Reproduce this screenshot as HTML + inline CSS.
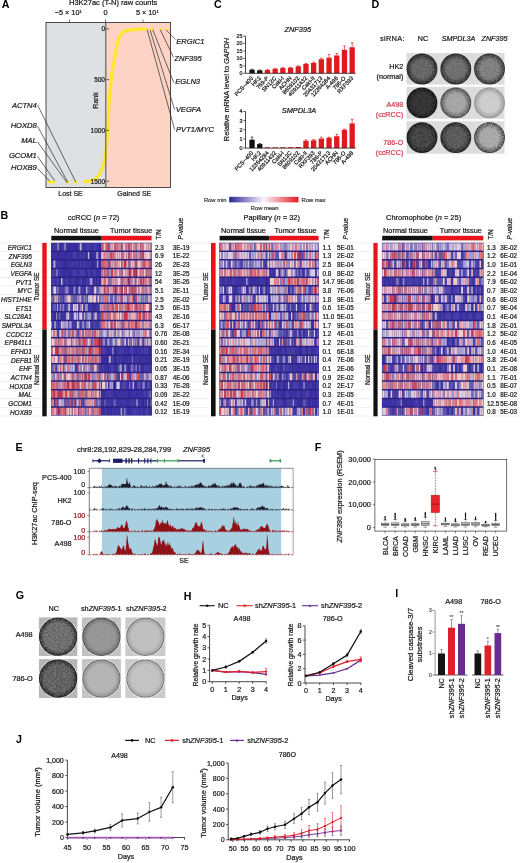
<!DOCTYPE html>
<html lang="en"><head><meta charset="utf-8"><title>Figure</title>
<style>
html,body{margin:0;padding:0;background:#fff;}
body{width:520px;height:863px;overflow:hidden;}
svg{display:block;font-family:'Liberation Sans',sans-serif;filter:blur(0.45px);}
text{stroke-width:0.22px;}
</style></head><body>
<svg width="520" height="863" viewBox="0 0 520 863">
<rect width="520" height="863" fill="#fff"/>

<g id="panelA">
<text x="1.8" y="8.4" font-size="10.7" font-weight="bold" fill="#000">A</text>
<text x="113.2" y="4.9" font-size="7.5" text-anchor="middle" fill="#1a1a1a" stroke="#1a1a1a">H3K27ac (T-N) raw counts</text>
<text x="68.3" y="15.4" font-size="7.3" text-anchor="middle" fill="#1a1a1a" stroke="#1a1a1a">−5 × 10<tspan dy="-2.4" font-size="4.2">1</tspan></text>
<text x="105.6" y="15.4" font-size="7.3" text-anchor="middle" fill="#1a1a1a" stroke="#1a1a1a">0</text>
<text x="147.3" y="15.4" font-size="7.3" text-anchor="middle" fill="#1a1a1a" stroke="#1a1a1a">5 × 10<tspan dy="-2.4" font-size="4.2">1</tspan></text>
<rect x="46" y="22.5" width="59.8" height="165" fill="#dfe0e3"/>
<rect x="105.8" y="22.5" width="64.7" height="165" fill="#fcd3c4"/>
<path d="M83 181.6 C85.33 181.43 86.33 181.77 90 181.1 C93.67 180.43 91 181.63 94 179.6 C97 177.57 96 179.87 99 175 C102 170.13 100.87 171.67 103 165 C105.13 158.33 104.2 161.67 105.4 155 C106.6 148.33 105.73 155 106.6 145 C107.47 135 107.1 140 108 125 C108.9 110 108.2 115 109.3 100 C110.4 85 110.23 90 111.3 80 C112.37 70 111.67 75.83 112.5 70 C113.33 64.17 112.67 68.6 113.8 62.5 C114.93 56.4 114.57 58.5 115.9 51.7 C117.23 44.9 116.2 47.53 117.8 42.1 C119.4 36.67 118.63 38.9 120.7 35.4 C122.77 31.9 120.33 33.47 124 31.6 C127.67 29.73 125.27 30.63 131.7 29.8 C138.13 28.97 138.03 29.33 143.3 29.1 C148.57 28.87 146.1 29.1 147.5 29.1" fill="none" stroke="#ffe72b" stroke-width="3.2" stroke-linejoin="round"/>
<line x1="47.5" y1="182" x2="55.5" y2="182" stroke="#ffe72b" stroke-width="2.6"/>
<line x1="65" y1="182" x2="68.8" y2="182" stroke="#ffe72b" stroke-width="2.6"/>
<line x1="74.3" y1="182" x2="77.2" y2="182" stroke="#ffe72b" stroke-width="2.6"/>
<line x1="149.5" y1="29.3" x2="153.5" y2="29.3" stroke="#ffe72b" stroke-width="2.4"/>
<line x1="159.5" y1="29.3" x2="161.3" y2="29.3" stroke="#ffe72b" stroke-width="2.4"/>
<line x1="165.3" y1="29.3" x2="166.8" y2="29.3" stroke="#ffe72b" stroke-width="2.4"/>
<rect x="46" y="22.5" width="124.5" height="165" fill="none" stroke="#3a3a3a" stroke-width="0.9"/>
<line x1="105.8" y1="22.5" x2="105.8" y2="187.5" stroke="#3a3a3a" stroke-width="0.9"/>
<line x1="69.5" y1="19.5" x2="69.5" y2="22.5" stroke="#3a3a3a" stroke-width="0.7"/>
<line x1="105.5" y1="19.5" x2="105.5" y2="22.5" stroke="#3a3a3a" stroke-width="0.7"/>
<line x1="143" y1="19.5" x2="143" y2="22.5" stroke="#3a3a3a" stroke-width="0.7"/>
<line x1="105.8" y1="28.8" x2="109.3" y2="28.8" stroke="#3a3a3a" stroke-width="0.7"/>
<text x="105" y="31.1" font-size="6.5" text-anchor="end" fill="#1a1a1a" stroke="#1a1a1a">0</text>
<line x1="105.8" y1="79.6" x2="109.3" y2="79.6" stroke="#3a3a3a" stroke-width="0.7"/>
<text x="105" y="81.9" font-size="6.5" text-anchor="end" fill="#1a1a1a" stroke="#1a1a1a">500</text>
<line x1="105.8" y1="130.4" x2="109.3" y2="130.4" stroke="#3a3a3a" stroke-width="0.7"/>
<text x="105" y="132.7" font-size="6.5" text-anchor="end" fill="#1a1a1a" stroke="#1a1a1a">1000</text>
<line x1="105.8" y1="181.2" x2="109.3" y2="181.2" stroke="#3a3a3a" stroke-width="0.7"/>
<text x="105" y="183.5" font-size="6.5" text-anchor="end" fill="#1a1a1a" stroke="#1a1a1a">1500</text>
<text font-size="7" text-anchor="middle" transform="translate(97.7 100.5) rotate(-90)" fill="#1a1a1a" stroke="#1a1a1a">Rank</text>
<text x="36.8" y="108.2" font-size="7.6" text-anchor="end" font-style="italic" fill="#1a1a1a" stroke="#1a1a1a">ACTN4</text>
<line x1="37.6" y1="105" x2="75.7" y2="182" stroke="#2a2a2a" stroke-width="0.7"/>
<text x="36.8" y="127.7" font-size="7.6" text-anchor="end" font-style="italic" fill="#1a1a1a" stroke="#1a1a1a">HOXD8</text>
<line x1="37.6" y1="126.3" x2="67.7" y2="182" stroke="#2a2a2a" stroke-width="0.7"/>
<text x="36.8" y="143.1" font-size="7.6" text-anchor="end" font-style="italic" fill="#1a1a1a" stroke="#1a1a1a">MAL</text>
<line x1="37.6" y1="142" x2="67" y2="182.6" stroke="#2a2a2a" stroke-width="0.7"/>
<text x="36.8" y="158" font-size="7.6" text-anchor="end" font-style="italic" fill="#1a1a1a" stroke="#1a1a1a">GCOM1</text>
<line x1="37.6" y1="156.5" x2="54.6" y2="180.6" stroke="#2a2a2a" stroke-width="0.7"/>
<text x="36.8" y="170" font-size="7.6" text-anchor="end" font-style="italic" fill="#1a1a1a" stroke="#1a1a1a">HOXB9</text>
<line x1="37.6" y1="168.5" x2="49.5" y2="181" stroke="#2a2a2a" stroke-width="0.7"/>
<text x="176.3" y="43.7" font-size="7.6" font-style="italic" fill="#1a1a1a" stroke="#1a1a1a">ERGIC1</text>
<line x1="166" y1="29.8" x2="175.7" y2="39.6" stroke="#2a2a2a" stroke-width="0.7"/>
<text x="174.3" y="60.7" font-size="7.6" font-style="italic" fill="#1a1a1a" stroke="#1a1a1a">ZNF395</text>
<line x1="160.3" y1="29.8" x2="173.5" y2="57.3" stroke="#2a2a2a" stroke-width="0.7"/>
<text x="175.2" y="84.2" font-size="7.6" font-style="italic" fill="#1a1a1a" stroke="#1a1a1a">EGLN3</text>
<line x1="152.8" y1="29.8" x2="173.8" y2="82.7" stroke="#2a2a2a" stroke-width="0.7"/>
<text x="175.8" y="111.7" font-size="7.6" font-style="italic" fill="#1a1a1a" stroke="#1a1a1a">VEGFA</text>
<line x1="150" y1="29.8" x2="174.6" y2="109.6" stroke="#2a2a2a" stroke-width="0.7"/>
<text x="176" y="131.7" font-size="7.6" font-style="italic" fill="#1a1a1a" stroke="#1a1a1a">PVT1/MYC</text>
<line x1="147.2" y1="29.8" x2="174.6" y2="129.6" stroke="#2a2a2a" stroke-width="0.7"/>
<text x="70.5" y="196.2" font-size="7" text-anchor="middle" fill="#1a1a1a" stroke="#1a1a1a">Lost SE</text>
<text x="134.3" y="196.2" font-size="7" text-anchor="middle" fill="#1a1a1a" stroke="#1a1a1a">Gained SE</text>
</g>
<g id="panelC">
<text x="214" y="8.4" font-size="10.7" font-weight="bold" fill="#000">C</text>
<text font-size="7.35" text-anchor="middle" transform="translate(229 89.5) rotate(-90)" fill="#1a1a1a" stroke="#1a1a1a">Relative mRNA level to <tspan font-style="italic">GAPDH</tspan></text>
<line x1="245.5" y1="36.1" x2="245.5" y2="73.3" stroke="#1a1a1a" stroke-width="0.8"/>
<line x1="243.3" y1="73.3" x2="245.5" y2="73.3" stroke="#1a1a1a" stroke-width="0.7"/>
<text x="242.5" y="75.2" font-size="5.4" text-anchor="end" fill="#1a1a1a" stroke="#1a1a1a">0</text>
<line x1="243.3" y1="65.86" x2="245.5" y2="65.86" stroke="#1a1a1a" stroke-width="0.7"/>
<text x="242.5" y="67.76" font-size="5.4" text-anchor="end" fill="#1a1a1a" stroke="#1a1a1a">5</text>
<line x1="243.3" y1="58.42" x2="245.5" y2="58.42" stroke="#1a1a1a" stroke-width="0.7"/>
<text x="242.5" y="60.32" font-size="5.4" text-anchor="end" fill="#1a1a1a" stroke="#1a1a1a">10</text>
<line x1="243.3" y1="50.98" x2="245.5" y2="50.98" stroke="#1a1a1a" stroke-width="0.7"/>
<text x="242.5" y="52.88" font-size="5.4" text-anchor="end" fill="#1a1a1a" stroke="#1a1a1a">15</text>
<line x1="243.3" y1="43.54" x2="245.5" y2="43.54" stroke="#1a1a1a" stroke-width="0.7"/>
<text x="242.5" y="45.44" font-size="5.4" text-anchor="end" fill="#1a1a1a" stroke="#1a1a1a">20</text>
<line x1="243.3" y1="36.1" x2="245.5" y2="36.1" stroke="#1a1a1a" stroke-width="0.7"/>
<text x="242.5" y="38" font-size="5.4" text-anchor="end" fill="#1a1a1a" stroke="#1a1a1a">25</text>
<text x="297.8" y="31.9" font-size="7.4" text-anchor="middle" font-style="italic" fill="#1a1a1a" stroke="#1a1a1a">ZNF395</text>
<line x1="252.05" y1="69.21" x2="252.05" y2="69.73" stroke="#111" stroke-width="0.7"/>
<line x1="250.75" y1="69.21" x2="253.35" y2="69.21" stroke="#111" stroke-width="0.7"/>
<rect x="249.4" y="69.73" width="5.3" height="3.57" fill="#111"/>
<text font-size="5.7" text-anchor="end" transform="translate(253.65 78.5) rotate(-47)" fill="#1a1a1a" stroke="#1a1a1a">PCS−400</text>
<line x1="259.75" y1="70.03" x2="259.75" y2="70.32" stroke="#111" stroke-width="0.7"/>
<line x1="258.45" y1="70.03" x2="261.05" y2="70.03" stroke="#111" stroke-width="0.7"/>
<rect x="257.1" y="70.32" width="5.3" height="2.98" fill="#111"/>
<text font-size="5.7" text-anchor="end" transform="translate(261.35 78.5) rotate(-47)" fill="#1a1a1a" stroke="#1a1a1a">HK2</text>
<line x1="267.45" y1="69.65" x2="267.45" y2="70.03" stroke="#e0191f" stroke-width="0.7"/>
<line x1="266.15" y1="69.65" x2="268.75" y2="69.65" stroke="#e0191f" stroke-width="0.7"/>
<rect x="264.8" y="70.03" width="5.3" height="3.27" fill="#e0191f"/>
<text font-size="5.7" text-anchor="end" transform="translate(269.05 78.5) rotate(-47)" fill="#1a1a1a" stroke="#1a1a1a">769-P</text>
<line x1="275.15" y1="68.39" x2="275.15" y2="68.84" stroke="#e0191f" stroke-width="0.7"/>
<line x1="273.85" y1="68.39" x2="276.45" y2="68.39" stroke="#e0191f" stroke-width="0.7"/>
<rect x="272.5" y="68.84" width="5.3" height="4.46" fill="#e0191f"/>
<text font-size="5.7" text-anchor="end" transform="translate(276.75 78.5) rotate(-47)" fill="#1a1a1a" stroke="#1a1a1a">SN12C</text>
<line x1="282.85" y1="67.57" x2="282.85" y2="68.09" stroke="#e0191f" stroke-width="0.7"/>
<line x1="281.55" y1="67.57" x2="284.15" y2="67.57" stroke="#e0191f" stroke-width="0.7"/>
<rect x="280.2" y="68.09" width="5.3" height="5.21" fill="#e0191f"/>
<text font-size="5.7" text-anchor="end" transform="translate(284.45 78.5) rotate(-47)" fill="#1a1a1a" stroke="#1a1a1a">Caki-I</text>
<line x1="290.55" y1="67.35" x2="290.55" y2="67.79" stroke="#e0191f" stroke-width="0.7"/>
<line x1="289.25" y1="67.35" x2="291.85" y2="67.35" stroke="#e0191f" stroke-width="0.7"/>
<rect x="287.9" y="67.79" width="5.3" height="5.51" fill="#e0191f"/>
<text font-size="5.7" text-anchor="end" transform="translate(292.15 78.5) rotate(-47)" fill="#1a1a1a" stroke="#1a1a1a">ACHN</text>
<line x1="298.25" y1="65.86" x2="298.25" y2="66.31" stroke="#e0191f" stroke-width="0.7"/>
<line x1="296.95" y1="65.86" x2="299.55" y2="65.86" stroke="#e0191f" stroke-width="0.7"/>
<rect x="295.6" y="66.31" width="5.3" height="6.99" fill="#e0191f"/>
<text font-size="5.7" text-anchor="end" transform="translate(299.85 78.5) rotate(-47)" fill="#1a1a1a" stroke="#1a1a1a">8609102</text>
<line x1="305.95" y1="63.48" x2="305.95" y2="63.93" stroke="#e0191f" stroke-width="0.7"/>
<line x1="304.65" y1="63.48" x2="307.25" y2="63.48" stroke="#e0191f" stroke-width="0.7"/>
<rect x="303.3" y="63.93" width="5.3" height="9.37" fill="#e0191f"/>
<text font-size="5.7" text-anchor="end" transform="translate(307.55 78.5) rotate(-47)" fill="#1a1a1a" stroke="#1a1a1a">40911432</text>
<line x1="313.65" y1="62.14" x2="313.65" y2="62.88" stroke="#e0191f" stroke-width="0.7"/>
<line x1="312.35" y1="62.14" x2="314.95" y2="62.14" stroke="#e0191f" stroke-width="0.7"/>
<rect x="311" y="62.88" width="5.3" height="10.42" fill="#e0191f"/>
<text font-size="5.7" text-anchor="end" transform="translate(315.25 78.5) rotate(-47)" fill="#1a1a1a" stroke="#1a1a1a">Caki-II</text>
<line x1="321.35" y1="57.97" x2="321.35" y2="59.16" stroke="#e0191f" stroke-width="0.7"/>
<line x1="320.05" y1="57.97" x2="322.65" y2="57.97" stroke="#e0191f" stroke-width="0.7"/>
<rect x="318.7" y="59.16" width="5.3" height="14.14" fill="#e0191f"/>
<text font-size="5.7" text-anchor="end" transform="translate(322.95 78.5) rotate(-47)" fill="#1a1a1a" stroke="#1a1a1a">20431713</text>
<line x1="329.05" y1="54.4" x2="329.05" y2="57.68" stroke="#e0191f" stroke-width="0.7"/>
<line x1="327.75" y1="54.4" x2="330.35" y2="54.4" stroke="#e0191f" stroke-width="0.7"/>
<rect x="326.4" y="57.68" width="5.3" height="15.62" fill="#e0191f"/>
<text font-size="5.7" text-anchor="end" transform="translate(330.65 78.5) rotate(-47)" fill="#1a1a1a" stroke="#1a1a1a">12364284</text>
<line x1="336.75" y1="53.51" x2="336.75" y2="55.44" stroke="#e0191f" stroke-width="0.7"/>
<line x1="335.45" y1="53.51" x2="338.05" y2="53.51" stroke="#e0191f" stroke-width="0.7"/>
<rect x="334.1" y="55.44" width="5.3" height="17.86" fill="#e0191f"/>
<text font-size="5.7" text-anchor="end" transform="translate(338.35 78.5) rotate(-47)" fill="#1a1a1a" stroke="#1a1a1a">A-498</text>
<line x1="344.45" y1="45.92" x2="344.45" y2="49.79" stroke="#e0191f" stroke-width="0.7"/>
<line x1="343.15" y1="45.92" x2="345.75" y2="45.92" stroke="#e0191f" stroke-width="0.7"/>
<rect x="341.8" y="49.79" width="5.3" height="23.51" fill="#e0191f"/>
<text font-size="5.7" text-anchor="end" transform="translate(346.05 78.5) rotate(-47)" fill="#1a1a1a" stroke="#1a1a1a">786-O</text>
<line x1="352.15" y1="42.8" x2="352.15" y2="47.26" stroke="#e0191f" stroke-width="0.7"/>
<line x1="350.85" y1="42.8" x2="353.45" y2="42.8" stroke="#e0191f" stroke-width="0.7"/>
<rect x="349.5" y="47.26" width="5.3" height="26.04" fill="#e0191f"/>
<text font-size="5.7" text-anchor="end" transform="translate(353.75 78.5) rotate(-47)" fill="#1a1a1a" stroke="#1a1a1a">RXF393</text>
<line x1="245.5" y1="73.3" x2="355.7" y2="73.3" stroke="#1a1a1a" stroke-width="0.8"/>
<line x1="245.5" y1="111.5" x2="245.5" y2="148.1" stroke="#1a1a1a" stroke-width="0.8"/>
<line x1="243.3" y1="148.1" x2="245.5" y2="148.1" stroke="#1a1a1a" stroke-width="0.7"/>
<text x="242.5" y="150" font-size="5.4" text-anchor="end" fill="#1a1a1a" stroke="#1a1a1a">0</text>
<line x1="243.3" y1="138.95" x2="245.5" y2="138.95" stroke="#1a1a1a" stroke-width="0.7"/>
<text x="242.5" y="140.85" font-size="5.4" text-anchor="end" fill="#1a1a1a" stroke="#1a1a1a">1</text>
<line x1="243.3" y1="129.8" x2="245.5" y2="129.8" stroke="#1a1a1a" stroke-width="0.7"/>
<text x="242.5" y="131.7" font-size="5.4" text-anchor="end" fill="#1a1a1a" stroke="#1a1a1a">2</text>
<line x1="243.3" y1="120.65" x2="245.5" y2="120.65" stroke="#1a1a1a" stroke-width="0.7"/>
<text x="242.5" y="122.55" font-size="5.4" text-anchor="end" fill="#1a1a1a" stroke="#1a1a1a">3</text>
<line x1="243.3" y1="111.5" x2="245.5" y2="111.5" stroke="#1a1a1a" stroke-width="0.7"/>
<text x="242.5" y="113.4" font-size="5.4" text-anchor="end" fill="#1a1a1a" stroke="#1a1a1a">4</text>
<text x="299" y="112.9" font-size="7.4" text-anchor="middle" font-style="italic" fill="#1a1a1a" stroke="#1a1a1a">SMPDL3A</text>
<line x1="252.05" y1="137.12" x2="252.05" y2="139.68" stroke="#111" stroke-width="0.7"/>
<line x1="250.75" y1="137.12" x2="253.35" y2="137.12" stroke="#111" stroke-width="0.7"/>
<rect x="249.4" y="139.68" width="5.3" height="8.42" fill="#111"/>
<text font-size="5.7" text-anchor="end" transform="translate(253.65 153.3) rotate(-47)" fill="#1a1a1a" stroke="#1a1a1a">PCS−400</text>
<line x1="259.75" y1="143.62" x2="259.75" y2="144.07" stroke="#111" stroke-width="0.7"/>
<line x1="258.45" y1="143.62" x2="261.05" y2="143.62" stroke="#111" stroke-width="0.7"/>
<rect x="257.1" y="144.07" width="5.3" height="4.03" fill="#111"/>
<text font-size="5.7" text-anchor="end" transform="translate(261.35 153.3) rotate(-47)" fill="#1a1a1a" stroke="#1a1a1a">HK2</text>
<rect x="264.8" y="147.37" width="5.3" height="0.73" fill="#e0191f"/>
<text font-size="5.7" text-anchor="end" transform="translate(269.05 153.3) rotate(-47)" fill="#1a1a1a" stroke="#1a1a1a">12364284</text>
<rect x="272.5" y="147.37" width="5.3" height="0.73" fill="#e0191f"/>
<text font-size="5.7" text-anchor="end" transform="translate(276.75 153.3) rotate(-47)" fill="#1a1a1a" stroke="#1a1a1a">40911432</text>
<rect x="280.2" y="147.28" width="5.3" height="0.82" fill="#e0191f"/>
<text font-size="5.7" text-anchor="end" transform="translate(284.45 153.3) rotate(-47)" fill="#1a1a1a" stroke="#1a1a1a">Caki-I</text>
<rect x="287.9" y="147.19" width="5.3" height="0.92" fill="#e0191f"/>
<text font-size="5.7" text-anchor="end" transform="translate(292.15 153.3) rotate(-47)" fill="#1a1a1a" stroke="#1a1a1a">SN12C</text>
<rect x="295.6" y="147" width="5.3" height="1.1" fill="#e0191f"/>
<text font-size="5.7" text-anchor="end" transform="translate(299.85 153.3) rotate(-47)" fill="#1a1a1a" stroke="#1a1a1a">8609102</text>
<line x1="305.95" y1="139.87" x2="305.95" y2="140.78" stroke="#e0191f" stroke-width="0.7"/>
<line x1="304.65" y1="139.87" x2="307.25" y2="139.87" stroke="#e0191f" stroke-width="0.7"/>
<rect x="303.3" y="140.78" width="5.3" height="7.32" fill="#e0191f"/>
<text font-size="5.7" text-anchor="end" transform="translate(307.55 153.3) rotate(-47)" fill="#1a1a1a" stroke="#1a1a1a">Caki-II</text>
<line x1="313.65" y1="139.59" x2="313.65" y2="140.32" stroke="#e0191f" stroke-width="0.7"/>
<line x1="312.35" y1="139.59" x2="314.95" y2="139.59" stroke="#e0191f" stroke-width="0.7"/>
<rect x="311" y="140.32" width="5.3" height="7.78" fill="#e0191f"/>
<text font-size="5.7" text-anchor="end" transform="translate(315.25 153.3) rotate(-47)" fill="#1a1a1a" stroke="#1a1a1a">RXF393</text>
<line x1="321.35" y1="137.21" x2="321.35" y2="138.58" stroke="#e0191f" stroke-width="0.7"/>
<line x1="320.05" y1="137.21" x2="322.65" y2="137.21" stroke="#e0191f" stroke-width="0.7"/>
<rect x="318.7" y="138.58" width="5.3" height="9.52" fill="#e0191f"/>
<text font-size="5.7" text-anchor="end" transform="translate(322.95 153.3) rotate(-47)" fill="#1a1a1a" stroke="#1a1a1a">786-P</text>
<line x1="329.05" y1="137.21" x2="329.05" y2="137.76" stroke="#e0191f" stroke-width="0.7"/>
<line x1="327.75" y1="137.21" x2="330.35" y2="137.21" stroke="#e0191f" stroke-width="0.7"/>
<rect x="326.4" y="137.76" width="5.3" height="10.34" fill="#e0191f"/>
<text font-size="5.7" text-anchor="end" transform="translate(330.65 153.3) rotate(-47)" fill="#1a1a1a" stroke="#1a1a1a">20431713</text>
<line x1="336.75" y1="134.37" x2="336.75" y2="136.2" stroke="#e0191f" stroke-width="0.7"/>
<line x1="335.45" y1="134.37" x2="338.05" y2="134.37" stroke="#e0191f" stroke-width="0.7"/>
<rect x="334.1" y="136.2" width="5.3" height="11.9" fill="#e0191f"/>
<text font-size="5.7" text-anchor="end" transform="translate(338.35 153.3) rotate(-47)" fill="#1a1a1a" stroke="#1a1a1a">ACHN</text>
<line x1="344.45" y1="129.07" x2="344.45" y2="129.8" stroke="#e0191f" stroke-width="0.7"/>
<line x1="343.15" y1="129.07" x2="345.75" y2="129.07" stroke="#e0191f" stroke-width="0.7"/>
<rect x="341.8" y="129.8" width="5.3" height="18.3" fill="#e0191f"/>
<text font-size="5.7" text-anchor="end" transform="translate(346.05 153.3) rotate(-47)" fill="#1a1a1a" stroke="#1a1a1a">786-O</text>
<line x1="352.15" y1="119.28" x2="352.15" y2="123.39" stroke="#e0191f" stroke-width="0.7"/>
<line x1="350.85" y1="119.28" x2="353.45" y2="119.28" stroke="#e0191f" stroke-width="0.7"/>
<rect x="349.5" y="123.39" width="5.3" height="24.71" fill="#e0191f"/>
<text font-size="5.7" text-anchor="end" transform="translate(353.75 153.3) rotate(-47)" fill="#1a1a1a" stroke="#1a1a1a">A-498</text>
<line x1="245.5" y1="148.1" x2="355.7" y2="148.1" stroke="#1a1a1a" stroke-width="0.8"/>
</g>
<g id="panelD">
<defs><filter id="speck" x="0" y="0" width="100%" height="100%"><feTurbulence type="fractalNoise" baseFrequency="0.55" numOctaves="2" seed="7" result="n"/><feColorMatrix in="n" type="matrix" values="0 0 0 0 0.5  0 0 0 0 0.5  0 0 0 0 0.5  2.6 2.6 0 0 -2.2"/><feComposite in2="SourceGraphic" operator="in"/></filter></defs>
<text x="371.4" y="8.3" font-size="10.7" font-weight="bold" fill="#000">D</text>
<text x="380" y="41" font-size="7.4" fill="#1a1a1a" stroke="#1a1a1a" letter-spacing="0.3">siRNA:</text>
<text x="423" y="41" font-size="7.2" text-anchor="middle" fill="#1a1a1a" stroke="#1a1a1a">NC</text>
<text x="458.5" y="41" font-size="7.2" text-anchor="middle" font-style="italic" fill="#1a1a1a" stroke="#1a1a1a">SMPDL3A</text>
<text x="494.5" y="41" font-size="7.2" text-anchor="middle" font-style="italic" fill="#1a1a1a" stroke="#1a1a1a">ZNF395</text>
<text x="403.3" y="68.8" font-size="7.2" text-anchor="end" fill="#1a1a1a" stroke="#1a1a1a">HK2</text>
<text x="403.3" y="79.1" font-size="7.2" text-anchor="end" fill="#1a1a1a" stroke="#1a1a1a">(normal)</text>
<text x="403.3" y="106.8" font-size="7.2" text-anchor="end" fill="#cf3b4a" stroke="#cf3b4a">A498</text>
<text x="403.3" y="116.5" font-size="7.2" text-anchor="end" fill="#cf3b4a" stroke="#cf3b4a">(ccRCC)</text>
<text x="403.3" y="144.5" font-size="7.2" text-anchor="end" fill="#cf3b4a" stroke="#cf3b4a">786-O</text>
<text x="403.3" y="154.9" font-size="7.2" text-anchor="end" fill="#cf3b4a" stroke="#cf3b4a">(ccRCC)</text>
<rect x="406.5" y="53" width="98" height="31.6" fill="#dcdcdc"/>
<radialGradient id="wg0" cx="422" cy="69" r="15.4" gradientUnits="userSpaceOnUse"><stop offset="0" stop-color="#5e5e5e"/><stop offset="0.6" stop-color="#5e5e5e"/><stop offset="0.92" stop-color="#2a2a2a"/><stop offset="1" stop-color="#1c1c1c"/></radialGradient>
<circle cx="422" cy="69" r="15.4" fill="url(#wg0)"/>
<circle cx="422" cy="69" r="14.8" fill="#fff" filter="url(#speck)" opacity="0.22"/>
<radialGradient id="wg1" cx="455.8" cy="69" r="15.4" gradientUnits="userSpaceOnUse"><stop offset="0" stop-color="#686868"/><stop offset="0.6" stop-color="#686868"/><stop offset="0.92" stop-color="#303030"/><stop offset="1" stop-color="#1c1c1c"/></radialGradient>
<circle cx="455.8" cy="69" r="15.4" fill="url(#wg1)"/>
<circle cx="455.8" cy="69" r="14.8" fill="#fff" filter="url(#speck)" opacity="0.22"/>
<radialGradient id="wg2" cx="489.5" cy="69" r="15.4" gradientUnits="userSpaceOnUse"><stop offset="0" stop-color="#787878"/><stop offset="0.6" stop-color="#787878"/><stop offset="0.92" stop-color="#383838"/><stop offset="1" stop-color="#222"/></radialGradient>
<circle cx="489.5" cy="69" r="15.4" fill="url(#wg2)"/>
<circle cx="489.5" cy="69" r="14.8" fill="#fff" filter="url(#speck)" opacity="0.28"/>
<rect x="406.5" y="86.8" width="98" height="32" fill="#dcdcdc"/>
<radialGradient id="wg3" cx="422" cy="102.9" r="15.4" gradientUnits="userSpaceOnUse"><stop offset="0" stop-color="#2e2e2e"/><stop offset="0.6" stop-color="#2e2e2e"/><stop offset="0.92" stop-color="#1a1a1a"/><stop offset="1" stop-color="#161616"/></radialGradient>
<circle cx="422" cy="102.9" r="15.4" fill="url(#wg3)"/>
<circle cx="422" cy="102.9" r="14.8" fill="#fff" filter="url(#speck)" opacity="0.12"/>
<radialGradient id="wg4" cx="455.8" cy="102.9" r="15.4" gradientUnits="userSpaceOnUse"><stop offset="0" stop-color="#a2a2a2"/><stop offset="0.6" stop-color="#a2a2a2"/><stop offset="0.92" stop-color="#5a5a5a"/><stop offset="1" stop-color="#3a3a3a"/></radialGradient>
<circle cx="455.8" cy="102.9" r="15.4" fill="url(#wg4)"/>
<circle cx="455.8" cy="102.9" r="14.8" fill="#fff" filter="url(#speck)" opacity="0.3"/>
<radialGradient id="wg5" cx="489.5" cy="102.9" r="15.4" gradientUnits="userSpaceOnUse"><stop offset="0" stop-color="#d0d0d0"/><stop offset="0.6" stop-color="#d0d0d0"/><stop offset="0.92" stop-color="#a4a4a4"/><stop offset="1" stop-color="#8a8a8a"/></radialGradient>
<circle cx="489.5" cy="102.9" r="15.4" fill="url(#wg5)"/>
<circle cx="489.5" cy="102.9" r="14.8" fill="#fff" filter="url(#speck)" opacity="0.3"/>
<rect x="406.5" y="121.2" width="98" height="32.6" fill="#dcdcdc"/>
<radialGradient id="wg6" cx="422" cy="137.6" r="15.4" gradientUnits="userSpaceOnUse"><stop offset="0" stop-color="#3c3c3c"/><stop offset="0.6" stop-color="#3c3c3c"/><stop offset="0.92" stop-color="#1f1f1f"/><stop offset="1" stop-color="#161616"/></radialGradient>
<circle cx="422" cy="137.6" r="15.4" fill="url(#wg6)"/>
<circle cx="422" cy="137.6" r="14.8" fill="#fff" filter="url(#speck)" opacity="0.18"/>
<radialGradient id="wg7" cx="455.8" cy="137.6" r="15.4" gradientUnits="userSpaceOnUse"><stop offset="0" stop-color="#525252"/><stop offset="0.6" stop-color="#525252"/><stop offset="0.92" stop-color="#282828"/><stop offset="1" stop-color="#1a1a1a"/></radialGradient>
<circle cx="455.8" cy="137.6" r="15.4" fill="url(#wg7)"/>
<circle cx="455.8" cy="137.6" r="14.8" fill="#fff" filter="url(#speck)" opacity="0.22"/>
<radialGradient id="wg8" cx="489.5" cy="137.6" r="15.4" gradientUnits="userSpaceOnUse"><stop offset="0" stop-color="#a4a4a4"/><stop offset="0.6" stop-color="#a4a4a4"/><stop offset="0.92" stop-color="#4c4c4c"/><stop offset="1" stop-color="#2c2c2c"/></radialGradient>
<circle cx="489.5" cy="137.6" r="15.4" fill="url(#wg8)"/>
<circle cx="489.5" cy="137.6" r="14.8" fill="#fff" filter="url(#speck)" opacity="0.5"/>
</g>
<g id="panelB">
<text x="0.5" y="218.9" font-size="10.7" font-weight="bold" fill="#000">B</text>
<defs><linearGradient id="lg"><stop offset="0" stop-color="#2b2596"/><stop offset="0.5" stop-color="#fbf4fb"/><stop offset="1" stop-color="#e21a22"/></linearGradient></defs>
<rect x="229.2" y="196.8" width="69.3" height="5.6" fill="url(#lg)"/>
<text x="226.5" y="201.8" font-size="5.8" text-anchor="end" fill="#3c3c46" stroke="#3c3c46">Row min</text>
<text x="301.5" y="201.8" font-size="5.8" fill="#3c3c46" stroke="#3c3c46">Row max</text>
<text x="264.6" y="209.6" font-size="5.8" text-anchor="middle" fill="#3c3c46" stroke="#3c3c46">Row mean</text>
<path d="M0 242.85H51M0 251.51H51M0 260.17H51M0 268.83H51M0 277.49H51M0 286.15H51M0 294.81H51M0 303.47H51M0 312.13H51M0 320.79H51M0 329.45H51M0 338.11H51M0 346.77H51M0 355.43H51M0 364.09H51M0 372.75H51M0 381.41H51M0 390.07H51M0 398.73H51M0 407.39H51M0 416.05H51" fill="none" stroke="#e0e0e0" stroke-width="0.5"/>
<path d="M152 242.85H209M152 251.51H209M152 260.17H209M152 268.83H209M152 277.49H209M152 286.15H209M152 294.81H209M152 303.47H209M152 312.13H209M152 320.79H209M152 329.45H209M152 338.11H209M152 346.77H209M152 355.43H209M152 364.09H209M152 372.75H209M152 381.41H209M152 390.07H209M152 398.73H209M152 407.39H209M152 416.05H209" fill="none" stroke="#e0e0e0" stroke-width="0.5"/>
<path d="M319 242.85H372M319 251.51H372M319 260.17H372M319 268.83H372M319 277.49H372M319 286.15H372M319 294.81H372M319 303.47H372M319 312.13H372M319 320.79H372M319 329.45H372M319 338.11H372M319 346.77H372M319 355.43H372M319 364.09H372M319 372.75H372M319 381.41H372M319 390.07H372M319 398.73H372M319 407.39H372M319 416.05H372" fill="none" stroke="#e0e0e0" stroke-width="0.5"/>
<path d="M484 242.85H520M484 251.51H520M484 260.17H520M484 268.83H520M484 277.49H520M484 286.15H520M484 294.81H520M484 303.47H520M484 312.13H520M484 320.79H520M484 329.45H520M484 338.11H520M484 346.77H520M484 355.43H520M484 364.09H520M484 372.75H520M484 381.41H520M484 390.07H520M484 398.73H520M484 407.39H520M484 416.05H520" fill="none" stroke="#e0e0e0" stroke-width="0.5"/>
<text x="93.6" y="219.7" font-size="7.45" text-anchor="middle" fill="#1a1a1a" stroke="#1a1a1a">ccRCC (<tspan font-style="italic">n</tspan> = 72)</text>
<text x="76.5" y="232.7" font-size="7.35" text-anchor="middle" fill="#1a1a1a" stroke="#1a1a1a">Normal tissue</text>
<text x="131.2" y="232.7" font-size="7.35" text-anchor="middle" fill="#1a1a1a" stroke="#1a1a1a">Tumor tissue</text>
<rect x="51.3" y="235.8" width="49.7" height="4.6" fill="#111"/>
<rect x="101" y="235.8" width="50.6" height="4.6" fill="#e8121c"/>
<text font-size="6.4" transform="translate(160.8 239.6) rotate(-90)" fill="#1a1a1a" stroke="#1a1a1a">T/N</text>
<text font-size="6.4" transform="translate(183.2 239.6) rotate(-90)" fill="#1a1a1a" stroke="#1a1a1a"><tspan font-style="italic">P</tspan>-value</text>
<rect x="42.3" y="242.9" width="4.4" height="86.6" fill="#e8121c"/>
<rect x="42.3" y="329.5" width="4.4" height="86.8" fill="#111"/>
<text font-size="6.3" text-anchor="middle" transform="translate(39.4 286.6) rotate(-90)" fill="#1a1a1a" stroke="#1a1a1a">Tumor SE</text>
<text font-size="6.3" text-anchor="middle" transform="translate(39.4 369.74) rotate(-90)" fill="#1a1a1a" stroke="#1a1a1a">Normal SE</text>
<text x="31.8" y="250.03" font-size="6.45" text-anchor="end" font-style="italic" fill="#1a1a1a" stroke="#1a1a1a">ERGIC1</text>
<text x="31.8" y="258.69" font-size="6.45" text-anchor="end" font-style="italic" fill="#1a1a1a" stroke="#1a1a1a">ZNF395</text>
<text x="31.8" y="267.35" font-size="6.45" text-anchor="end" font-style="italic" fill="#1a1a1a" stroke="#1a1a1a">EGLN3</text>
<text x="31.8" y="276.01" font-size="6.45" text-anchor="end" font-style="italic" fill="#1a1a1a" stroke="#1a1a1a">VEGFA</text>
<text x="31.8" y="284.67" font-size="6.45" text-anchor="end" font-style="italic" fill="#1a1a1a" stroke="#1a1a1a">PVT1</text>
<text x="31.8" y="293.33" font-size="6.45" text-anchor="end" font-style="italic" fill="#1a1a1a" stroke="#1a1a1a">MYC</text>
<text x="31.8" y="301.99" font-size="6.45" text-anchor="end" font-style="italic" fill="#1a1a1a" stroke="#1a1a1a">HIST1H4E</text>
<text x="31.8" y="310.65" font-size="6.45" text-anchor="end" font-style="italic" fill="#1a1a1a" stroke="#1a1a1a">ETS1</text>
<text x="31.8" y="319.31" font-size="6.45" text-anchor="end" font-style="italic" fill="#1a1a1a" stroke="#1a1a1a">SLC28A1</text>
<text x="31.8" y="327.97" font-size="6.45" text-anchor="end" font-style="italic" fill="#1a1a1a" stroke="#1a1a1a">SMPDL3A</text>
<text x="31.8" y="336.63" font-size="6.45" text-anchor="end" font-style="italic" fill="#1a1a1a" stroke="#1a1a1a">CCDC12</text>
<text x="31.8" y="345.29" font-size="6.45" text-anchor="end" font-style="italic" fill="#1a1a1a" stroke="#1a1a1a">EPB41L1</text>
<text x="31.8" y="353.95" font-size="6.45" text-anchor="end" font-style="italic" fill="#1a1a1a" stroke="#1a1a1a">EFHD1</text>
<text x="31.8" y="362.61" font-size="6.45" text-anchor="end" font-style="italic" fill="#1a1a1a" stroke="#1a1a1a">DEFB1</text>
<text x="31.8" y="371.27" font-size="6.45" text-anchor="end" font-style="italic" fill="#1a1a1a" stroke="#1a1a1a">EHF</text>
<text x="31.8" y="379.93" font-size="6.45" text-anchor="end" font-style="italic" fill="#1a1a1a" stroke="#1a1a1a">ACTN4</text>
<text x="31.8" y="388.59" font-size="6.45" text-anchor="end" font-style="italic" fill="#1a1a1a" stroke="#1a1a1a">HOXD8</text>
<text x="31.8" y="397.25" font-size="6.45" text-anchor="end" font-style="italic" fill="#1a1a1a" stroke="#1a1a1a">MAL</text>
<text x="31.8" y="405.91" font-size="6.45" text-anchor="end" font-style="italic" fill="#1a1a1a" stroke="#1a1a1a">GCOM1</text>
<text x="31.8" y="414.57" font-size="6.45" text-anchor="end" font-style="italic" fill="#1a1a1a" stroke="#1a1a1a">HOXB9</text>
<rect x="51" y="242.7" width="100.9" height="172.9" fill="#2a2182"/>
<g stroke-width="7.16" fill="none">
<path stroke="#483ca8" d="M51.3 246.88h1.38M54.75 246.88h2.76M58.89 246.88h0.69M62.34 246.88h2.07M71.32 246.88h1.38M77.53 246.88h2.07M82.36 246.88h1.38M85.12 246.88h4.83M91.34 246.88h5.52M69.25 255.54h1.38M71.32 255.54h5.52M77.53 255.54h4.14M83.05 255.54h2.76M90.65 255.54h0.69M98.24 255.54h2.76M51.3 264.2h0.69M56.13 264.2h4.83M65.11 264.2h1.38M71.32 264.2h2.76M75.46 264.2h3.45M79.6 264.2h2.76M83.05 264.2h4.14M90.65 264.2h0.69M98.24 264.2h0.69M51.3 272.86h4.83M60.96 272.86h0.69M64.42 272.86h2.07M68.56 272.86h0.69M71.32 272.86h4.83M77.53 272.86h7.59M87.88 272.86h2.76M91.34 272.86h4.83M100.31 272.86h0.69M51.3 281.52h3.45M58.2 281.52h0.69M64.42 281.52h4.14M70.63 281.52h4.14M78.91 281.52h3.45M85.81 281.52h4.14M94.79 281.52h1.38M97.55 281.52h2.07M56.13 290.18h0.69M58.89 290.18h1.38M61.65 290.18h2.07M76.15 290.18h0.69M80.29 290.18h4.14M90.65 290.18h2.07M63.03 298.84h0.69M87.19 298.84h0.69M67.18 307.5h0.69M83.05 307.5h2.07M91.34 307.5h1.38M95.48 307.5h1.38M98.93 307.5h0.69M51.3 316.16h2.07M59.58 316.16h2.07M71.32 316.16h2.07M96.86 316.16h2.07M59.58 324.82h1.38M72.01 324.82h2.07M80.29 324.82h2.07M89.96 324.82h2.76M94.79 324.82h1.38M97.55 324.82h1.38M101 342.14h1.41M105.22 342.14h2.11M101 350.8h4.92M113.65 350.8h0.7M119.97 350.8h4.22M129.11 350.8h4.92M140.36 350.8h7.73M150.9 350.8h0.7M104.51 359.46h0.7M111.54 359.46h2.81M116.46 359.46h2.81M119.97 359.46h2.81M124.19 359.46h0.7M127.71 359.46h2.11M134.73 359.46h3.51M138.95 359.46h0.7M141.76 359.46h2.11M98.93 368.12h0.69M101.7 368.12h2.81M107.33 368.12h1.41M110.14 368.12h4.92M116.46 368.12h2.81M126.3 368.12h0.7M128.41 368.12h2.81M136.84 368.12h0.7M139.65 368.12h1.41M143.17 368.12h2.81M146.68 368.12h4.92M117.87 376.78h2.11M129.81 376.78h1.41M112.95 385.44h1.41M125.6 385.44h1.41M128.41 385.44h0.7M129.81 385.44h2.81M136.14 385.44h0.7M144.57 385.44h0.7M105.92 394.1h5.62M120.68 394.1h2.11M124.19 394.1h0.7M126.3 394.1h1.41M138.95 394.1h1.41M141.76 394.1h4.22M146.68 394.1h2.81M101 402.76h1.41M105.22 402.76h5.62M116.46 402.76h1.41M120.68 402.76h4.22M128.41 402.76h3.51M139.65 402.76h1.41M143.87 402.76h1.41M105.92 411.42h1.41M112.95 411.42h1.41M115.06 411.42h1.41M117.87 411.42h0.7M122.08 411.42h2.11M132.62 411.42h5.62M141.06 411.42h2.11M145.98 411.42h2.81"/>
<path stroke="#3c3ca8" d="M52.68 246.88h2.07M70.63 246.88h0.69M92.72 255.54h1.38M68.56 264.2h2.76M78.91 264.2h0.69M88.57 264.2h2.07M58.2 272.86h2.76M98.93 272.86h1.38M62.34 281.52h2.07M98.24 307.5h0.69M61.65 316.16h2.07M116.46 350.8h3.51M126.3 359.46h0.7M138.25 359.46h0.7M147.38 359.46h0.7M101 368.12h0.7M127 368.12h0.7M145.98 368.12h0.7M108.03 385.44h1.41M132.62 394.1h1.41M54.06 402.76h1.38M80.98 402.76h0.69M131.92 402.76h4.22M116.46 411.42h1.41M125.6 411.42h1.41M144.57 411.42h1.41"/>
<path stroke="#c0c0e4" d="M57.51 246.88h1.38M60.96 281.52h1.38M87.88 298.84h2.07M51.3 324.82h0.69M68.56 402.76h0.69"/>
<path stroke="#3c309c" d="M59.58 246.88h2.76M65.8 246.88h3.45M74.77 246.88h0.69M100.31 246.88h0.69M58.2 255.54h2.07M63.03 255.54h0.69M65.11 255.54h2.76M91.34 255.54h1.38M64.42 264.2h0.69M66.49 264.2h1.38M82.36 264.2h0.69M92.72 264.2h2.07M96.17 264.2h0.69M98.93 264.2h2.07M90.65 272.86h0.69M96.17 272.86h2.76M59.58 281.52h1.38M68.56 281.52h2.07M74.77 281.52h2.07M83.05 281.52h2.76M96.17 281.52h1.38M99.62 281.52h1.38M84.43 290.18h1.38M92.72 307.5h2.76M55.44 316.16h0.69M74.77 324.82h2.07M105.92 350.8h2.11M115.76 350.8h0.7M148.09 350.8h1.41M103.11 359.46h1.41M106.62 359.46h2.11M110.84 359.46h0.7M114.35 359.46h2.11M119.27 359.46h0.7M122.79 359.46h1.41M139.65 359.46h2.11M145.98 359.46h1.41M148.09 359.46h3.51M74.77 368.12h1.38M115.06 368.12h1.41M122.79 368.12h1.41M133.33 368.12h2.11M141.06 368.12h2.11M114.35 385.44h2.11M150.19 385.44h1.41M101 394.1h2.11M103.81 394.1h2.11M115.76 394.1h2.11M127.71 394.1h1.41M67.87 402.76h0.69M115.76 402.76h0.7M141.76 402.76h2.11M145.28 402.76h2.11M149.49 402.76h0.7M101 411.42h2.11M108.73 411.42h2.81M143.17 411.42h1.41M148.79 411.42h2.81"/>
<path stroke="#ccc0e4" d="M64.42 246.88h1.38M73.39 290.18h1.38M85.81 290.18h1.38M117.16 298.84h1.41M56.82 307.5h1.38M86.5 307.5h0.69M82.36 324.82h1.38M124.89 333.48h1.41M139.65 333.48h2.11M112.95 342.14h2.11M124.19 342.14h2.11M69.25 368.12h1.38M72.7 368.12h2.07M112.24 385.44h0.7"/>
<path stroke="#3c30a8" d="M69.25 246.88h1.38M72.7 246.88h2.07M75.46 246.88h2.07M81.67 246.88h0.69M83.74 246.88h1.38M89.96 246.88h1.38M96.86 246.88h3.45M51.3 255.54h6.9M60.27 255.54h2.76M63.72 255.54h1.38M67.87 255.54h1.38M70.63 255.54h0.69M76.84 255.54h0.69M81.67 255.54h1.38M85.81 255.54h2.07M89.27 255.54h1.38M94.1 255.54h2.07M51.99 264.2h1.38M55.44 264.2h0.69M60.96 264.2h3.45M67.87 264.2h0.69M74.08 264.2h1.38M87.19 264.2h1.38M91.34 264.2h1.38M94.79 264.2h1.38M61.65 272.86h2.76M66.49 272.86h2.07M69.25 272.86h2.07M76.15 272.86h1.38M85.12 272.86h2.76M54.75 281.52h2.76M58.89 281.52h0.69M76.84 281.52h2.07M82.36 281.52h0.69M92.72 281.52h2.07M68.56 290.18h2.07M71.32 290.18h2.07M76.84 290.18h1.38M73.39 298.84h1.38M51.3 307.5h1.38M56.13 307.5h0.69M64.42 307.5h0.69M78.22 307.5h1.38M87.88 307.5h2.76M96.86 307.5h0.69M53.37 316.16h2.07M63.72 316.16h2.07M51.99 324.82h2.07M126.3 342.14h1.41M147.38 342.14h0.7M108.03 350.8h4.22M114.35 350.8h1.41M124.19 350.8h4.92M134.03 350.8h6.32M149.49 350.8h1.41M101 359.46h2.11M105.22 359.46h1.41M124.89 359.46h1.41M127 359.46h0.7M129.81 359.46h2.11M132.62 359.46h2.11M143.87 359.46h2.11M104.51 368.12h2.81M108.73 368.12h1.41M122.08 368.12h0.7M127.71 368.12h0.7M137.54 368.12h1.41M116.46 376.78h0.7M119.97 385.44h1.41M127 385.44h1.41M134.03 385.44h2.11M141.06 385.44h1.41M145.28 385.44h2.11M103.11 394.1h0.7M111.54 394.1h4.22M117.87 394.1h2.81M122.79 394.1h1.41M124.89 394.1h1.41M129.11 394.1h3.51M134.03 394.1h4.92M140.36 394.1h1.41M145.98 394.1h0.7M150.9 394.1h0.7M102.41 402.76h2.11M110.84 402.76h2.81M117.87 402.76h2.81M124.89 402.76h3.51M137.54 402.76h2.11M141.06 402.76h0.7M148.09 402.76h1.41M103.11 411.42h2.81M107.33 411.42h1.41M111.54 411.42h1.41M114.35 411.42h0.7M118.57 411.42h2.11M127 411.42h5.62M138.25 411.42h2.81"/>
<path stroke="#b4b4d8" d="M79.6 246.88h2.07M115.76 342.14h0.7M130.52 342.14h0.7M76.15 402.76h0.69"/>
<path stroke="#e46c78" d="M101 246.88h1.41M109.43 246.88h0.7M115.06 246.88h2.81M121.38 246.88h1.41M128.41 246.88h2.81M109.43 255.54h0.7M140.36 255.54h1.41M102.41 272.86h0.7M104.51 272.86h2.11M119.27 272.86h1.41M139.65 272.86h1.41M150.19 272.86h0.7M108.03 281.52h1.41M143.17 281.52h0.7M115.76 290.18h0.7M119.27 290.18h0.7M129.11 290.18h2.11M135.44 298.84h1.41M108.03 307.5h2.11M139.65 307.5h0.7M143.17 307.5h2.11M103.11 316.16h1.41M109.43 316.16h1.41M119.27 316.16h0.7M137.54 316.16h2.11M142.46 316.16h1.41M101 324.82h4.22M114.35 324.82h1.41M137.54 324.82h1.41M61.65 333.48h0.69M88.57 333.48h2.07M54.75 342.14h2.07M76.15 342.14h0.69M90.65 342.14h0.69M95.48 350.8h3.45M89.96 359.46h2.07M95.48 359.46h1.38M56.82 368.12h0.69M64.42 376.78h0.69M94.79 376.78h0.69M51.3 385.44h2.07M56.13 385.44h1.38M74.77 385.44h2.07M61.65 394.1h0.69M80.29 394.1h2.07M72.01 411.42h0.69M85.12 411.42h0.69"/>
<path stroke="#e47878" d="M102.41 246.88h1.41M131.22 246.88h0.7M143.17 255.54h0.7M105.22 264.2h0.7M128.41 264.2h0.7M136.14 264.2h1.41M103.81 272.86h0.7M104.51 290.18h0.7M124.89 290.18h1.41M132.62 290.18h0.7M105.22 298.84h2.81M131.92 298.84h1.41M104.51 307.5h1.41M126.3 307.5h1.41M140.36 307.5h1.41M113.65 316.16h1.41M136.84 316.16h0.7M148.09 316.16h1.41M128.41 324.82h0.7M58.2 342.14h2.76M81.67 342.14h0.69M65.11 350.8h1.38M88.57 359.46h1.38M93.41 359.46h2.07M54.06 385.44h2.07M68.56 385.44h1.38M78.91 411.42h1.38M97.55 411.42h1.38"/>
<path stroke="#f0cccc" d="M103.81 246.88h1.41M131.92 246.88h1.41M143.17 246.88h3.51M108.03 255.54h1.41M124.89 255.54h1.41M145.28 255.54h5.62M119.97 264.2h1.41M130.52 264.2h1.41M137.54 264.2h2.81M143.17 264.2h0.7M103.11 272.86h0.7M110.14 272.86h0.7M120.68 272.86h0.7M122.79 272.86h2.11M137.54 272.86h2.11M141.06 272.86h0.7M143.17 272.86h2.11M117.87 281.52h2.81M136.14 281.52h2.11M94.1 290.18h2.07M98.93 290.18h2.07M122.79 290.18h1.41M127 290.18h2.11M139.65 290.18h2.11M64.42 298.84h1.38M67.18 298.84h3.45M74.77 298.84h0.69M89.96 298.84h6.21M97.55 298.84h2.07M148.09 298.84h2.11M60.27 307.5h0.69M72.7 307.5h2.07M76.84 307.5h1.38M81.67 307.5h1.38M99.62 307.5h1.38M107.33 307.5h0.7M129.11 307.5h0.7M145.98 307.5h3.51M56.13 316.16h0.69M80.98 316.16h1.38M104.51 316.16h0.7M108.03 316.16h0.7M117.16 316.16h2.11M119.97 316.16h2.11M123.49 316.16h0.7M129.11 316.16h1.41M62.34 324.82h1.38M66.49 324.82h1.38M105.22 324.82h1.41M108.03 324.82h2.11M122.79 324.82h0.7M127 324.82h0.7M145.28 324.82h1.41M51.3 333.48h2.07M58.89 333.48h0.69M114.35 333.48h0.7M126.3 333.48h2.81M136.14 333.48h1.41M141.76 333.48h2.11M51.3 342.14h3.45M60.96 342.14h0.69M66.49 342.14h1.38M75.46 342.14h0.69M76.84 342.14h0.69M87.88 342.14h1.38M93.41 342.14h0.69M127.71 342.14h1.41M131.92 342.14h1.41M52.68 350.8h2.76M54.75 359.46h3.45M74.08 359.46h0.69M80.29 359.46h0.69M92.72 359.46h0.69M81.67 368.12h2.07M84.43 368.12h2.07M51.3 376.78h1.38M56.13 376.78h0.69M61.65 376.78h2.07M67.18 376.78h2.76M78.22 376.78h0.69M83.74 376.78h0.69M95.48 376.78h0.69M100.31 376.78h0.69M102.41 376.78h2.11M119.97 376.78h1.41M148.79 376.78h2.81M79.6 385.44h1.38M99.62 385.44h1.38M101.7 385.44h3.51M106.62 385.44h1.41M54.75 394.1h0.69M92.03 394.1h1.38M70.63 402.76h0.69M67.18 411.42h2.07M72.7 411.42h1.38M88.57 411.42h1.38M92.72 411.42h0.69"/>
<path stroke="#e4909c" d="M105.22 246.88h0.7M105.92 255.54h2.11M136.14 255.54h2.81M101 272.86h1.41M111.54 281.52h2.11M138.25 281.52h2.11M118.57 298.84h2.11M101 307.5h2.81M150.19 307.5h0.7M107.33 316.16h0.7M108.73 316.16h0.7M149.49 316.16h2.11M124.19 324.82h2.81M129.11 324.82h2.11M150.9 324.82h0.7M76.15 333.48h0.69M112.95 333.48h1.41M122.08 333.48h0.7M80.29 342.14h0.69M86.5 342.14h0.69M63.72 350.8h0.69M79.6 350.8h0.69M88.57 350.8h0.69M91.34 350.8h2.07M66.49 359.46h1.38M69.25 359.46h2.76M75.46 359.46h2.07M91.34 368.12h1.38M80.29 376.78h2.07M87.19 376.78h1.38M89.96 376.78h2.07M131.22 376.78h1.41M87.88 402.76h2.07M56.13 411.42h0.69M65.8 411.42h1.38M80.29 411.42h1.38M89.96 411.42h1.38"/>
<path stroke="#e4606c" d="M105.92 246.88h2.81M133.33 255.54h1.41M102.41 264.2h0.7M109.43 264.2h1.41M148.79 264.2h2.81M146.68 272.86h2.11M103.81 281.52h1.41M112.95 290.18h0.7M116.46 290.18h1.41M133.33 290.18h1.41M134.73 298.84h0.7M145.98 316.16h0.7M71.32 342.14h0.69M94.1 342.14h1.38M76.15 350.8h0.69M67.87 359.46h1.38M99.62 359.46h0.69M99.62 368.12h0.69M72.01 376.78h2.07M57.51 394.1h1.38M69.25 394.1h1.38M55.44 402.76h1.38M72.7 402.76h1.38M98.93 411.42h2.07"/>
<path stroke="#d8606c" d="M108.73 246.88h0.7M119.97 290.18h1.41M124.19 290.18h0.7M134.03 307.5h2.81M92.72 368.12h1.38M82.36 376.78h0.69"/>
<path stroke="#f0c0cc" d="M110.14 246.88h0.7M112.95 246.88h1.41M101 255.54h2.81M115.06 255.54h2.11M123.49 255.54h0.7M131.92 255.54h1.41M135.44 255.54h0.7M117.16 272.86h2.11M124.89 272.86h0.7M149.49 272.86h0.7M105.92 281.52h2.11M113.65 281.52h1.41M149.49 281.52h0.7M136.14 290.18h2.11M146.68 290.18h0.7M122.08 307.5h0.7M59.58 333.48h1.38M115.76 333.48h1.41M118.57 333.48h0.7M67.87 342.14h2.07M73.39 342.14h2.07M89.27 342.14h1.38M75.46 350.8h0.69M80.98 359.46h1.38M86.5 359.46h1.38M78.91 368.12h1.38M85.81 385.44h2.07M91.34 385.44h1.38M76.15 394.1h1.38M96.86 394.1h2.07M69.94 411.42h2.07"/>
<path stroke="#e49ca8" d="M110.84 246.88h2.11M126.3 246.88h0.7M136.84 246.88h2.11M122.08 264.2h2.11M134.03 264.2h1.41M126.3 281.52h1.41M54.06 298.84h2.07M80.98 298.84h0.69M96.86 298.84h0.69M136.84 298.84h1.41M120.68 307.5h1.41M112.95 316.16h0.7M115.06 316.16h2.11M122.08 316.16h1.41M127.71 324.82h0.7M146.68 324.82h1.41M65.8 333.48h2.76M69.94 333.48h0.69M73.39 333.48h2.07M87.19 333.48h1.38M90.65 333.48h2.07M115.06 342.14h0.7M58.2 350.8h0.69M67.87 350.8h1.38M73.39 350.8h0.69M93.41 350.8h2.07M54.06 359.46h0.69M83.74 359.46h1.38M60.96 368.12h2.07M74.08 376.78h0.69M110.84 376.78h1.41M73.39 394.1h1.38M78.22 394.1h1.38M84.43 402.76h3.45M89.96 402.76h2.07M91.34 411.42h1.38"/>
<path stroke="#e48490" d="M114.35 246.88h0.7M120.68 246.88h0.7M150.9 246.88h0.7M107.33 272.86h1.41M115.06 272.86h2.11M127.71 272.86h1.41M130.52 272.86h1.41M141.76 272.86h1.41M141.76 281.52h1.41M114.35 298.84h0.7M137.54 307.5h1.41M112.24 324.82h2.11M56.82 333.48h0.69M106.62 333.48h0.7M150.19 333.48h1.41M61.65 342.14h1.38M82.36 342.14h1.38M58.89 350.8h2.76M77.53 359.46h2.76M53.37 368.12h1.38M56.82 376.78h2.07M78.91 376.78h1.38M108.03 376.78h1.41M113.65 376.78h0.7M147.38 376.78h0.7M62.34 394.1h0.69M72.7 394.1h0.69M79.6 394.1h0.69M85.12 394.1h1.38M69.25 411.42h0.69M74.08 411.42h2.07M81.67 411.42h2.07"/>
<path stroke="#e48484" d="M117.87 246.88h1.41M134.73 246.88h1.41M150.9 255.54h0.7M121.38 264.2h0.7M121.38 272.86h1.41M150.19 281.52h1.41M144.57 316.16h1.41M110.14 324.82h0.7M145.98 333.48h0.7M66.49 350.8h1.38M80.29 350.8h1.38M87.88 359.46h0.69M98.93 376.78h1.38M74.77 394.1h1.38M77.53 394.1h0.69M79.6 402.76h1.38M63.03 411.42h0.69"/>
<path stroke="#e4a8a8" d="M119.27 246.88h1.41M133.33 246.88h1.41M146.68 246.88h2.11M112.95 264.2h2.11M117.87 264.2h2.11M131.92 264.2h2.11M112.95 272.86h2.11M143.87 324.82h1.41M54.75 333.48h2.07M60.96 333.48h0.69M77.53 342.14h1.38M87.19 342.14h0.69M78.22 385.44h1.38"/>
<path stroke="#f0c0c0" d="M122.79 246.88h2.81M138.95 246.88h1.41M148.79 246.88h2.11M117.16 255.54h0.7M124.19 255.54h0.7M134.73 255.54h0.7M140.36 264.2h1.41M101 290.18h2.81M117.87 290.18h1.41M149.49 290.18h0.7M111.54 307.5h0.7M113.65 307.5h2.11M117.87 307.5h1.41M145.28 307.5h0.7M75.46 333.48h0.69M117.16 342.14h3.51M139.65 342.14h2.11M61.65 350.8h0.69M81.67 350.8h0.69M84.43 350.8h2.07M94.1 368.12h2.76M65.8 376.78h1.38M83.05 376.78h0.69M63.72 402.76h0.69"/>
<path stroke="#e47884" d="M125.6 246.88h0.7M127 246.88h1.41M141.06 246.88h2.11M103.81 255.54h1.41M121.38 255.54h2.11M126.3 255.54h0.7M129.81 255.54h2.11M101 264.2h1.41M105.92 264.2h2.81M141.76 264.2h1.41M145.98 272.86h0.7M110.84 281.52h0.7M120.68 281.52h0.7M122.79 281.52h1.41M130.52 281.52h2.11M143.87 281.52h1.41M105.22 290.18h2.81M113.65 290.18h1.41M138.25 290.18h0.7M145.28 290.18h1.41M103.81 298.84h1.41M103.81 307.5h0.7M110.14 307.5h1.41M119.27 307.5h1.41M129.81 307.5h2.81M138.95 307.5h0.7M105.22 316.16h2.11M122.08 324.82h0.7M131.22 324.82h2.11M138.95 324.82h0.7M78.91 333.48h2.07M85.81 333.48h1.38M122.79 333.48h1.41M143.87 333.48h2.11M64.42 342.14h2.07M51.3 350.8h1.38M62.34 350.8h1.38M69.25 350.8h0.69M58.89 359.46h2.07M96.86 359.46h1.38M63.72 368.12h0.69M67.18 368.12h2.07M77.53 368.12h1.38M58.89 376.78h1.38M76.15 376.78h1.38M97.55 376.78h1.38M53.37 385.44h0.69M58.89 385.44h1.38M62.34 385.44h4.83M84.43 385.44h0.69M89.27 385.44h0.69M95.48 385.44h1.38M55.44 394.1h2.07M70.63 394.1h2.07M91.34 394.1h0.69M51.3 402.76h2.76M51.3 411.42h2.76M61.65 411.42h1.38M93.41 411.42h2.76"/>
<path stroke="#e49c9c" d="M136.14 246.88h0.7M113.65 255.54h1.41M110.14 290.18h2.81M56.13 298.84h0.69M129.81 298.84h2.11M141.76 307.5h1.41M117.16 324.82h2.11M139.65 324.82h2.81M95.48 333.48h2.07M101 333.48h0.7M97.55 342.14h0.69M74.08 350.8h1.38M86.5 350.8h2.07M85.12 359.46h1.38M86.5 376.78h0.69M132.62 376.78h0.7M87.88 385.44h0.69M87.19 394.1h4.14M93.41 394.1h2.07M84.43 411.42h0.69M96.17 411.42h1.38"/>
<path stroke="#d84854" d="M140.36 246.88h0.7M143.87 264.2h1.41M127.71 281.52h0.7M134.73 281.52h1.41M140.36 281.52h1.41M127 298.84h1.41M145.28 298.84h0.7M78.91 342.14h1.38M95.48 342.14h2.07M82.36 350.8h2.07M64.42 359.46h2.07M127.71 376.78h2.11"/>
<path stroke="#c0b4d8" d="M87.88 255.54h1.38M78.22 298.84h2.76M108.03 298.84h2.11M112.95 298.84h1.41M124.19 298.84h2.81M74.77 307.5h2.07M76.84 316.16h1.38M94.79 316.16h2.07M124.19 333.48h0.7M137.54 333.48h0.7M141.76 342.14h0.7M139.65 376.78h0.7M119.27 385.44h0.7M132.62 385.44h1.41M136.14 402.76h1.41"/>
<path stroke="#a89ccc" d="M96.17 255.54h2.07M96.86 264.2h1.38M89.96 281.52h2.76M72.7 298.84h0.69M141.76 298.84h2.11M87.19 307.5h0.69M58.89 316.16h0.69M65.8 316.16h1.38M100.31 316.16h0.69M136.84 342.14h0.7M131.92 359.46h0.7M80.29 368.12h1.38M88.57 368.12h2.07M119.27 368.12h2.81M60.27 376.78h1.38M92.03 376.78h2.76M105.92 376.78h1.41M109.43 385.44h2.11M78.91 402.76h0.69M85.81 411.42h2.07"/>
<path stroke="#f0b4b4" d="M105.22 255.54h0.7M117.87 255.54h1.41M127 255.54h1.41M145.28 272.86h0.7M132.62 281.52h2.11M70.63 298.84h0.69M138.25 298.84h0.7M110.84 316.16h2.11M127.71 316.16h1.41M107.33 324.82h0.7M119.27 324.82h1.41M148.09 324.82h1.41M97.55 333.48h1.38M100.31 333.48h0.69M56.82 342.14h1.38M69.94 342.14h1.38M135.44 342.14h1.41M60.96 359.46h0.69M98.24 359.46h1.38M100.31 359.46h0.69M63.72 394.1h2.07M76.15 411.42h2.07"/>
<path stroke="#d85460" d="M110.14 255.54h1.41M135.44 264.2h0.7M108.03 290.18h0.7M121.38 290.18h1.41M141.06 298.84h0.7M112.24 307.5h1.41M94.79 333.48h0.69M76.84 350.8h1.38M77.53 376.78h0.69M104.51 376.78h1.41M122.08 376.78h1.41M66.49 402.76h1.38M74.08 402.76h0.69M94.1 402.76h1.38M99.62 402.76h0.69M87.88 411.42h0.69"/>
<path stroke="#e46c6c" d="M111.54 255.54h2.11M128.41 255.54h1.41M103.11 264.2h2.11M105.22 281.52h0.7M141.76 290.18h1.41M125.6 307.5h0.7M136.84 307.5h0.7M92.72 333.48h2.07M72.01 359.46h2.07M82.36 359.46h1.38M81.67 385.44h2.76M51.3 394.1h2.07M82.36 394.1h2.07M86.5 394.1h0.69M98.93 394.1h0.69M95.48 402.76h0.69M63.72 411.42h2.07"/>
<path stroke="#f0b4c0" d="M119.27 255.54h2.11M143.87 255.54h1.41M112.24 264.2h0.7M131.92 272.86h1.41M136.84 272.86h0.7M148.79 272.86h0.7M150.9 272.86h0.7M115.06 281.52h1.41M146.68 281.52h1.41M108.73 290.18h1.41M138.95 290.18h0.7M143.17 290.18h1.41M147.38 290.18h2.11M128.41 298.84h1.41M132.62 307.5h1.41M134.03 316.16h2.81M141.06 316.16h1.41M115.76 324.82h1.41M83.74 333.48h2.07M98.93 333.48h1.38M108.73 333.48h2.11M134.73 333.48h1.41M63.03 342.14h1.38M72.01 342.14h1.38M80.98 342.14h0.69M145.28 342.14h2.11M61.65 359.46h1.38M54.75 368.12h0.69M54.75 376.78h1.38M133.33 376.78h1.41M57.51 385.44h1.38M96.86 385.44h2.07M67.18 394.1h2.07M84.43 394.1h0.69M99.62 394.1h1.38M58.2 402.76h2.76M76.84 402.76h2.07"/>
<path stroke="#9c90cc" d="M138.95 255.54h1.41M129.11 264.2h1.41M65.8 298.84h1.38M76.84 298.84h1.38M76.15 316.16h0.69M93.41 316.16h1.38M54.06 324.82h2.07M68.56 324.82h3.45M120.68 324.82h1.41M63.03 333.48h2.76M101.7 333.48h1.41M149.49 333.48h0.7M92.03 342.14h1.38M112.24 350.8h1.41M138.95 368.12h0.7M109.43 376.78h1.41M149.49 394.1h1.41M100.31 402.76h0.69"/>
<path stroke="#d85454" d="M141.76 255.54h1.41M131.22 290.18h1.41M120.68 298.84h2.11M115.76 307.5h2.11M101 316.16h2.11M65.11 376.78h0.69M136.84 376.78h2.81M92.72 385.44h2.76M56.82 411.42h1.38"/>
<path stroke="#b4a8d8" d="M53.37 264.2h2.07M110.84 264.2h1.41M83.74 316.16h1.38M63.72 324.82h1.38M129.11 333.48h0.7M138.25 333.48h1.41M123.49 342.14h0.7M108.73 359.46h2.11M132.62 368.12h0.7M74.77 376.78h1.38M143.17 376.78h3.51M142.46 385.44h2.11M147.38 402.76h0.7"/>
<path stroke="#6c6cb4" d="M108.73 264.2h0.7M146.68 298.84h1.41"/>
<path stroke="#e49090" d="M115.06 264.2h2.81M145.28 264.2h3.51M121.38 281.52h1.41M124.19 281.52h2.11M145.28 281.52h1.41M148.09 281.52h1.41M122.79 307.5h2.81M133.33 324.82h2.11M53.37 333.48h1.38M64.42 350.8h0.69M72.01 350.8h1.38M74.77 359.46h0.69M69.94 385.44h2.07M80.98 385.44h0.69M98.93 385.44h0.69M95.48 394.1h1.38M60.27 411.42h1.38"/>
<path stroke="#d83030" d="M124.19 264.2h2.11"/>
<path stroke="#f0a8b4" d="M126.3 264.2h2.11M106.62 272.86h0.7M125.6 272.86h2.11M101 281.52h2.81M116.46 281.52h1.41M150.19 290.18h1.41M59.58 298.84h0.69M101 298.84h1.41M105.92 307.5h0.7M130.52 316.16h3.51M146.68 316.16h1.41M136.84 324.82h0.7M149.49 324.82h1.41M80.98 333.48h1.38M85.12 342.14h1.38M78.22 350.8h1.38M51.3 359.46h2.76M92.03 359.46h0.69M86.5 368.12h2.07M114.35 376.78h1.41M124.89 376.78h2.11M63.03 394.1h0.69M54.06 411.42h2.07"/>
<path stroke="#8478c0" d="M56.13 272.86h2.07M62.34 298.84h0.69M68.56 333.48h1.38M132.62 333.48h2.11M150.9 342.14h0.7M113.65 402.76h2.11M150.19 402.76h1.41"/>
<path stroke="#9090cc" d="M108.73 272.86h1.41M124.19 368.12h2.11M104.51 402.76h0.7"/>
<path stroke="#d83c3c" d="M110.84 272.86h2.11M129.11 272.86h1.41M133.33 272.86h2.81M127.71 307.5h1.41M91.34 342.14h0.69M76.84 385.44h1.38M65.8 394.1h1.38"/>
<path stroke="#d8303c" d="M136.14 272.86h0.7M115.06 290.18h0.7M150.9 307.5h0.7M124.19 316.16h2.81M123.49 324.82h0.7M83.74 342.14h1.38M98.24 342.14h1.38M55.44 350.8h2.76M89.27 350.8h2.07M88.57 376.78h1.38M67.18 385.44h1.38M58.89 394.1h2.76M58.2 411.42h2.07"/>
<path stroke="#9084cc" d="M57.51 281.52h0.69M56.82 290.18h2.07M64.42 290.18h4.14M87.19 290.18h0.69M98.24 290.18h0.69M62.34 307.5h2.07M79.6 307.5h2.07M86.5 316.16h1.38M115.06 333.48h0.7M102.41 342.14h2.81M116.46 342.14h0.7M120.68 342.14h2.11M129.11 342.14h1.41M133.33 342.14h2.11M58.2 359.46h0.69M105.22 385.44h1.41"/>
<path stroke="#9084c0" d="M109.43 281.52h1.41M84.43 298.84h0.69M85.12 316.16h1.38M127 316.16h0.7M85.81 324.82h2.76M138.95 342.14h0.7M63.03 359.46h1.38M131.22 368.12h1.41M124.19 411.42h1.41"/>
<path stroke="#d83c48" d="M128.41 281.52h1.41M103.81 290.18h0.7M126.3 290.18h0.7M139.65 316.16h1.41M143.87 316.16h0.7M110.84 324.82h1.41M135.44 324.82h1.41M98.93 350.8h2.07M84.43 376.78h2.07M72.01 385.44h2.07M53.37 394.1h1.38M78.22 411.42h0.69"/>
<path stroke="#9c9ccc" d="M129.81 281.52h0.7M71.32 298.84h1.38M102.41 298.84h1.41M143.87 298.84h1.41M88.57 316.16h2.76"/>
<path stroke="#5448a8" d="M51.3 290.18h2.07M60.27 290.18h1.38M87.88 290.18h2.76M81.67 298.84h2.07M133.33 298.84h1.41M65.8 307.5h1.38M97.55 307.5h0.69M56.82 316.16h2.07M78.22 316.16h0.69M91.34 316.16h2.07M92.72 324.82h2.07M137.54 342.14h1.41M55.44 368.12h1.38M76.15 368.12h1.38M90.65 368.12h0.69M101 385.44h0.7M122.79 385.44h2.81M140.36 385.44h0.7M74.77 402.76h1.38"/>
<path stroke="#d8cce4" d="M53.37 290.18h2.76M56.82 298.84h1.38M83.74 298.84h0.69M122.79 298.84h1.41M150.19 298.84h1.41M68.56 307.5h1.38M85.12 307.5h1.38M67.18 316.16h2.07M74.08 316.16h2.07M78.91 316.16h2.07M87.88 316.16h0.69M60.96 324.82h1.38M65.11 324.82h1.38M76.84 324.82h2.76M88.57 324.82h1.38M100.31 324.82h0.69M105.92 333.48h0.7M110.84 333.48h0.7M117.16 333.48h0.7M119.27 333.48h2.81M129.81 333.48h2.81M146.68 333.48h2.81M107.33 342.14h2.11M148.09 342.14h2.81M57.51 368.12h2.76M64.42 368.12h2.76M70.63 368.12h2.07M101 376.78h1.41M112.24 376.78h1.41M123.49 376.78h1.41M134.73 376.78h2.11M111.54 385.44h0.7M116.46 385.44h2.81M129.11 385.44h0.7M62.34 402.76h1.38M92.03 402.76h2.07M98.24 402.76h1.38"/>
<path stroke="#6054b4" d="M63.72 290.18h0.69M92.72 290.18h1.38M60.27 298.84h2.07M75.46 298.84h1.38M96.17 298.84h0.69M52.68 307.5h3.45M60.96 307.5h1.38M90.65 307.5h0.69M82.36 316.16h1.38M98.93 316.16h1.38M58.89 324.82h0.69M79.6 324.82h0.69M83.74 324.82h2.07M76.84 333.48h2.07M110.14 342.14h1.41M131.22 342.14h0.7M142.46 342.14h1.41M83.74 368.12h0.69M100.31 368.12h0.69M107.33 376.78h0.7M121.38 376.78h0.7M121.38 385.44h1.41M138.95 385.44h1.41M147.38 385.44h1.41"/>
<path stroke="#5448b4" d="M70.63 290.18h0.69M97.55 290.18h0.69M58.2 307.5h2.07M69.94 307.5h2.76M69.25 316.16h2.07M136.84 385.44h2.11"/>
<path stroke="#5454b4" d="M74.77 290.18h1.38M52.68 298.84h1.38M63.72 298.84h0.69M67.87 324.82h0.69M98.93 324.82h1.38M57.51 333.48h1.38M148.79 385.44h1.41M81.67 402.76h2.07"/>
<path stroke="#c0c0d8" d="M78.22 290.18h2.07M103.11 333.48h2.81M120.68 411.42h1.41"/>
<path stroke="#8484c0" d="M96.17 290.18h1.38M51.3 298.84h1.38M58.2 298.84h1.38M85.12 298.84h2.07M73.39 316.16h0.69M111.54 342.14h1.41M143.87 342.14h1.41M52.68 376.78h2.07"/>
<path stroke="#d86060" d="M134.73 290.18h1.41M62.34 333.48h0.69M72.01 333.48h1.38M60.27 368.12h0.69M115.76 376.78h0.7M69.25 402.76h1.38"/>
<path stroke="#e4a8b4" d="M144.57 290.18h0.7M106.62 324.82h0.7M142.46 324.82h1.41M70.63 333.48h1.38M69.94 350.8h2.07M63.72 376.78h0.69M69.94 376.78h2.07M96.17 376.78h1.38M60.27 385.44h2.07M85.12 385.44h0.69M88.57 385.44h0.69M89.96 385.44h1.38M83.74 411.42h0.69"/>
<path stroke="#a89cd8" d="M99.62 298.84h1.38M145.98 298.84h0.7M148.09 376.78h0.7"/>
<path stroke="#6060b4" d="M110.14 298.84h2.81"/>
<path stroke="#786cc0" d="M115.06 298.84h2.11M106.62 307.5h0.7M146.68 376.78h0.7M64.42 402.76h2.07"/>
<path stroke="#a8a8d8" d="M138.95 298.84h2.11M107.33 333.48h1.41M117.87 333.48h0.7M135.44 368.12h1.41M60.96 402.76h1.38"/>
<path stroke="#4848a8" d="M65.11 307.5h0.69M56.13 324.82h2.76M74.08 324.82h0.69M96.17 324.82h1.38M83.74 402.76h0.69"/>
<path stroke="#cccce4" d="M67.87 307.5h0.69M111.54 333.48h1.41"/>
<path stroke="#d84848" d="M149.49 307.5h0.7M99.62 342.14h1.38M74.08 385.44h0.69"/>
<path stroke="#7878c0" d="M82.36 333.48h1.38"/>
<path stroke="#6c60b4" d="M109.43 342.14h0.7M122.79 342.14h0.7M51.3 368.12h2.07M63.03 368.12h0.69M96.86 368.12h2.07M117.16 376.78h0.7M127 376.78h0.7M140.36 376.78h2.81M56.82 402.76h1.38M71.32 402.76h1.38M96.17 402.76h2.07"/>
</g>
<path d="M58.2 243.3V415M65.11 243.3V415M72.01 243.3V415M78.91 243.3V415M85.81 243.3V415M92.72 243.3V415M99.62 243.3V415M108.03 243.3V415M115.06 243.3V415M122.08 243.3V415M129.11 243.3V415M136.14 243.3V415M143.17 243.3V415M150.19 243.3V415M101 243.3V415" fill="none" stroke="#2a2182" stroke-width="0.6" opacity="0.7"/>
<text x="155" y="249.73" font-size="6.3" fill="#1a1a1a" stroke="#1a1a1a">2.3</text>
<text x="172.8" y="249.73" font-size="6.3" fill="#1a1a1a" stroke="#1a1a1a">3E-19</text>
<text x="155" y="258.39" font-size="6.3" fill="#1a1a1a" stroke="#1a1a1a">6.9</text>
<text x="172.8" y="258.39" font-size="6.3" fill="#1a1a1a" stroke="#1a1a1a">1E-22</text>
<text x="155" y="267.05" font-size="6.3" fill="#1a1a1a" stroke="#1a1a1a">26</text>
<text x="172.8" y="267.05" font-size="6.3" fill="#1a1a1a" stroke="#1a1a1a">2E-23</text>
<text x="155" y="275.71" font-size="6.3" fill="#1a1a1a" stroke="#1a1a1a">12</text>
<text x="172.8" y="275.71" font-size="6.3" fill="#1a1a1a" stroke="#1a1a1a">3E-25</text>
<text x="155" y="284.37" font-size="6.3" fill="#1a1a1a" stroke="#1a1a1a">54</text>
<text x="172.8" y="284.37" font-size="6.3" fill="#1a1a1a" stroke="#1a1a1a">3E-26</text>
<text x="155" y="293.03" font-size="6.3" fill="#1a1a1a" stroke="#1a1a1a">5.1</text>
<text x="172.8" y="293.03" font-size="6.3" fill="#1a1a1a" stroke="#1a1a1a">2E-11</text>
<text x="155" y="301.69" font-size="6.3" fill="#1a1a1a" stroke="#1a1a1a">2.5</text>
<text x="172.8" y="301.69" font-size="6.3" fill="#1a1a1a" stroke="#1a1a1a">2E-02</text>
<text x="155" y="310.35" font-size="6.3" fill="#1a1a1a" stroke="#1a1a1a">2.5</text>
<text x="172.8" y="310.35" font-size="6.3" fill="#1a1a1a" stroke="#1a1a1a">6E-15</text>
<text x="155" y="319.01" font-size="6.3" fill="#1a1a1a" stroke="#1a1a1a">43</text>
<text x="172.8" y="319.01" font-size="6.3" fill="#1a1a1a" stroke="#1a1a1a">2E-16</text>
<text x="155" y="327.67" font-size="6.3" fill="#1a1a1a" stroke="#1a1a1a">6.3</text>
<text x="172.8" y="327.67" font-size="6.3" fill="#1a1a1a" stroke="#1a1a1a">6E-17</text>
<text x="155" y="336.33" font-size="6.3" fill="#1a1a1a" stroke="#1a1a1a">0.76</text>
<text x="172.8" y="336.33" font-size="6.3" fill="#1a1a1a" stroke="#1a1a1a">2E-08</text>
<text x="155" y="344.99" font-size="6.3" fill="#1a1a1a" stroke="#1a1a1a">0.60</text>
<text x="172.8" y="344.99" font-size="6.3" fill="#1a1a1a" stroke="#1a1a1a">2E-21</text>
<text x="155" y="353.65" font-size="6.3" fill="#1a1a1a" stroke="#1a1a1a">0.16</text>
<text x="172.8" y="353.65" font-size="6.3" fill="#1a1a1a" stroke="#1a1a1a">2E-34</text>
<text x="155" y="362.31" font-size="6.3" fill="#1a1a1a" stroke="#1a1a1a">0.21</text>
<text x="172.8" y="362.31" font-size="6.3" fill="#1a1a1a" stroke="#1a1a1a">2E-19</text>
<text x="155" y="370.97" font-size="6.3" fill="#1a1a1a" stroke="#1a1a1a">0.05</text>
<text x="172.8" y="370.97" font-size="6.3" fill="#1a1a1a" stroke="#1a1a1a">3E-15</text>
<text x="155" y="379.63" font-size="6.3" fill="#1a1a1a" stroke="#1a1a1a">0.87</text>
<text x="172.8" y="379.63" font-size="6.3" fill="#1a1a1a" stroke="#1a1a1a">4E-06</text>
<text x="155" y="388.29" font-size="6.3" fill="#1a1a1a" stroke="#1a1a1a">0.33</text>
<text x="172.8" y="388.29" font-size="6.3" fill="#1a1a1a" stroke="#1a1a1a">7E-28</text>
<text x="155" y="396.95" font-size="6.3" fill="#1a1a1a" stroke="#1a1a1a">0.09</text>
<text x="172.8" y="396.95" font-size="6.3" fill="#1a1a1a" stroke="#1a1a1a">2E-22</text>
<text x="155" y="405.61" font-size="6.3" fill="#1a1a1a" stroke="#1a1a1a">0.42</text>
<text x="172.8" y="405.61" font-size="6.3" fill="#1a1a1a" stroke="#1a1a1a">1E-09</text>
<text x="155" y="414.27" font-size="6.3" fill="#1a1a1a" stroke="#1a1a1a">0.12</text>
<text x="172.8" y="414.27" font-size="6.3" fill="#1a1a1a" stroke="#1a1a1a">1E-19</text>
<text x="271.7" y="219.7" font-size="7.45" text-anchor="middle" fill="#1a1a1a" stroke="#1a1a1a">Papillary (<tspan font-style="italic">n</tspan> = 32)</text>
<text x="243.5" y="232.7" font-size="7.35" text-anchor="middle" fill="#1a1a1a" stroke="#1a1a1a">Normal tissue</text>
<text x="295.5" y="232.7" font-size="7.35" text-anchor="middle" fill="#1a1a1a" stroke="#1a1a1a">Tumor tissue</text>
<rect x="219.6" y="235.8" width="49.9" height="4.6" fill="#111"/>
<rect x="269.5" y="235.8" width="49.1" height="4.6" fill="#e8121c"/>
<text font-size="6.4" transform="translate(329.2 239.6) rotate(-90)" fill="#1a1a1a" stroke="#1a1a1a">T/N</text>
<text font-size="6.4" transform="translate(347.5 239.6) rotate(-90)" fill="#1a1a1a" stroke="#1a1a1a"><tspan font-style="italic">P</tspan>-value</text>
<rect x="211" y="242.9" width="4.6" height="86.6" fill="#e8121c"/>
<rect x="211" y="329.5" width="4.6" height="86.8" fill="#111"/>
<text font-size="6.3" text-anchor="middle" transform="translate(207.6 286.6) rotate(-90)" fill="#1a1a1a" stroke="#1a1a1a">Tumor SE</text>
<text font-size="6.3" text-anchor="middle" transform="translate(207.6 369.74) rotate(-90)" fill="#1a1a1a" stroke="#1a1a1a">Normal SE</text>
<rect x="219.3" y="242.7" width="99.6" height="172.9" fill="#2a2182"/>
<g stroke-width="7.16" fill="none">
<path stroke="#d85460" d="M219.6 246.88h1.56M300.19 255.54h1.53M306.33 281.52h1.53M236.75 307.5h1.56M304.79 316.16h1.53M238.31 324.82h1.56M249.23 324.82h1.56M233.63 333.48h3.12M249.23 333.48h1.56M286.38 342.14h1.53M233.63 359.46h1.56M222.72 376.78h1.56M219.6 411.42h1.56M253.91 411.42h1.56"/>
<path stroke="#e4909c" d="M221.16 246.88h1.56M303.26 246.88h1.53M235.19 255.54h1.56M274.1 255.54h1.53M286.38 255.54h1.53M219.6 272.86h1.56M228.96 272.86h1.56M249.23 272.86h1.56M277.17 290.18h1.53M246.11 316.16h1.56M249.23 316.16h1.56M271.03 333.48h1.53M266.38 342.14h1.56M281.77 342.14h1.53M219.6 350.8h1.56M224.28 350.8h1.56M228.96 350.8h1.56M233.63 350.8h3.12M242.99 350.8h1.56M255.47 350.8h3.12M228.96 359.46h3.12M264.82 359.46h1.56M225.84 368.12h1.56M295.58 376.78h1.53M307.86 376.78h1.53M230.52 385.44h1.56M236.75 385.44h1.56M260.14 394.1h1.56M289.45 411.42h1.53"/>
<path stroke="#f0c0cc" d="M222.72 246.88h1.56M225.84 246.88h3.12M246.11 246.88h1.56M294.05 246.88h1.53M232.07 255.54h1.56M250.79 255.54h1.56M272.57 264.2h1.53M292.52 264.2h1.53M241.43 272.86h1.56M267.94 272.86h1.56M309.39 281.52h1.53M314 281.52h1.53M280.24 298.84h1.53M219.6 316.16h1.56M250.79 316.16h1.56M253.91 316.16h1.56M284.84 324.82h1.53M236.75 342.14h1.56M239.87 342.14h1.56M249.23 350.8h1.56M224.28 359.46h1.56M238.31 359.46h1.56M252.35 359.46h1.56M219.6 368.12h1.56M258.58 376.78h1.56M290.98 376.78h1.53M239.87 385.44h1.56M238.31 394.1h1.56M246.11 394.1h1.56M224.28 402.76h1.56M264.82 402.76h1.56M232.07 411.42h1.56"/>
<path stroke="#f0cccc" d="M224.28 246.88h1.56M233.63 246.88h1.56M242.99 246.88h1.56M249.23 246.88h1.56M252.35 246.88h1.56M257.02 246.88h3.12M261.7 246.88h1.56M289.45 246.88h1.53M298.65 246.88h1.53M304.79 246.88h1.53M219.6 255.54h1.56M222.72 255.54h1.56M244.55 255.54h1.56M267.94 255.54h1.56M278.71 255.54h3.07M292.52 255.54h1.53M312.46 255.54h1.53M222.72 264.2h1.56M230.52 264.2h1.56M267.94 264.2h1.56M274.1 264.2h1.53M289.45 264.2h1.53M295.58 264.2h1.53M304.79 264.2h1.53M310.93 264.2h1.53M222.72 272.86h1.56M227.4 272.86h1.56M235.19 272.86h1.56M277.17 272.86h1.53M287.91 272.86h3.07M269.5 281.52h4.6M300.19 281.52h1.53M310.93 281.52h1.53M222.72 290.18h1.56M230.52 290.18h1.56M249.23 290.18h1.56M252.35 290.18h1.56M301.72 290.18h1.53M228.96 298.84h3.12M235.19 298.84h1.56M238.31 298.84h1.56M255.47 298.84h1.56M261.7 298.84h1.56M277.17 298.84h1.53M292.52 298.84h1.53M295.58 298.84h1.53M310.93 298.84h1.53M280.24 307.5h1.53M304.79 307.5h1.53M309.39 307.5h1.53M221.16 316.16h1.56M232.07 316.16h3.12M236.75 316.16h1.56M266.38 316.16h1.56M286.38 316.16h1.53M290.98 316.16h1.53M317.07 316.16h1.53M232.07 324.82h1.56M244.55 324.82h1.56M267.94 324.82h1.56M272.57 324.82h1.53M281.77 324.82h1.53M294.05 324.82h1.53M304.79 324.82h1.53M224.28 333.48h1.56M228.96 333.48h1.56M255.47 333.48h1.56M307.86 333.48h1.53M228.96 342.14h1.56M233.63 342.14h3.12M241.43 342.14h1.56M244.55 342.14h1.56M303.26 342.14h1.53M309.39 342.14h1.53M238.31 350.8h1.56M225.84 359.46h1.56M235.19 359.46h1.56M258.58 359.46h1.56M289.45 359.46h1.53M307.86 359.46h1.53M227.4 368.12h1.56M235.19 368.12h1.56M246.11 368.12h1.56M267.94 368.12h1.56M225.84 376.78h1.56M235.19 376.78h1.56M241.43 376.78h1.56M249.23 376.78h1.56M252.35 376.78h1.56M257.02 376.78h1.56M263.26 376.78h1.56M267.94 376.78h1.56M289.45 376.78h1.53M306.33 376.78h1.53M317.07 376.78h1.53M222.72 385.44h1.56M247.67 385.44h1.56M253.91 385.44h1.56M267.94 385.44h1.56M222.72 394.1h1.56M236.75 394.1h1.56M249.23 394.1h3.12M255.47 394.1h1.56M267.94 394.1h1.56M230.52 402.76h1.56M233.63 402.76h1.56M238.31 402.76h1.56M263.26 402.76h1.56M221.16 411.42h3.12M227.4 411.42h1.56M230.52 411.42h1.56M238.31 411.42h1.56M281.77 411.42h1.53M287.91 411.42h1.53M298.65 411.42h1.53"/>
<path stroke="#5448a8" d="M228.96 246.88h1.56M298.65 255.54h1.53M301.72 255.54h1.53M239.87 264.2h1.56M284.84 272.86h1.53M295.58 272.86h1.53M306.33 272.86h3.07M239.87 290.18h1.56M247.67 290.18h1.56M264.82 290.18h1.56M304.79 290.18h1.53M309.39 290.18h1.53M252.35 298.84h1.56M244.55 307.5h1.56M247.67 307.5h1.56M267.94 307.5h1.56M269.5 307.5h1.53M274.1 307.5h1.53M312.46 307.5h3.07M261.7 324.82h1.56M232.07 333.48h1.56M239.87 333.48h1.56M304.79 333.48h1.53M310.93 333.48h1.53M275.64 342.14h1.53M314 342.14h1.53M272.57 359.46h1.53M275.64 359.46h1.53M278.71 359.46h1.53M281.77 359.46h1.53M290.98 359.46h1.53M294.05 359.46h1.53M301.72 359.46h3.07M309.39 359.46h1.53M225.84 402.76h1.56M235.19 402.76h1.56M242.99 402.76h1.56M246.11 402.76h1.56M235.19 411.42h1.56M275.64 411.42h1.53M295.58 411.42h1.53"/>
<path stroke="#e47884" d="M230.52 246.88h1.56M238.31 246.88h3.12M275.64 246.88h1.53M284.84 246.88h1.53M295.58 246.88h1.53M290.98 255.54h1.53M314 264.2h1.53M239.87 272.86h1.56M278.71 290.18h1.53M219.6 307.5h4.68M238.31 307.5h1.56M260.14 307.5h1.56M228.96 316.16h1.56M315.53 316.16h1.53M236.75 324.82h1.56M252.35 324.82h1.56M260.14 324.82h1.56M298.65 324.82h1.53M227.4 342.14h1.56M236.75 350.8h1.56M246.11 350.8h1.56M252.35 350.8h1.56M267.94 350.8h1.56M232.07 359.46h1.56M239.87 359.46h1.56M257.02 359.46h1.56M230.52 368.12h1.56M242.99 368.12h1.56M253.91 368.12h3.12M238.31 376.78h1.56M274.1 376.78h1.53M255.47 385.44h1.56M244.55 394.1h1.56M247.67 394.1h1.56M233.63 411.42h1.56M239.87 411.42h1.56M301.72 411.42h1.53M304.79 411.42h1.53"/>
<path stroke="#e4a8b4" d="M232.07 246.88h1.56M277.17 264.2h1.53M246.11 272.86h1.56M266.38 272.86h1.56M315.53 281.52h1.53M286.38 290.18h1.53M295.58 290.18h1.53M235.19 324.82h1.56M253.91 333.48h1.56M267.94 333.48h1.56M272.57 333.48h1.53M269.5 342.14h1.53M244.55 359.46h1.56M221.16 368.12h1.56M266.38 368.12h1.56M253.91 376.78h1.56M232.07 402.76h1.56M261.7 411.42h1.56"/>
<path stroke="#e46c78" d="M235.19 246.88h3.12M260.14 246.88h1.56M281.77 255.54h1.53M309.39 255.54h1.53M315.53 255.54h1.53M263.26 272.86h1.56M281.77 281.52h1.53M289.45 281.52h3.07M294.05 281.52h1.53M284.84 290.18h1.53M298.65 290.18h1.53M258.58 307.5h1.56M225.84 316.16h1.56M230.52 316.16h1.56M252.35 316.16h1.56M301.72 316.16h1.53M312.46 316.16h1.53M266.38 324.82h1.56M300.19 324.82h1.53M230.52 350.8h1.56M239.87 350.8h1.56M244.55 350.8h1.56M258.58 350.8h1.56M227.4 359.46h1.56M224.28 368.12h1.56M260.14 376.78h1.56M309.39 376.78h1.53M241.43 385.44h1.56M264.82 385.44h1.56M227.4 394.1h1.56M252.35 394.1h1.56M258.58 394.1h1.56M274.1 411.42h1.53M310.93 411.42h1.53"/>
<path stroke="#f0b4b4" d="M241.43 246.88h1.56M281.77 264.2h1.53M244.55 272.86h1.56M278.71 281.52h1.53M247.67 316.16h1.56M269.5 324.82h1.53M232.07 342.14h1.56M278.71 342.14h1.53M233.63 368.12h1.56M244.55 368.12h1.56M257.02 368.12h1.56M244.55 376.78h3.12M246.11 385.44h1.56M242.99 411.42h1.56"/>
<path stroke="#f0a8b4" d="M244.55 246.88h1.56M310.93 246.88h1.53M298.65 281.52h1.53M289.45 298.84h1.53M227.4 316.16h1.56M244.55 316.16h1.56M257.02 316.16h1.56M314 324.82h1.53M219.6 333.48h1.56M252.35 333.48h1.56M222.72 342.14h1.56M272.57 342.14h1.53M258.58 368.12h1.56M233.63 376.78h1.56M224.28 385.44h1.56M235.19 385.44h1.56M263.26 394.1h1.56"/>
<path stroke="#e48490" d="M247.67 246.88h1.56M250.79 246.88h1.56M264.82 246.88h1.56M236.75 255.54h1.56M283.31 264.2h1.53M298.65 264.2h1.53M312.46 264.2h1.53M258.58 272.86h1.56M303.26 281.52h1.53M300.19 290.18h1.53M283.31 298.84h1.53M242.99 316.16h1.56M264.82 316.16h1.56M275.64 316.16h1.53M263.26 324.82h1.56M295.58 324.82h1.53M263.26 333.48h1.56M295.58 342.14h1.53M261.7 350.8h1.56M264.82 350.8h3.12M241.43 359.46h1.56M247.67 359.46h1.56M263.26 368.12h3.12M219.6 376.78h1.56M224.28 376.78h1.56M250.79 385.44h1.56M258.58 385.44h1.56M241.43 411.42h1.56"/>
<path stroke="#6060b4" d="M253.91 246.88h1.56M250.79 307.5h1.56M263.26 307.5h1.56M281.77 333.48h1.53M309.39 333.48h1.53M292.52 342.14h1.53"/>
<path stroke="#e49ca8" d="M255.47 246.88h1.56M266.38 246.88h1.56M280.24 246.88h1.53M257.02 255.54h1.56M247.67 272.86h1.56M277.17 281.52h1.53M312.46 281.52h1.53M242.99 298.84h1.56M287.91 298.84h1.53M283.31 316.16h1.53M277.17 324.82h1.53M221.16 333.48h1.56M290.98 333.48h1.53M242.99 342.14h1.56M310.93 342.14h1.53M247.67 350.8h1.56M263.26 350.8h1.56M221.16 359.46h1.56M242.99 359.46h1.56M261.7 359.46h1.56M260.14 368.12h1.56M266.38 376.78h1.56M301.72 376.78h1.53M314 376.78h1.53M225.84 385.44h1.56M233.63 385.44h1.56M252.35 385.44h1.56M228.96 394.1h1.56M232.07 394.1h1.56M253.91 394.1h1.56"/>
<path stroke="#e4606c" d="M263.26 246.88h1.56M230.52 272.86h1.56M233.63 272.86h1.56M250.79 272.86h1.56M253.91 272.86h1.56M301.72 281.52h1.53M317.07 281.52h1.53M303.26 290.18h1.53M225.84 324.82h1.56M286.38 324.82h1.53M290.98 324.82h1.53M261.7 333.48h1.56M221.16 350.8h1.56M232.07 350.8h1.56M255.47 359.46h1.56M252.35 368.12h1.56M232.07 376.78h1.56M261.7 376.78h1.56M269.5 376.78h1.53M242.99 385.44h1.56M249.23 385.44h1.56M280.24 411.42h1.53M306.33 411.42h1.53"/>
<path stroke="#e49c9c" d="M267.94 246.88h1.56M292.52 246.88h1.53M255.47 272.86h1.56M261.7 272.86h1.56M264.82 272.86h1.56M292.52 281.52h1.53M272.57 290.18h1.53M260.14 316.16h1.56M300.19 316.16h1.53M219.6 342.14h1.56M247.67 376.78h1.56M221.16 394.1h1.56"/>
<path stroke="#f0b4c0" d="M269.5 246.88h1.53M274.1 246.88h1.53M277.17 246.88h1.53M241.43 255.54h1.56M295.58 255.54h1.53M261.7 264.2h1.56M271.03 264.2h1.53M301.72 264.2h1.53M225.84 272.86h1.56M232.07 272.86h1.56M260.14 272.86h1.56M284.84 281.52h1.53M241.43 298.84h1.56M250.79 298.84h1.56M317.07 298.84h1.53M222.72 316.16h1.56M239.87 316.16h1.56M228.96 324.82h1.56M315.53 324.82h3.07M227.4 350.8h1.56M241.43 350.8h1.56M250.79 350.8h1.56M249.23 359.46h1.56M266.38 359.46h3.12M221.16 376.78h1.56M228.96 376.78h1.56M235.19 394.1h1.56M257.02 394.1h1.56M267.94 402.76h1.56M224.28 411.42h3.12M247.67 411.42h1.56"/>
<path stroke="#8478c0" d="M271.03 246.88h1.53M233.63 264.2h1.56M246.11 264.2h1.56M315.53 264.2h1.53M255.47 290.18h1.56M303.26 298.84h1.53M224.28 316.16h1.56M238.31 368.12h1.56M283.31 368.12h1.53M275.64 385.44h1.53M222.72 402.76h1.56"/>
<path stroke="#9c90cc" d="M272.57 246.88h1.53M221.16 255.54h1.56M233.63 255.54h1.56M261.7 255.54h1.56M264.82 255.54h1.56M236.75 264.2h1.56M244.55 264.2h1.56M250.79 264.2h1.56M255.47 264.2h1.56M290.98 272.86h1.53M280.24 281.52h1.53M219.6 290.18h1.56M227.4 290.18h1.56M241.43 290.18h1.56M294.05 290.18h1.53M307.86 298.84h1.53M275.64 307.5h1.53M306.33 316.16h1.53M310.93 316.16h1.53M224.28 324.82h1.56M287.91 324.82h1.53M241.43 333.48h1.56M298.65 342.14h1.53M222.72 359.46h1.56M310.93 359.46h1.53M255.47 376.78h1.56M269.5 394.1h1.53M239.87 402.76h1.56M250.79 402.76h3.12"/>
<path stroke="#d8cce4" d="M278.71 246.88h1.53M290.98 246.88h1.53M297.12 246.88h1.53M301.72 246.88h1.53M307.86 246.88h1.53M312.46 246.88h4.6M224.28 255.54h1.56M227.4 255.54h4.68M239.87 255.54h1.56M242.99 255.54h1.56M246.11 255.54h1.56M255.47 255.54h1.56M263.26 255.54h1.56M289.45 255.54h1.53M307.86 255.54h1.53M225.84 264.2h1.56M284.84 264.2h1.53M303.26 264.2h1.53M306.33 264.2h1.53M275.64 272.86h1.53M292.52 272.86h1.53M310.93 272.86h4.6M317.07 272.86h1.53M228.96 290.18h1.56M242.99 290.18h1.56M258.58 290.18h1.56M271.03 290.18h1.53M275.64 290.18h1.53M280.24 290.18h1.53M283.31 290.18h1.53M258.58 298.84h3.12M263.26 298.84h4.68M271.03 298.84h1.53M274.1 298.84h1.53M281.77 298.84h1.53M294.05 298.84h1.53M301.72 298.84h1.53M312.46 298.84h1.53M227.4 307.5h1.56M235.19 307.5h1.56M239.87 307.5h1.56M264.82 307.5h1.56M272.57 307.5h1.53M295.58 307.5h1.53M274.1 316.16h1.53M284.84 316.16h1.53M309.39 316.16h1.53M314 316.16h1.53M239.87 324.82h1.56M250.79 324.82h1.56M253.91 324.82h1.56M264.82 324.82h1.56M283.31 324.82h1.53M297.12 324.82h1.53M303.26 324.82h1.53M307.86 324.82h1.53M236.75 333.48h3.12M250.79 333.48h1.56M258.58 333.48h1.56M274.1 333.48h1.53M314 333.48h1.53M225.84 342.14h1.56M230.52 342.14h1.56M246.11 342.14h4.68M252.35 342.14h1.56M257.02 342.14h1.56M260.14 342.14h1.56M263.26 342.14h1.56M289.45 342.14h1.53M297.12 342.14h1.53M304.79 342.14h1.53M307.86 342.14h1.53M312.46 342.14h1.53M269.5 359.46h1.53M283.31 359.46h1.53M314 359.46h1.53M272.57 376.78h1.53M312.46 376.78h1.53M241.43 402.76h1.56M261.7 402.76h1.56M255.47 411.42h1.56M284.84 411.42h1.53"/>
<path stroke="#b4a8d8" d="M281.77 246.88h1.53M286.38 246.88h1.53M225.84 255.54h1.56M252.35 255.54h1.56M304.79 255.54h1.53M314 255.54h1.53M221.16 264.2h1.56M275.64 264.2h1.53M278.71 264.2h1.53M294.05 272.86h1.53M304.79 272.86h1.53M286.38 281.52h1.53M253.91 290.18h1.56M263.26 290.18h1.56M281.77 290.18h1.53M224.28 298.84h1.56M300.19 298.84h1.53M315.53 298.84h1.53M261.7 307.5h1.56M271.03 316.16h3.07M271.03 324.82h1.53M289.45 324.82h1.53M275.64 333.48h1.53M224.28 342.14h1.56M255.47 342.14h1.56M258.58 342.14h1.56M264.82 342.14h1.56M300.19 359.46h1.53M315.53 359.46h1.53M303.26 385.44h1.53M219.6 402.76h1.56M272.57 402.76h1.53M272.57 411.42h1.53M278.71 411.42h1.53"/>
<path stroke="#c0b4d8" d="M283.31 246.88h1.53M287.91 246.88h1.53M310.93 255.54h1.53M247.67 264.2h1.56M253.91 264.2h1.56M280.24 264.2h1.53M317.07 264.2h1.53M281.77 272.86h1.53M309.39 272.86h1.53M246.11 281.52h1.56M244.55 290.18h1.56M269.5 290.18h1.53M274.1 290.18h1.53M247.67 298.84h3.12M272.57 298.84h1.53M278.71 316.16h1.53M241.43 324.82h1.56M238.31 342.14h1.56M267.94 342.14h1.56M271.03 342.14h1.53M301.72 342.14h1.53M306.33 342.14h1.53M277.17 376.78h1.53M236.75 402.76h1.56M297.12 411.42h1.53M314 411.42h1.53"/>
<path stroke="#ccc0e4" d="M300.19 246.88h1.53M238.31 255.54h1.56M247.67 255.54h1.56M283.31 255.54h1.53M257.02 264.2h1.56M269.5 264.2h1.53M222.72 298.84h1.56M275.64 298.84h1.53M314 298.84h1.53M281.77 307.5h1.53M284.84 307.5h1.53M277.17 316.16h1.53M221.16 324.82h1.56M306.33 324.82h1.53M309.39 324.82h1.53M227.4 333.48h1.56M289.45 333.48h1.53M304.79 359.46h1.53M244.55 402.76h1.56M257.02 411.42h1.56M271.03 411.42h1.53M286.38 411.42h1.53"/>
<path stroke="#9084c0" d="M306.33 246.88h1.53M297.12 272.86h1.53M221.16 290.18h1.56M303.26 402.76h1.53"/>
<path stroke="#e4a8a8" d="M309.39 246.88h1.53M258.58 255.54h1.56M297.12 264.2h1.53M242.99 272.86h1.56M317.07 290.18h1.53M309.39 298.84h1.53M264.82 333.48h1.56M250.79 342.14h1.56M232.07 385.44h1.56"/>
<path stroke="#a89cd8" d="M317.07 246.88h1.53M244.55 298.84h1.56M297.12 333.48h1.53"/>
<path stroke="#786cc0" d="M249.23 255.54h1.56M272.57 255.54h1.53M224.28 264.2h1.56M227.4 264.2h1.56M235.19 264.2h1.56M260.14 264.2h1.56M300.19 264.2h1.53M286.38 298.84h1.53M297.12 298.84h1.53M295.58 316.16h1.53M242.99 324.82h1.56M222.72 333.48h1.56M221.16 342.14h1.56M247.67 368.12h1.56M297.12 376.78h1.53M264.82 411.42h1.56"/>
<path stroke="#b4b4d8" d="M253.91 255.54h1.56M258.58 264.2h1.56M306.33 290.18h1.53M283.31 307.5h1.53M261.7 342.14h1.56M277.17 359.46h1.53M298.65 359.46h1.53M287.91 385.44h1.53M260.14 402.76h1.56"/>
<path stroke="#e49090" d="M260.14 255.54h1.56M286.38 264.2h1.53M221.16 272.86h1.56M252.35 272.86h1.56M295.58 281.52h1.53M290.98 298.84h1.53M225.84 307.5h1.56M261.7 316.16h1.56M317.07 342.14h1.53M249.23 368.12h1.56M230.52 376.78h1.56M236.75 376.78h1.56M244.55 385.44h1.56M261.7 385.44h1.56M225.84 394.1h1.56M261.7 394.1h1.56M260.14 411.42h1.56"/>
<path stroke="#9084cc" d="M266.38 255.54h1.56M219.6 264.2h1.56M283.31 281.52h1.53M289.45 307.5h1.53M310.93 307.5h1.53M241.43 368.12h1.56"/>
<path stroke="#a89ccc" d="M269.5 255.54h1.53M232.07 264.2h1.56M266.38 264.2h1.56M280.24 272.86h1.53M283.31 272.86h1.53M286.38 272.86h1.53M312.46 290.18h1.53M246.11 298.84h1.56M246.11 324.82h1.56M277.17 333.48h1.53M260.14 359.46h1.56M297.12 359.46h1.53M281.77 376.78h1.53M264.82 394.1h1.56M255.47 402.76h1.56M292.52 402.76h1.53M252.35 411.42h1.56M283.31 411.42h1.53M317.07 411.42h1.53"/>
<path stroke="#e46c6c" d="M271.03 255.54h1.53M257.02 272.86h1.56M224.28 307.5h1.56M249.23 307.5h1.56M257.02 307.5h1.56M263.26 316.16h1.56M274.1 324.82h1.53M260.14 350.8h1.56M250.79 359.46h1.56M261.7 368.12h1.56M250.79 376.78h1.56M303.26 376.78h1.53M227.4 385.44h3.12"/>
<path stroke="#6054b4" d="M275.64 255.54h1.53M263.26 264.2h1.56M225.84 290.18h1.56M238.31 290.18h1.56M227.4 298.84h1.56M236.75 298.84h1.56M246.11 307.5h1.56M286.38 307.5h1.53M300.19 307.5h1.53M317.07 307.5h1.53M287.91 316.16h1.53M294.05 316.16h1.53M222.72 324.82h1.56M255.47 324.82h3.12M278.71 333.48h1.53M283.31 333.48h3.07M300.19 333.48h1.53M312.46 333.48h1.53M317.07 333.48h1.53M280.24 342.14h1.53M284.84 342.14h1.53M287.91 342.14h1.53M290.98 342.14h1.53M315.53 342.14h1.53M271.03 359.46h1.53M287.91 376.78h1.53M292.52 376.78h1.53M298.65 376.78h3.07M310.93 376.78h1.53M227.4 402.76h1.56M257.02 402.76h1.56M250.79 411.42h1.56M269.5 411.42h1.53"/>
<path stroke="#6c60b4" d="M277.17 255.54h1.53M289.45 290.18h3.07M307.86 290.18h1.53M310.93 290.18h1.53M232.07 298.84h1.56M269.5 298.84h1.53M278.71 298.84h1.53M298.65 298.84h1.53M242.99 307.5h1.56M252.35 307.5h1.56M280.24 316.16h1.53M297.12 316.16h1.53M307.86 316.16h1.53M275.64 324.82h1.53M230.52 333.48h1.56M269.5 333.48h1.53M280.24 333.48h1.53M287.91 333.48h1.53M301.72 333.48h1.53M275.64 376.78h1.53M283.31 376.78h3.07M228.96 402.76h1.56M244.55 411.42h1.56M258.58 411.42h1.56M307.86 411.42h1.53"/>
<path stroke="#3c30a8" d="M284.84 255.54h1.53M264.82 264.2h1.56M269.5 272.86h1.53M272.57 272.86h1.53M278.71 272.86h1.53M301.72 272.86h1.53M227.4 281.52h1.56M236.75 281.52h4.68M242.99 281.52h3.12M249.23 281.52h3.12M253.91 281.52h1.56M257.02 281.52h1.56M261.7 281.52h1.56M266.38 281.52h1.56M224.28 290.18h1.56M233.63 290.18h1.56M260.14 290.18h1.56M225.84 298.84h1.56M233.63 307.5h1.56M289.45 316.16h1.53M233.63 324.82h1.56M310.93 324.82h3.07M298.65 333.48h1.53M315.53 333.48h1.53M271.03 350.8h1.53M274.1 350.8h1.53M278.71 350.8h1.53M284.84 350.8h1.53M295.58 350.8h1.53M298.65 350.8h1.53M310.93 350.8h3.07M295.58 359.46h1.53M306.33 359.46h1.53M271.03 368.12h3.07M280.24 368.12h1.53M295.58 368.12h4.6M301.72 368.12h1.53M304.79 368.12h1.53M307.86 368.12h1.53M310.93 368.12h1.53M315.53 368.12h1.53M315.53 376.78h1.53M274.1 385.44h1.53M278.71 385.44h1.53M283.31 385.44h3.07M289.45 385.44h3.07M298.65 385.44h1.53M301.72 385.44h1.53M307.86 385.44h1.53M312.46 385.44h1.53M283.31 394.1h1.53M295.58 394.1h1.53M303.26 394.1h1.53M309.39 394.1h1.53M314 394.1h3.07M266.38 402.76h1.56M274.1 402.76h1.53M283.31 402.76h3.07M309.39 402.76h1.53M314 402.76h3.07M292.52 411.42h1.53M303.26 411.42h1.53M315.53 411.42h1.53"/>
<path stroke="#c0c0e4" d="M287.91 255.54h1.53M304.79 298.84h1.53M277.17 307.5h1.53"/>
<path stroke="#d85454" d="M294.05 255.54h1.53M257.02 333.48h1.56M222.72 350.8h1.56M238.31 385.44h1.56"/>
<path stroke="#d84854" d="M297.12 255.54h1.53M314 290.18h1.53M266.38 307.5h1.56M225.84 333.48h1.56M247.67 333.48h1.56M300.19 342.14h1.53M236.75 368.12h1.56M221.16 385.44h1.56M263.26 385.44h1.56M224.28 394.1h1.56M309.39 411.42h1.53"/>
<path stroke="#d8606c" d="M303.26 255.54h1.53M227.4 324.82h1.56M301.72 324.82h1.53M242.99 376.78h1.56M260.14 385.44h1.56"/>
<path stroke="#9c9ccc" d="M306.33 255.54h1.53M242.99 264.2h1.56M257.02 298.84h1.56M281.77 316.16h1.53M242.99 333.48h3.12M287.91 359.46h1.53"/>
<path stroke="#e47878" d="M317.07 255.54h1.53M224.28 272.86h1.56M238.31 272.86h1.56M304.79 281.52h1.53M255.47 307.5h1.56M267.94 316.16h1.56M253.91 359.46h1.56M263.26 359.46h1.56M222.72 368.12h1.56M219.6 385.44h1.56M257.02 385.44h1.56M266.38 411.42h1.56"/>
<path stroke="#483ca8" d="M228.96 264.2h1.56M271.03 272.86h1.53M274.1 272.86h1.53M298.65 272.86h1.53M303.26 272.86h1.53M219.6 281.52h1.56M224.28 281.52h3.12M228.96 281.52h1.56M232.07 281.52h4.68M247.67 281.52h1.56M260.14 281.52h1.56M236.75 290.18h1.56M257.02 290.18h1.56M267.94 290.18h1.56M292.52 290.18h1.53M219.6 298.84h1.56M233.63 298.84h1.56M253.91 298.84h1.56M230.52 307.5h1.56M271.03 307.5h1.53M278.71 307.5h1.53M290.98 307.5h3.07M298.65 307.5h1.53M307.86 307.5h1.53M230.52 324.82h1.56M247.67 324.82h1.56M278.71 324.82h1.53M260.14 333.48h1.56M286.38 333.48h1.53M294.05 333.48h3.07M306.33 333.48h1.53M274.1 342.14h1.53M272.57 350.8h1.53M275.64 350.8h1.53M281.77 350.8h3.07M286.38 350.8h9.21M297.12 350.8h1.53M301.72 350.8h4.6M307.86 350.8h3.07M314 350.8h4.6M317.07 359.46h1.53M269.5 368.12h1.53M274.1 368.12h4.6M284.84 368.12h4.6M290.98 368.12h1.53M294.05 368.12h1.53M300.19 368.12h1.53M303.26 368.12h1.53M306.33 368.12h1.53M314 368.12h1.53M317.07 368.12h1.53M271.03 376.78h1.53M278.71 376.78h1.53M286.38 376.78h1.53M304.79 376.78h1.53M271.03 385.44h3.07M280.24 385.44h3.07M292.52 385.44h6.14M300.19 385.44h1.53M306.33 385.44h1.53M309.39 385.44h1.53M315.53 385.44h3.07M271.03 394.1h1.53M274.1 394.1h1.53M278.71 394.1h1.53M284.84 394.1h4.6M297.12 394.1h3.07M304.79 394.1h4.6M312.46 394.1h1.53M317.07 394.1h1.53M247.67 402.76h1.56M258.58 402.76h1.56M271.03 402.76h1.53M275.64 402.76h7.67M286.38 402.76h6.14M304.79 402.76h3.07M317.07 402.76h1.53M228.96 411.42h1.56M246.11 411.42h1.56M294.05 411.42h1.53"/>
<path stroke="#7878c0" d="M238.31 264.2h1.56M294.05 264.2h1.53M238.31 316.16h1.56"/>
<path stroke="#5448b4" d="M241.43 264.2h1.56M232.07 290.18h1.56M250.79 290.18h1.56M261.7 290.18h1.56M221.16 298.84h1.56M303.26 307.5h1.53M246.11 333.48h1.56M292.52 333.48h1.53"/>
<path stroke="#8484c0" d="M249.23 264.2h1.56M252.35 264.2h1.56"/>
<path stroke="#9090cc" d="M287.91 264.2h1.53M300.19 272.86h1.53"/>
<path stroke="#f0c0c0" d="M290.98 264.2h1.53M307.86 264.2h1.53M307.86 281.52h1.53M253.91 342.14h1.56M232.07 368.12h1.56M239.87 368.12h1.56M266.38 394.1h1.56M290.98 411.42h1.53"/>
<path stroke="#e48484" d="M309.39 264.2h1.53M236.75 272.86h1.56M274.1 281.52h3.07M297.12 290.18h1.53M284.84 298.84h1.53M235.19 316.16h1.56M241.43 316.16h1.56M258.58 316.16h1.56M298.65 316.16h1.53M253.91 350.8h1.56M239.87 376.78h1.56M264.82 376.78h1.56M219.6 394.1h1.56M239.87 394.1h1.56M242.99 394.1h1.56"/>
<path stroke="#4848a8" d="M315.53 272.86h1.53M266.38 290.18h1.56M294.05 307.5h1.53M315.53 307.5h1.53M292.52 324.82h1.53M280.24 359.46h1.53M294.05 376.78h1.53M249.23 402.76h1.56"/>
<path stroke="#3c3ca8" d="M221.16 281.52h1.56M263.26 281.52h1.56M235.19 290.18h1.56M267.94 298.84h1.56M297.12 307.5h1.53M280.24 324.82h1.53M269.5 350.8h1.53M286.38 359.46h1.53M278.71 368.12h1.53M281.77 368.12h1.53M289.45 368.12h1.53M280.24 376.78h1.53M286.38 385.44h1.53M310.93 385.44h1.53M272.57 394.1h1.53M275.64 394.1h1.53M280.24 394.1h1.53M294.05 394.1h1.53M301.72 394.1h1.53M221.16 402.76h1.56M269.5 402.76h1.53M294.05 402.76h3.07M300.19 402.76h1.53M310.93 402.76h1.53"/>
<path stroke="#3c309c" d="M222.72 281.52h1.56M230.52 281.52h1.56M241.43 281.52h1.56M252.35 281.52h1.56M255.47 281.52h1.56M258.58 281.52h1.56M264.82 281.52h1.56M267.94 281.52h1.56M246.11 290.18h1.56M287.91 290.18h1.53M232.07 307.5h1.56M241.43 307.5h1.56M287.91 307.5h1.53M306.33 307.5h1.53M269.5 316.16h1.53M292.52 316.16h1.53M258.58 324.82h1.56M303.26 333.48h1.53M277.17 342.14h1.53M294.05 342.14h1.53M277.17 350.8h1.53M280.24 350.8h1.53M300.19 350.8h1.53M306.33 350.8h1.53M274.1 359.46h1.53M292.52 359.46h1.53M292.52 368.12h1.53M309.39 368.12h1.53M312.46 368.12h1.53M269.5 385.44h1.53M277.17 385.44h1.53M304.79 385.44h1.53M314 385.44h1.53M277.17 394.1h1.53M281.77 394.1h1.53M289.45 394.1h4.6M300.19 394.1h1.53M310.93 394.1h1.53M253.91 402.76h1.56M297.12 402.76h3.07M301.72 402.76h1.53M307.86 402.76h1.53M312.46 402.76h1.53"/>
<path stroke="#d84848" d="M287.91 281.52h1.53M246.11 359.46h1.56M233.63 394.1h1.56"/>
<path stroke="#d83c48" d="M297.12 281.52h1.53M228.96 307.5h1.56M228.96 368.12h1.56M250.79 368.12h1.56M266.38 385.44h1.56M230.52 394.1h1.56M241.43 394.1h1.56"/>
<path stroke="#d86060" d="M315.53 290.18h1.53M255.47 316.16h1.56M303.26 316.16h1.53M249.23 411.42h1.56M312.46 411.42h1.53"/>
<path stroke="#5454b4" d="M239.87 298.84h1.56M301.72 307.5h1.53M283.31 342.14h1.53M284.84 359.46h1.53M312.46 359.46h1.53M263.26 411.42h1.56M277.17 411.42h1.53"/>
<path stroke="#cccce4" d="M306.33 298.84h1.53"/>
<path stroke="#d83c3c" d="M253.91 307.5h1.56M219.6 359.46h1.56M236.75 359.46h1.56"/>
<path stroke="#6c6cb4" d="M219.6 324.82h1.56M227.4 376.78h1.56M236.75 411.42h1.56"/>
<path stroke="#c0c0d8" d="M266.38 333.48h1.56"/>
<path stroke="#d8303c" d="M225.84 350.8h1.56"/>
<path stroke="#a8a8d8" d="M267.94 411.42h1.56M300.19 411.42h1.53"/>
</g>
<path d="M235.19 243.3V415M250.79 243.3V415M266.38 243.3V415M284.84 243.3V415M300.19 243.3V415M315.53 243.3V415M269.5 243.3V415" fill="none" stroke="#2a2182" stroke-width="0.6" opacity="0.7"/>
<text x="322.5" y="249.73" font-size="6.3" fill="#1a1a1a" stroke="#1a1a1a">1.1</text>
<text x="337" y="249.73" font-size="6.3" fill="#1a1a1a" stroke="#1a1a1a">5E-01</text>
<text x="322.5" y="258.39" font-size="6.3" fill="#1a1a1a" stroke="#1a1a1a">1.3</text>
<text x="337" y="258.39" font-size="6.3" fill="#1a1a1a" stroke="#1a1a1a">2E-02</text>
<text x="322.5" y="267.05" font-size="6.3" fill="#1a1a1a" stroke="#1a1a1a">2.5</text>
<text x="337" y="267.05" font-size="6.3" fill="#1a1a1a" stroke="#1a1a1a">8E-04</text>
<text x="322.5" y="275.71" font-size="6.3" fill="#1a1a1a" stroke="#1a1a1a">0.8</text>
<text x="337" y="275.71" font-size="6.3" fill="#1a1a1a" stroke="#1a1a1a">8E-02</text>
<text x="322.5" y="284.37" font-size="6.3" fill="#1a1a1a" stroke="#1a1a1a">14.7</text>
<text x="337" y="284.37" font-size="6.3" fill="#1a1a1a" stroke="#1a1a1a">9E-06</text>
<text x="322.5" y="293.03" font-size="6.3" fill="#1a1a1a" stroke="#1a1a1a">3.8</text>
<text x="337" y="293.03" font-size="6.3" fill="#1a1a1a" stroke="#1a1a1a">7E-06</text>
<text x="322.5" y="301.69" font-size="6.3" fill="#1a1a1a" stroke="#1a1a1a">1.8</text>
<text x="337" y="301.69" font-size="6.3" fill="#1a1a1a" stroke="#1a1a1a">9E-01</text>
<text x="322.5" y="310.35" font-size="6.3" fill="#1a1a1a" stroke="#1a1a1a">0.6</text>
<text x="337" y="310.35" font-size="6.3" fill="#1a1a1a" stroke="#1a1a1a">1E-05</text>
<text x="322.5" y="319.01" font-size="6.3" fill="#1a1a1a" stroke="#1a1a1a">11.0</text>
<text x="337" y="319.01" font-size="6.3" fill="#1a1a1a" stroke="#1a1a1a">5E-01</text>
<text x="322.5" y="327.67" font-size="6.3" fill="#1a1a1a" stroke="#1a1a1a">1.7</text>
<text x="337" y="327.67" font-size="6.3" fill="#1a1a1a" stroke="#1a1a1a">9E-01</text>
<text x="322.5" y="336.33" font-size="6.3" fill="#1a1a1a" stroke="#1a1a1a">1.2</text>
<text x="337" y="336.33" font-size="6.3" fill="#1a1a1a" stroke="#1a1a1a">4E-01</text>
<text x="322.5" y="344.99" font-size="6.3" fill="#1a1a1a" stroke="#1a1a1a">1.2</text>
<text x="337" y="344.99" font-size="6.3" fill="#1a1a1a" stroke="#1a1a1a">2E-01</text>
<text x="322.5" y="353.65" font-size="6.3" fill="#1a1a1a" stroke="#1a1a1a">0.1</text>
<text x="337" y="353.65" font-size="6.3" fill="#1a1a1a" stroke="#1a1a1a">6E-18</text>
<text x="322.5" y="362.31" font-size="6.3" fill="#1a1a1a" stroke="#1a1a1a">0.4</text>
<text x="337" y="362.31" font-size="6.3" fill="#1a1a1a" stroke="#1a1a1a">7E-06</text>
<text x="322.5" y="370.97" font-size="6.3" fill="#1a1a1a" stroke="#1a1a1a">0.1</text>
<text x="337" y="370.97" font-size="6.3" fill="#1a1a1a" stroke="#1a1a1a">2E-06</text>
<text x="322.5" y="379.63" font-size="6.3" fill="#1a1a1a" stroke="#1a1a1a">0.9</text>
<text x="337" y="379.63" font-size="6.3" fill="#1a1a1a" stroke="#1a1a1a">2E-02</text>
<text x="322.5" y="388.29" font-size="6.3" fill="#1a1a1a" stroke="#1a1a1a">0.2</text>
<text x="337" y="388.29" font-size="6.3" fill="#1a1a1a" stroke="#1a1a1a">2E-17</text>
<text x="322.5" y="396.95" font-size="6.3" fill="#1a1a1a" stroke="#1a1a1a">0.3</text>
<text x="337" y="396.95" font-size="6.3" fill="#1a1a1a" stroke="#1a1a1a">2E-05</text>
<text x="322.5" y="405.61" font-size="6.3" fill="#1a1a1a" stroke="#1a1a1a">0.7</text>
<text x="337" y="405.61" font-size="6.3" fill="#1a1a1a" stroke="#1a1a1a">4E-01</text>
<text x="322.5" y="414.27" font-size="6.3" fill="#1a1a1a" stroke="#1a1a1a">1.0</text>
<text x="337" y="414.27" font-size="6.3" fill="#1a1a1a" stroke="#1a1a1a">1E-01</text>
<text x="423.6" y="219.7" font-size="7.45" text-anchor="middle" fill="#1a1a1a" stroke="#1a1a1a">Chromophobe (<tspan font-style="italic">n</tspan> = 25)</text>
<text x="405.5" y="232.7" font-size="7.35" text-anchor="middle" fill="#1a1a1a" stroke="#1a1a1a">Normal tissue</text>
<text x="460.8" y="232.7" font-size="7.35" text-anchor="middle" fill="#1a1a1a" stroke="#1a1a1a">Tumor tissue</text>
<rect x="382.2" y="235.8" width="50.5" height="4.6" fill="#111"/>
<rect x="432.7" y="235.8" width="50.6" height="4.6" fill="#e8121c"/>
<text font-size="6.4" transform="translate(492.8 239.6) rotate(-90)" fill="#1a1a1a" stroke="#1a1a1a">T/N</text>
<text font-size="6.4" transform="translate(512.3 239.6) rotate(-90)" fill="#1a1a1a" stroke="#1a1a1a"><tspan font-style="italic">P</tspan>-value</text>
<rect x="373.4" y="242.9" width="4.2" height="86.6" fill="#e8121c"/>
<rect x="373.4" y="329.5" width="4.2" height="86.8" fill="#111"/>
<text font-size="6.3" text-anchor="middle" transform="translate(370.2 286.6) rotate(-90)" fill="#1a1a1a" stroke="#1a1a1a">Tumor SE</text>
<text font-size="6.3" text-anchor="middle" transform="translate(370.2 369.74) rotate(-90)" fill="#1a1a1a" stroke="#1a1a1a">Normal SE</text>
<rect x="381.9" y="242.7" width="101.7" height="172.9" fill="#2a2182"/>
<g stroke-width="7.16" fill="none">
<path stroke="#b4a8d8" d="M382.2 246.88h2.02M390.28 246.88h2.02M440.8 246.88h2.02M463.06 246.88h2.02M408.46 264.2h2.02M422.6 281.52h2.02M465.08 281.52h2.02M428.66 290.18h2.02M398.36 298.84h2.02M402.4 298.84h2.02M414.52 298.84h2.02M426.64 298.84h2.02M456.99 307.5h2.02M396.34 324.82h2.02M382.2 333.48h2.02M386.24 333.48h2.02M456.99 333.48h2.02M432.7 342.14h2.02M444.84 342.14h2.02M388.26 359.46h2.02M396.34 359.46h2.02M420.58 359.46h2.02M469.13 376.78h2.02M384.22 394.1h4.04M440.8 411.42h2.02"/>
<path stroke="#f0c0cc" d="M384.22 246.88h2.02M448.89 264.2h2.02M471.16 272.86h2.02M382.2 290.18h2.02M388.26 290.18h2.02M394.32 290.18h2.02M410.48 290.18h2.02M414.52 290.18h2.02M420.58 298.84h2.02M465.08 307.5h2.02M412.5 316.16h2.02M428.66 316.16h2.02M444.84 324.82h2.02M469.13 333.48h2.02M398.36 350.8h2.02M467.11 350.8h2.02M448.89 359.46h2.02M414.52 376.78h2.02M438.77 376.78h2.02M471.16 376.78h2.02M440.8 394.1h2.02M434.72 402.76h2.02M450.92 402.76h2.02M479.25 411.42h2.02"/>
<path stroke="#e4909c" d="M386.24 246.88h2.02M406.44 246.88h2.02M436.75 255.54h2.02M390.28 272.86h2.02M416.54 272.86h2.02M424.62 272.86h2.02M467.11 281.52h2.02M396.34 290.18h2.02M400.38 290.18h2.02M384.22 342.14h2.02M418.56 342.14h2.02M434.72 342.14h2.02M386.24 350.8h2.02M392.3 350.8h2.02M402.4 350.8h2.02M461.04 359.46h2.02M469.13 359.46h2.02M394.32 368.12h2.02M390.28 376.78h2.02M465.08 376.78h2.02M386.24 385.44h2.02M424.62 385.44h2.02M416.54 394.1h2.02M446.87 394.1h2.02M465.08 402.76h2.02M479.25 402.76h2.02M396.34 411.42h2.02M471.16 411.42h2.02"/>
<path stroke="#d8cce4" d="M388.26 246.88h2.02M394.32 246.88h4.04M408.46 246.88h2.02M412.5 246.88h2.02M432.7 246.88h2.02M442.82 246.88h2.02M450.92 246.88h4.05M456.99 246.88h2.02M475.2 246.88h2.02M446.87 255.54h2.02M459.01 255.54h2.02M392.3 264.2h2.02M467.11 264.2h2.02M471.16 264.2h2.02M456.99 272.86h2.02M467.11 272.86h2.02M446.87 281.52h2.02M432.7 290.18h2.02M438.77 290.18h2.02M461.04 290.18h2.02M440.8 298.84h2.02M454.96 298.84h2.02M452.94 307.5h2.02M430.68 324.82h2.02M440.8 324.82h2.02M467.11 324.82h2.02M392.3 333.48h2.02M396.34 333.48h2.02M400.38 333.48h2.02M414.52 333.48h2.02M440.8 350.8h2.02M454.96 350.8h2.02M473.18 350.8h2.02M390.28 359.46h2.02M408.46 359.46h2.02M422.6 359.46h2.02M402.4 368.12h2.02M452.94 368.12h2.02M473.18 368.12h2.02M446.87 385.44h2.02M454.96 385.44h2.02M467.11 385.44h2.02M404.42 394.1h2.02M410.48 394.1h4.04M448.89 394.1h2.02M459.01 394.1h4.05M469.13 394.1h2.02M382.2 411.42h4.04M436.75 411.42h2.02M467.11 411.42h2.02M481.28 411.42h2.02"/>
<path stroke="#f0cccc" d="M392.3 246.88h2.02M404.42 246.88h2.02M426.64 246.88h2.02M434.72 246.88h2.02M382.2 255.54h2.02M388.26 255.54h2.02M418.56 255.54h4.04M428.66 255.54h2.02M432.7 255.54h2.02M456.99 255.54h2.02M396.34 264.2h2.02M420.58 264.2h2.02M454.96 264.2h2.02M382.2 272.86h2.02M392.3 272.86h2.02M418.56 272.86h2.02M426.64 272.86h2.02M442.82 272.86h2.02M442.82 281.52h2.02M452.94 281.52h4.05M386.24 290.18h2.02M390.28 290.18h2.02M402.4 290.18h2.02M422.6 290.18h2.02M440.8 290.18h2.02M467.11 290.18h2.02M434.72 298.84h2.02M444.84 298.84h2.02M467.11 298.84h2.02M432.7 307.5h6.07M473.18 307.5h2.02M396.34 316.16h2.02M410.48 316.16h2.02M416.54 316.16h2.02M384.22 324.82h2.02M410.48 324.82h2.02M416.54 324.82h2.02M424.62 324.82h2.02M454.96 324.82h2.02M479.25 324.82h2.02M388.26 333.48h4.04M398.36 333.48h2.02M406.44 333.48h4.04M428.66 333.48h4.04M444.84 333.48h2.02M452.94 333.48h2.02M459.01 333.48h4.05M386.24 342.14h2.02M390.28 342.14h2.02M398.36 342.14h2.02M404.42 342.14h4.04M424.62 342.14h2.02M465.08 342.14h2.02M390.28 350.8h2.02M450.92 350.8h2.02M479.25 350.8h2.02M386.24 359.46h2.02M404.42 359.46h2.02M414.52 359.46h4.04M471.16 359.46h2.02M477.23 359.46h2.02M428.66 368.12h2.02M448.89 368.12h2.02M463.06 368.12h4.05M418.56 376.78h2.02M424.62 376.78h2.02M448.89 376.78h2.02M452.94 376.78h2.02M459.01 376.78h2.02M463.06 376.78h2.02M473.18 376.78h2.02M396.34 385.44h2.02M402.4 385.44h2.02M420.58 385.44h2.02M461.04 385.44h2.02M481.28 385.44h2.02M382.2 394.1h2.02M398.36 394.1h2.02M414.52 394.1h2.02M424.62 394.1h2.02M430.68 394.1h2.02M434.72 394.1h2.02M444.84 394.1h2.02M463.06 394.1h2.02M477.23 394.1h2.02M440.8 402.76h2.02M471.16 402.76h2.02M477.23 402.76h2.02M481.28 402.76h2.02M404.42 411.42h2.02M412.5 411.42h2.02M416.54 411.42h2.02"/>
<path stroke="#e47884" d="M398.36 246.88h2.02M430.68 255.54h2.02M392.3 290.18h2.02M388.26 298.84h2.02M396.34 298.84h2.02M388.26 307.5h2.02M398.36 307.5h2.02M388.26 316.16h2.02M404.42 316.16h2.02M414.52 316.16h2.02M404.42 324.82h2.02M450.92 324.82h2.02M412.5 333.48h2.02M477.23 333.48h2.02M382.2 342.14h2.02M426.64 342.14h2.02M477.23 342.14h2.02M432.7 359.46h2.02M440.8 359.46h2.02M481.28 359.46h2.02M384.22 376.78h2.02M400.38 376.78h2.02M412.5 376.78h2.02M434.72 376.78h2.02M446.87 376.78h2.02M467.11 376.78h2.02M388.26 385.44h2.02M392.3 385.44h4.04M398.36 385.44h2.02M404.42 385.44h4.04M426.64 385.44h2.02M456.99 394.1h2.02M475.2 402.76h2.02"/>
<path stroke="#f0a8b4" d="M400.38 246.88h2.02M416.54 246.88h2.02M414.52 255.54h2.02M448.89 255.54h2.02M414.52 272.86h2.02M440.8 272.86h2.02M448.89 281.52h2.02M463.06 281.52h2.02M412.5 290.18h2.02M420.58 290.18h2.02M456.99 298.84h2.02M479.25 298.84h2.02M396.34 307.5h2.02M392.3 316.16h2.02M402.4 316.16h2.02M465.08 324.82h2.02M442.82 333.48h2.02M448.89 333.48h2.02M396.34 342.14h2.02M416.54 376.78h2.02M420.58 376.78h2.02M430.68 376.78h2.02M432.7 402.76h2.02"/>
<path stroke="#786cc0" d="M402.4 246.88h2.02M446.87 246.88h2.02M461.04 246.88h2.02M398.36 255.54h2.02M436.75 324.82h2.02M454.96 342.14h2.02M475.2 394.1h2.02M481.28 394.1h2.02"/>
<path stroke="#8478c0" d="M410.48 246.88h2.02M436.75 246.88h2.02M386.24 255.54h2.02M424.62 290.18h2.02M442.82 290.18h2.02M422.6 333.48h2.02M426.64 333.48h2.02M428.66 359.46h2.02M471.16 394.1h2.02M465.08 411.42h2.02"/>
<path stroke="#9084cc" d="M414.52 246.88h2.02M446.87 264.2h2.02M456.99 281.52h2.02M442.82 298.84h2.02M446.87 307.5h2.02M434.72 350.8h2.02M446.87 368.12h2.02M392.3 376.78h2.02M438.77 385.44h2.02M408.46 394.1h2.02M442.82 394.1h2.02M400.38 402.76h2.02"/>
<path stroke="#a8a8d8" d="M418.56 246.88h2.02M404.42 298.84h2.02M469.13 298.84h2.02M418.56 394.1h2.02M469.13 411.42h2.02"/>
<path stroke="#c0b4d8" d="M420.58 246.88h2.02M454.96 246.88h2.02M467.11 246.88h2.02M452.94 255.54h2.02M471.16 255.54h2.02M475.2 255.54h4.05M398.36 264.2h2.02M430.68 264.2h2.02M426.64 281.52h2.02M461.04 281.52h2.02M471.16 290.18h2.02M412.5 298.84h2.02M418.56 298.84h2.02M459.01 298.84h2.02M420.58 307.5h2.02M469.13 307.5h2.02M481.28 307.5h2.02M471.16 324.82h2.02M402.4 333.48h2.02M469.13 342.14h2.02M446.87 350.8h2.02M463.06 350.8h2.02M430.68 368.12h2.02M442.82 385.44h2.02M477.23 385.44h2.02M428.66 394.1h2.02M450.92 394.1h2.02M454.96 394.1h2.02M473.18 394.1h2.02M479.25 394.1h2.02M463.06 411.42h2.02"/>
<path stroke="#e48490" d="M422.6 246.88h2.02M471.16 246.88h4.05M479.25 246.88h2.02M398.36 272.86h2.02M406.44 272.86h2.02M410.48 272.86h2.02M422.6 272.86h2.02M430.68 290.18h2.02M406.44 298.84h2.02M428.66 298.84h2.02M406.44 307.5h2.02M382.2 316.16h2.02M390.28 316.16h2.02M424.62 316.16h2.02M404.42 333.48h2.02M440.8 333.48h2.02M475.2 333.48h2.02M394.32 342.14h2.02M384.22 350.8h2.02M442.82 359.46h2.02M402.4 376.78h2.02M408.46 376.78h2.02M442.82 376.78h4.05M422.6 385.44h2.02M444.84 402.76h2.02M461.04 402.76h2.02M473.18 402.76h2.02M406.44 411.42h4.04M414.52 411.42h2.02"/>
<path stroke="#e4a8a8" d="M424.62 246.88h2.02M479.25 272.86h2.02M412.5 307.5h2.02M386.24 316.16h2.02M424.62 333.48h2.02M428.66 342.14h2.02M394.32 350.8h2.02M463.06 359.46h2.02M475.2 359.46h2.02M461.04 376.78h2.02"/>
<path stroke="#f0c0c0" d="M428.66 246.88h2.02M459.01 246.88h2.02M384.22 255.54h2.02M424.62 255.54h2.02M479.25 264.2h2.02M416.54 290.18h2.02M426.64 290.18h2.02M410.48 298.84h2.02M398.36 316.16h2.02M471.16 350.8h2.02M412.5 359.46h2.02M456.99 359.46h2.02M473.18 359.46h2.02M414.52 368.12h2.02M418.56 368.12h2.02M394.32 376.78h2.02M404.42 376.78h2.02M456.99 376.78h2.02M390.28 394.1h2.02M400.38 394.1h2.02M422.6 394.1h2.02M436.75 402.76h2.02M456.99 402.76h2.02"/>
<path stroke="#ccc0e4" d="M430.68 246.88h2.02M448.89 246.88h2.02M444.84 272.86h2.02M434.72 290.18h2.02M386.24 298.84h2.02M424.62 298.84h2.02M382.2 324.82h2.02M402.4 324.82h2.02M481.28 324.82h2.02M410.48 333.48h2.02M416.54 333.48h2.02M471.16 342.14h2.02M477.23 350.8h2.02M400.38 359.46h2.02M473.18 385.44h2.02M465.08 394.1h2.02"/>
<path stroke="#a89cd8" d="M438.77 246.88h2.02M469.13 255.54h2.02M463.06 264.2h2.02M448.89 324.82h2.02M469.13 324.82h2.02M440.8 342.14h4.05M461.04 342.14h2.02"/>
<path stroke="#9c9ccc" d="M444.84 246.88h2.02M473.18 264.2h2.02M471.16 298.84h2.02M422.6 402.76h2.02"/>
<path stroke="#e49c9c" d="M465.08 246.88h2.02M400.38 255.54h2.02M426.64 255.54h2.02M384.22 264.2h2.02M418.56 264.2h2.02M434.72 281.52h2.02M477.23 281.52h2.02M382.2 298.84h2.02M384.22 307.5h2.02M430.68 307.5h2.02M434.72 333.48h2.02M428.66 350.8h2.02M426.64 376.78h2.02M479.25 376.78h2.02M428.66 385.44h2.02M438.77 402.76h2.02M446.87 402.76h2.02M459.01 411.42h2.02"/>
<path stroke="#f0b4b4" d="M469.13 246.88h2.02M477.23 246.88h2.02M404.42 255.54h2.02M436.75 264.2h2.02M400.38 272.86h2.02M406.44 290.18h2.02M418.56 316.16h2.02M438.77 333.48h2.02M436.75 342.14h2.02M382.2 376.78h2.02M454.96 411.42h2.02"/>
<path stroke="#f0b4c0" d="M481.28 246.88h2.02M473.18 255.54h2.02M434.72 264.2h2.02M440.8 264.2h2.02M452.94 264.2h2.02M388.26 272.86h2.02M408.46 272.86h2.02M454.96 272.86h2.02M475.2 281.52h2.02M400.38 298.84h2.02M402.4 307.5h2.02M414.52 307.5h2.02M424.62 307.5h2.02M477.23 307.5h2.02M461.04 324.82h2.02M394.32 333.48h2.02M418.56 333.48h4.04M465.08 333.48h2.02M473.18 333.48h2.02M412.5 342.14h2.02M396.34 350.8h2.02M410.48 350.8h4.04M426.64 350.8h2.02M434.72 359.46h2.02M446.87 359.46h2.02M459.01 359.46h2.02M398.36 376.78h2.02M436.75 376.78h2.02M440.8 376.78h2.02M481.28 376.78h2.02M408.46 385.44h2.02M430.68 385.44h2.02M436.75 394.1h2.02M452.94 394.1h2.02M467.11 394.1h2.02M442.82 402.76h2.02M463.06 402.76h2.02"/>
<path stroke="#e46c78" d="M390.28 255.54h2.02M402.4 255.54h2.02M410.48 255.54h2.02M422.6 255.54h2.02M444.84 255.54h2.02M465.08 255.54h2.02M481.28 255.54h2.02M416.54 298.84h2.02M404.42 307.5h2.02M416.54 307.5h2.02M422.6 316.16h2.02M390.28 324.82h2.02M418.56 324.82h2.02M446.87 333.48h2.02M392.3 342.14h2.02M416.54 342.14h2.02M406.44 350.8h2.02M414.52 350.8h4.04M388.26 376.78h2.02M422.6 376.78h2.02M450.92 376.78h2.02M454.96 376.78h2.02M477.23 376.78h2.02M418.56 385.44h2.02M448.89 402.76h2.02M430.68 411.42h2.02"/>
<path stroke="#d86060" d="M392.3 255.54h2.02M398.36 290.18h2.02M418.56 290.18h2.02M394.32 307.5h2.02M400.38 307.5h2.02M434.72 324.82h2.02M416.54 368.12h2.02M406.44 376.78h2.02"/>
<path stroke="#d85460" d="M394.32 255.54h2.02M416.54 255.54h2.02M382.2 264.2h2.02M386.24 264.2h2.02M390.28 264.2h2.02M414.52 264.2h2.02M424.62 264.2h2.02M438.77 324.82h2.02M473.18 324.82h2.02M432.7 333.48h2.02M463.06 333.48h2.02M408.46 342.14h2.02"/>
<path stroke="#e47878" d="M396.34 255.54h2.02M426.64 316.16h2.02M432.7 324.82h2.02M408.46 350.8h2.02M424.62 350.8h2.02M430.68 350.8h2.02M386.24 368.12h2.02M400.38 385.44h2.02M428.66 411.42h2.02"/>
<path stroke="#5448b4" d="M406.44 255.54h2.02M469.13 264.2h2.02M434.72 272.86h2.02M448.89 342.14h2.02M438.77 350.8h2.02M432.7 368.12h2.02"/>
<path stroke="#9090cc" d="M408.46 255.54h2.02M436.75 290.18h2.02M450.92 298.84h2.02M422.6 350.8h2.02"/>
<path stroke="#e4a8b4" d="M412.5 255.54h2.02M442.82 264.2h2.02M402.4 272.86h4.04M420.58 272.86h2.02M436.75 298.84h2.02M386.24 307.5h2.02M438.77 307.5h2.02M450.92 307.5h2.02M384.22 316.16h2.02M408.46 316.16h2.02M420.58 316.16h2.02M452.94 350.8h2.02M479.25 359.46h2.02M465.08 385.44h2.02M438.77 394.1h2.02"/>
<path stroke="#6054b4" d="M434.72 255.54h2.02M463.06 255.54h2.02M426.64 264.2h2.02M461.04 264.2h2.02M459.01 272.86h2.02M459.01 281.52h2.02M475.2 290.18h2.02M479.25 290.18h2.02M446.87 298.84h2.02M386.24 324.82h2.02M420.58 324.82h2.02M452.94 324.82h2.02M481.28 342.14h2.02M432.7 350.8h2.02M465.08 350.8h2.02M475.2 350.8h2.02M394.32 359.46h2.02M424.62 359.46h2.02M430.68 359.46h2.02M382.2 368.12h2.02M388.26 368.12h2.02M400.38 368.12h2.02M456.99 368.12h2.02M461.04 368.12h2.02M471.16 368.12h2.02M456.99 385.44h2.02M402.4 411.42h2.02M418.56 411.42h2.02M424.62 411.42h2.02M432.7 411.42h2.02M442.82 411.42h4.05M448.89 411.42h2.02"/>
<path stroke="#6060b4" d="M438.77 255.54h2.02M444.84 264.2h2.02M422.6 324.82h2.02M446.87 324.82h2.02M402.4 359.46h2.02M420.58 394.1h2.02M452.94 411.42h2.02"/>
<path stroke="#6c60b4" d="M440.8 255.54h2.02M454.96 255.54h2.02M465.08 272.86h2.02M440.8 281.52h2.02M444.84 307.5h2.02M477.23 324.82h2.02M467.11 333.48h2.02M402.4 342.14h2.02M463.06 342.14h2.02M444.84 350.8h2.02M406.44 368.12h2.02M450.92 385.44h2.02M469.13 385.44h4.05M388.26 411.42h2.02M400.38 411.42h2.02M422.6 411.42h2.02M456.99 411.42h2.02"/>
<path stroke="#d84854" d="M442.82 255.54h2.02M422.6 307.5h2.02M392.3 324.82h2.02M471.16 333.48h2.02M410.48 342.14h2.02M452.94 359.46h2.02M467.11 359.46h2.02M422.6 368.12h2.02M412.5 385.44h4.04"/>
<path stroke="#5454b4" d="M450.92 255.54h2.02M438.77 264.2h2.02M436.75 281.52h4.05M479.25 281.52h2.02M481.28 298.84h2.02M398.36 411.42h2.02"/>
<path stroke="#3c3ca8" d="M461.04 255.54h2.02M450.92 272.86h2.02M404.42 281.52h2.02M412.5 281.52h2.02M418.56 281.52h2.02M477.23 290.18h2.02M448.89 298.84h2.02M452.94 298.84h2.02M463.06 307.5h2.02M471.16 307.5h2.02M432.7 316.16h2.02M467.11 316.16h2.02M452.94 342.14h2.02M440.8 368.12h2.02M436.75 385.44h2.02"/>
<path stroke="#e49ca8" d="M467.11 255.54h2.02M450.92 264.2h2.02M386.24 272.86h2.02M396.34 272.86h2.02M432.7 272.86h2.02M481.28 272.86h2.02M384.22 290.18h2.02M408.46 290.18h2.02M382.2 307.5h2.02M390.28 307.5h2.02M406.44 316.16h2.02M388.26 324.82h2.02M481.28 333.48h2.02M400.38 342.14h2.02M414.52 342.14h2.02M420.58 342.14h4.04M459.01 342.14h2.02M467.11 342.14h2.02M475.2 342.14h2.02M420.58 350.8h2.02M426.64 359.46h2.02M450.92 359.46h2.02M432.7 376.78h2.02M463.06 385.44h2.02M475.2 385.44h2.02M432.7 394.1h2.02M469.13 402.76h2.02"/>
<path stroke="#e48484" d="M479.25 255.54h2.02M400.38 264.2h2.02M426.64 307.5h2.02M394.32 324.82h2.02M400.38 324.82h2.02M442.82 324.82h2.02M400.38 350.8h2.02M444.84 359.46h2.02M410.48 385.44h2.02M416.54 385.44h2.02M386.24 411.42h2.02"/>
<path stroke="#5448a8" d="M388.26 264.2h2.02M394.32 264.2h2.02M456.99 264.2h4.05M475.2 264.2h2.02M436.75 272.86h2.02M475.2 272.86h2.02M469.13 281.52h2.02M444.84 290.18h6.07M456.99 290.18h2.02M469.13 290.18h2.02M448.89 307.5h2.02M454.96 307.5h2.02M459.01 307.5h2.02M456.99 324.82h2.02M473.18 342.14h2.02M448.89 350.8h2.02M398.36 368.12h2.02M404.42 368.12h2.02M436.75 368.12h2.02M442.82 368.12h2.02M448.89 385.44h2.02M452.94 385.44h2.02M392.3 394.1h2.02M402.4 394.1h2.02M390.28 411.42h2.02"/>
<path stroke="#4848a8" d="M402.4 264.2h2.02M438.77 272.86h2.02M448.89 272.86h2.02M463.06 272.86h2.02M473.18 272.86h2.02M471.16 281.52h2.02M463.06 298.84h2.02M469.13 350.8h2.02M384.22 359.46h2.02M467.11 368.12h2.02M434.72 385.44h2.02"/>
<path stroke="#d85454" d="M404.42 264.2h2.02M412.5 272.86h2.02M422.6 298.84h2.02"/>
<path stroke="#3c30a8" d="M406.44 264.2h2.02M410.48 264.2h2.02M428.66 264.2h2.02M384.22 281.52h2.02M388.26 281.52h2.02M392.3 281.52h2.02M424.62 281.52h2.02M450.92 290.18h2.02M459.01 290.18h2.02M473.18 290.18h2.02M430.68 298.84h2.02M465.08 298.84h2.02M477.23 298.84h2.02M442.82 307.5h2.02M442.82 316.16h2.02M450.92 316.16h2.02M459.01 316.16h4.05M473.18 316.16h2.02M428.66 324.82h2.02M446.87 342.14h2.02M436.75 350.8h2.02M442.82 350.8h2.02M438.77 368.12h2.02M459.01 368.12h2.02M475.2 368.12h2.02M440.8 385.44h2.02M382.2 402.76h10.1M394.32 402.76h2.02M404.42 402.76h2.02M410.48 402.76h4.04M418.56 402.76h4.04M426.64 402.76h6.06M426.64 411.42h2.02M446.87 411.42h2.02"/>
<path stroke="#d83c3c" d="M412.5 264.2h2.02M392.3 307.5h2.02M408.46 307.5h2.02M428.66 307.5h2.02M408.46 324.82h2.02M410.48 368.12h2.02"/>
<path stroke="#483ca8" d="M416.54 264.2h2.02M422.6 264.2h2.02M477.23 264.2h2.02M481.28 264.2h2.02M452.94 272.86h2.02M469.13 272.86h2.02M477.23 272.86h2.02M382.2 281.52h2.02M386.24 281.52h2.02M390.28 281.52h2.02M394.32 281.52h2.02M398.36 281.52h2.02M406.44 281.52h6.06M414.52 281.52h4.04M420.58 281.52h2.02M428.66 281.52h4.04M444.84 281.52h2.02M450.92 281.52h2.02M473.18 281.52h2.02M452.94 290.18h4.05M463.06 290.18h4.05M384.22 298.84h2.02M394.32 298.84h2.02M432.7 298.84h2.02M438.77 298.84h2.02M461.04 307.5h2.02M475.2 307.5h2.02M436.75 316.16h2.02M440.8 316.16h2.02M444.84 316.16h6.07M452.94 316.16h6.07M463.06 316.16h2.02M469.13 316.16h4.05M475.2 316.16h6.07M450.92 342.14h2.02M456.99 342.14h2.02M392.3 359.46h2.02M398.36 359.46h2.02M390.28 368.12h4.04M412.5 368.12h2.02M424.62 368.12h2.02M434.72 368.12h2.02M450.92 368.12h2.02M481.28 368.12h2.02M394.32 394.1h4.04M426.64 394.1h2.02M392.3 402.76h2.02M396.34 402.76h4.04M414.52 402.76h4.04M424.62 402.76h2.02M392.3 411.42h4.04M450.92 411.42h2.02M461.04 411.42h2.02M477.23 411.42h2.02"/>
<path stroke="#c0c0d8" d="M432.7 264.2h2.02"/>
<path stroke="#b4b4d8" d="M465.08 264.2h2.02M434.72 316.16h2.02M412.5 324.82h2.02M463.06 324.82h2.02M396.34 368.12h2.02M477.23 368.12h2.02M406.44 394.1h2.02"/>
<path stroke="#d83c48" d="M384.22 272.86h2.02M390.28 298.84h4.04M436.75 359.46h2.02M465.08 359.46h2.02M384.22 368.12h2.02M410.48 411.42h2.02M420.58 411.42h2.02"/>
<path stroke="#e4606c" d="M394.32 272.86h2.02M438.77 342.14h2.02M454.96 402.76h2.02"/>
<path stroke="#e49090" d="M428.66 272.86h4.04M394.32 316.16h2.02M400.38 316.16h2.02M430.68 316.16h2.02M406.44 324.82h2.02M426.64 324.82h2.02M459.01 324.82h2.02M450.92 333.48h2.02M382.2 350.8h2.02M396.34 376.78h2.02M410.48 376.78h2.02M475.2 376.78h2.02M382.2 385.44h4.04M452.94 402.76h2.02M467.11 402.76h2.02"/>
<path stroke="#3c309c" d="M446.87 272.86h2.02M400.38 281.52h2.02M481.28 290.18h2.02M438.77 316.16h2.02M465.08 316.16h2.02M481.28 316.16h2.02M382.2 359.46h2.02M420.58 368.12h2.02M444.84 368.12h2.02M454.96 368.12h2.02M469.13 368.12h2.02M479.25 368.12h2.02M388.26 394.1h2.02M402.4 402.76h2.02M406.44 402.76h4.04M473.18 411.42h2.02"/>
<path stroke="#9c90cc" d="M461.04 272.86h2.02M402.4 281.52h2.02M481.28 281.52h2.02M475.2 324.82h2.02M388.26 342.14h2.02M479.25 342.14h2.02M481.28 350.8h2.02M406.44 359.46h2.02M410.48 359.46h2.02M479.25 385.44h2.02"/>
<path stroke="#9084c0" d="M396.34 281.52h2.02M432.7 281.52h2.02M467.11 307.5h2.02M479.25 307.5h2.02M390.28 385.44h2.02M459.01 385.44h2.02"/>
<path stroke="#e46c6c" d="M404.42 290.18h2.02M418.56 307.5h2.02M414.52 324.82h2.02M436.75 333.48h2.02M479.25 333.48h2.02M404.42 350.8h2.02M408.46 368.12h2.02M428.66 376.78h2.02M459.01 402.76h2.02"/>
<path stroke="#d8303c" d="M408.46 298.84h2.02M454.96 333.48h2.02M418.56 350.8h2.02"/>
<path stroke="#a89ccc" d="M461.04 298.84h2.02M473.18 298.84h4.05M440.8 307.5h2.02M456.99 350.8h6.07M418.56 359.46h2.02M454.96 359.46h2.02M444.84 385.44h2.02M434.72 411.42h2.02M438.77 411.42h2.02M475.2 411.42h2.02"/>
<path stroke="#d84848" d="M410.48 307.5h2.02M388.26 350.8h2.02M386.24 376.78h2.02"/>
<path stroke="#d8606c" d="M398.36 324.82h2.02M430.68 342.14h2.02M438.77 359.46h2.02"/>
<path stroke="#cccce4" d="M384.22 333.48h2.02M426.64 368.12h2.02"/>
<path stroke="#8484c0" d="M432.7 385.44h2.02"/>
</g>
<path d="M402.4 243.3V415M422.6 243.3V415M452.94 243.3V415M473.18 243.3V415M432.7 243.3V415" fill="none" stroke="#2a2182" stroke-width="0.6" opacity="0.7"/>
<text x="487" y="249.73" font-size="6.3" fill="#1a1a1a" stroke="#1a1a1a">1.3</text>
<text x="500.2" y="249.73" font-size="6.3" fill="#1a1a1a" stroke="#1a1a1a">3E-02</text>
<text x="487" y="258.39" font-size="6.3" fill="#1a1a1a" stroke="#1a1a1a">1.2</text>
<text x="500.2" y="258.39" font-size="6.3" fill="#1a1a1a" stroke="#1a1a1a">6E-02</text>
<text x="487" y="267.05" font-size="6.3" fill="#1a1a1a" stroke="#1a1a1a">1.0</text>
<text x="500.2" y="267.05" font-size="6.3" fill="#1a1a1a" stroke="#1a1a1a">1E-01</text>
<text x="487" y="275.71" font-size="6.3" fill="#1a1a1a" stroke="#1a1a1a">2.2</text>
<text x="500.2" y="275.71" font-size="6.3" fill="#1a1a1a" stroke="#1a1a1a">1E-04</text>
<text x="487" y="284.37" font-size="6.3" fill="#1a1a1a" stroke="#1a1a1a">7.9</text>
<text x="500.2" y="284.37" font-size="6.3" fill="#1a1a1a" stroke="#1a1a1a">6E-02</text>
<text x="487" y="293.03" font-size="6.3" fill="#1a1a1a" stroke="#1a1a1a">0.7</text>
<text x="500.2" y="293.03" font-size="6.3" fill="#1a1a1a" stroke="#1a1a1a">3E-02</text>
<text x="487" y="301.69" font-size="6.3" fill="#1a1a1a" stroke="#1a1a1a">0.6</text>
<text x="500.2" y="301.69" font-size="6.3" fill="#1a1a1a" stroke="#1a1a1a">8E-03</text>
<text x="487" y="310.35" font-size="6.3" fill="#1a1a1a" stroke="#1a1a1a">0.7</text>
<text x="500.2" y="310.35" font-size="6.3" fill="#1a1a1a" stroke="#1a1a1a">9E-04</text>
<text x="487" y="319.01" font-size="6.3" fill="#1a1a1a" stroke="#1a1a1a">0.1</text>
<text x="500.2" y="319.01" font-size="6.3" fill="#1a1a1a" stroke="#1a1a1a">4E-04</text>
<text x="487" y="327.67" font-size="6.3" fill="#1a1a1a" stroke="#1a1a1a">1.8</text>
<text x="500.2" y="327.67" font-size="6.3" fill="#1a1a1a" stroke="#1a1a1a">2E-01</text>
<text x="487" y="336.33" font-size="6.3" fill="#1a1a1a" stroke="#1a1a1a">1.2</text>
<text x="500.2" y="336.33" font-size="6.3" fill="#1a1a1a" stroke="#1a1a1a">5E-02</text>
<text x="487" y="344.99" font-size="6.3" fill="#1a1a1a" stroke="#1a1a1a">0.6</text>
<text x="500.2" y="344.99" font-size="6.3" fill="#1a1a1a" stroke="#1a1a1a">4E-05</text>
<text x="487" y="353.65" font-size="6.3" fill="#1a1a1a" stroke="#1a1a1a">1.0</text>
<text x="500.2" y="353.65" font-size="6.3" fill="#1a1a1a" stroke="#1a1a1a">4E-01</text>
<text x="487" y="362.31" font-size="6.3" fill="#1a1a1a" stroke="#1a1a1a">3.8</text>
<text x="500.2" y="362.31" font-size="6.3" fill="#1a1a1a" stroke="#1a1a1a">2E-04</text>
<text x="487" y="370.97" font-size="6.3" fill="#1a1a1a" stroke="#1a1a1a">0.1</text>
<text x="500.2" y="370.97" font-size="6.3" fill="#1a1a1a" stroke="#1a1a1a">2E-08</text>
<text x="487" y="379.63" font-size="6.3" fill="#1a1a1a" stroke="#1a1a1a">1.1</text>
<text x="500.2" y="379.63" font-size="6.3" fill="#1a1a1a" stroke="#1a1a1a">7E-01</text>
<text x="487" y="388.29" font-size="6.3" fill="#1a1a1a" stroke="#1a1a1a">0.5</text>
<text x="500.2" y="388.29" font-size="6.3" fill="#1a1a1a" stroke="#1a1a1a">8E-07</text>
<text x="487" y="396.95" font-size="6.3" fill="#1a1a1a" stroke="#1a1a1a">1.0</text>
<text x="500.2" y="396.95" font-size="6.3" fill="#1a1a1a" stroke="#1a1a1a">8E-02</text>
<text x="487" y="405.61" font-size="6.3" fill="#1a1a1a" stroke="#1a1a1a">12.5</text>
<text x="500.2" y="405.61" font-size="6.3" fill="#1a1a1a" stroke="#1a1a1a">5E-08</text>
<text x="487" y="414.27" font-size="6.3" fill="#1a1a1a" stroke="#1a1a1a">0.8</text>
<text x="500.2" y="414.27" font-size="6.3" fill="#1a1a1a" stroke="#1a1a1a">5E-03</text>
</g>
<g id="panelE">
<text x="15.6" y="451.2" font-size="10.7" font-weight="bold" fill="#000">E</text>
<text x="76.9" y="452.4" font-size="7.5" fill="#1a1a1a" stroke="#1a1a1a">chr8:28,192,829-28,284,799</text>
<text x="183" y="452.4" font-size="7.5" font-style="italic" fill="#1a1a1a" stroke="#1a1a1a">ZNF395</text>
<line x1="92.5" y1="460.8" x2="109.3" y2="460.8" stroke="#1c1f66" stroke-width="1.2"/>
<path d="M97 460.8 L99.4 458.2 L101.8 460.8 L99.4 463.4Z" fill="#1c1f66" stroke="none" stroke-width="0"/>
<line x1="93" y1="459.2" x2="93" y2="462.4" stroke="#1c1f66" stroke-width="0.8"/>
<line x1="109.5" y1="459.2" x2="109.5" y2="462.4" stroke="#1c1f66" stroke-width="0.8"/>
<line x1="113" y1="460.8" x2="158" y2="460.8" stroke="#1c1f66" stroke-width="1.2"/>
<rect x="113" y="458.7" width="9.5" height="4.2" fill="#1c1f66"/>
<rect x="125.4" y="458.2" width="1.5" height="5.2" fill="#1c1f66"/>
<rect x="128.4" y="458.2" width="1.3" height="5.2" fill="#1c1f66"/>
<rect x="131" y="458.2" width="1.3" height="5.2" fill="#1c1f66"/>
<rect x="138" y="458.2" width="1.1" height="5.2" fill="#1c1f66"/>
<rect x="144.2" y="458.2" width="1.1" height="5.2" fill="#1c1f66"/>
<rect x="147.3" y="458.2" width="1.1" height="5.2" fill="#1c1f66"/>
<rect x="150.5" y="458.2" width="0.9" height="5.2" fill="#1c1f66"/>
<line x1="157" y1="460.8" x2="178.5" y2="460.8" stroke="#2f9e4f" stroke-width="1.2"/>
<rect x="157" y="459" width="1" height="3.6" fill="#2f9e4f"/>
<rect x="164" y="459" width="1" height="3.6" fill="#2f9e4f"/>
<rect x="177.5" y="459" width="1" height="3.6" fill="#2f9e4f"/>
<line x1="178.5" y1="460.8" x2="204.6" y2="460.8" stroke="#1c1f66" stroke-width="1.2"/>
<rect x="203.2" y="458.8" width="1.8" height="4" fill="#1c1f66"/>
<path d="M203.8 454.6 L201.6 456 L203.8 457.4" fill="none" stroke="#1c1f66" stroke-width="0.7"/>
<line x1="269.8" y1="460.8" x2="281" y2="460.8" stroke="#2f9e4f" stroke-width="1.2"/>
<rect x="269.6" y="459.1" width="1.6" height="3.4" fill="#2f9e4f"/>
<rect x="279.6" y="459.1" width="1.4" height="3.4" fill="#2f9e4f"/>
<rect x="101.9" y="468.3" width="179.3" height="86.5" fill="#a8d0e0"/>
<line x1="89.3" y1="468.3" x2="293.2" y2="468.3" stroke="#444" stroke-width="0.6"/>
<line x1="89.3" y1="468.3" x2="89.3" y2="554.8" stroke="#444" stroke-width="0.7"/>
<line x1="293.2" y1="468.3" x2="293.2" y2="554.8" stroke="#444" stroke-width="0.5"/>
<path d="M93 487.4L93 487.26L93.5 485.67L94 487.18L94.5 485.49L95 486.56L95.5 486.14L96 487.19L96.5 487.16L97 485.41L97.5 487.26L98 486.43L98.5 486.53L99 487.16L99.5 485.59L100 487.32L100.5 486.96L101 486.03L101.5 485.38L102 486.98L102.5 487.33L103 486.96L103.5 487.15L104 487.38L104.5 486.96L105 485.4L105.5 487.36L106 487.33L106.5 485.92L107 486.8L107.5 485.76L108 486.34L108.5 484.94L109 484.65L109.5 484.54L110 483.55L110.5 484.95L111 485.32L111.5 484.95L112 485.69L112.5 486.09L113 486.96L113.5 486.97L114 485.73L114.5 485.79L115 486.5L115.5 486.37L116 486.68L116.5 485.79L117 486.19L117.5 487.06L118 486.99L118.5 486.97L119 486.04L119.5 486.15L120 484.67L120.5 486.69L121 485.9L121.5 484.22L122 483.29L122.5 484.26L123 484.09L123.5 484.09L124 483.77L124.5 484.27L125 483.7L125.5 484.35L126 483.69L126.5 479.9L127 477.27L127.5 481.58L128 484.12L128.5 484.15L129 483.45L129.5 481.61L130 483.85L130.5 485.33L131 486.9L131.5 487.38L132 487.39L132.5 486.28L133 487.04L133.5 485.22L134 485.89L134.5 485.11L135 485.84L135.5 487.06L136 486.78L136.5 486.92L137 486.66L137.5 486.56L138 486.69L138.5 487.2L139 486.75L139.5 487.39L140 487.38L140.5 485.02L141 485.58L141.5 485.34L142 487.32L142.5 486.29L143 486.81L143.5 486.13L144 486.56L144.5 486.02L145 487.37L145.5 487.3L146 485.21L146.5 485L147 487.33L147.5 486.67L148 487.06L148.5 486.67L149 486.89L149.5 485.07L150 487.27L150.5 486.6L151 487.38L151.5 486.83L152 487.17L152.5 486.02L153 485.27L153.5 487.2L154 487.2L154.5 485.91L155 486.67L155.5 485.72L156 486.86L156.5 484.34L157 485.62L157.5 485.67L158 485.7L158.5 484.54L159 483.95L159.5 483.82L160 484.58L160.5 483.45L161 484.21L161.5 483.36L162 483.99L162.5 485.46L163 485.48L163.5 485.25L164 485.86L164.5 485L165 484.56L165.5 483.82L166 480.51L166.5 482.77L167 485.26L167.5 483.66L168 485.57L168.5 485.43L169 485.31L169.5 487.29L170 485.01L170.5 486.45L171 485.96L171.5 485.76L172 486.54L172.5 487.27L173 486.97L173.5 486.78L174 487.33L174.5 486.95L175 485.13L175.5 487.38L176 487.37L176.5 486.42L177 486.66L177.5 486.72L178 486.18L178.5 485L179 486.87L179.5 486.06L180 485.27L180.5 487.09L181 487.3L181.5 485.62L182 487.25L182.5 487.15L183 487.36L183.5 487.3L184 487.39L184.5 486.92L185 485.34L185.5 487.17L186 485.41L186.5 487.2L187 487.22L187.5 487.28L188 486.77L188.5 485.64L189 487.24L189.5 486.35L190 486.5L190.5 487.19L191 485.2L191.5 486.31L192 486.16L192.5 485.43L193 487.26L193.5 486.93L194 484.9L194.5 485.78L195 484.4L195.5 485.67L196 485.25L196.5 484.66L197 483.32L197.5 485.03L198 484.42L198.5 484.73L199 483.26L199.5 484.24L200 481.49L200.5 483.15L201 482.51L201.5 482.74L202 484.46L202.5 484.91L203 485.5L203.5 485.25L204 485.92L204.5 486.32L205 486.43L205.5 486.75L206 486.06L206.5 486.4L207 487.15L207.5 487.31L208 485.2L208.5 485.83L209 485.54L209.5 487.11L210 485.86L210.5 485.68L211 484.54L211.5 486.3L212 484.42L212.5 484.75L213 483.19L213.5 485.19L214 482.8L214.5 483.64L215 483.78L215.5 482.75L216 485.14L216.5 484.99L217 484.68L217.5 486.19L218 486.52L218.5 485.96L219 484.35L219.5 487.01L220 485.79L220.5 487.27L221 487.34L221.5 487.21L222 485.44L222.5 486.18L223 486.13L223.5 487.18L224 485.12L224.5 486.83L225 486.09L225.5 486.18L226 485.43L226.5 485.97L227 486.24L227.5 484.04L228 486.18L228.5 485.72L229 485.39L229.5 485.36L230 483.16L230.5 484.99L231 484.34L231.5 482.63L232 482.17L232.5 484.4L233 483.08L233.5 482.03L234 482.57L234.5 483.99L235 484.71L235.5 484.6L236 484.18L236.5 486.45L237 486.42L237.5 485.28L238 485.89L238.5 485.8L239 483.36L239.5 483.3L240 483.09L240.5 483.26L241 482.49L241.5 485.1L242 486.22L242.5 486.64L243 487.04L243.5 485.51L244 486.35L244.5 487.17L245 487.37L245.5 487.38L246 487.31L246.5 487.01L247 487.25L247.5 486.95L248 485.02L248.5 487.35L249 487.37L249.5 485.98L250 486.02L250.5 485.12L251 485.72L251.5 486.45L252 487.29L252.5 486.08L253 485.91L253.5 486.29L254 487.24L254.5 486.08L255 487.25L255.5 486.83L256 485.43L256.5 485.28L257 486.75L257.5 485.15L258 485.7L258.5 483.71L259 485.48L259.5 484.74L260 483.71L260.5 484.52L261 483.72L261.5 484.84L262 483.32L262.5 483.91L263 484.09L263.5 482.56L264 483.18L264.5 485.32L265 485.96L265.5 485.58L266 486.2L266.5 483.98L267 485.75L267.5 486.85L268 484.7L268.5 485.55L269 487.25L269.5 485.14L270 487.34L270.5 486.08L271 485.62L271.5 485.61L272 487.39L272.5 486.13L273 486.22L273.5 487.01L274 486.77L274.5 486.9L275 486.17L275.5 487.33L276 485.3L276.5 487.39L277 485.65L277.5 487.37L278 486.8L278.5 487.22L279 485.06L279.5 487.39L280 486.28L280.5 486.78L281 485.55L281.5 485.7L282 486.23L282.5 486.57L283 486L283.5 486.21L284 487.4L284.5 486.56L285 487.24L285.5 487.39L286 486.27L286.5 487.32L287 487.32L287.5 485.58L288 485.17L288.5 486.48L289 486.97L289.5 487.21L290 486.78L290 487.4Z" fill="#1d1d2b" stroke="none" stroke-width="0"/>
<path d="M93 509.8L93 509.69L93.5 508.69L94 508.49L94.5 508.33L95 508.14L95.5 509.31L96 509.8L96.5 509.48L97 508.25L97.5 509.74L98 509.8L98.5 509.64L99 509.8L99.5 509.72L100 509.68L100.5 509.69L101 509.8L101.5 508.16L102 509.34L102.5 508.59L103 508.06L103.5 508.02L104 509.71L104.5 508.34L105 509.38L105.5 509.76L106 509.24L106.5 509.78L107 508.32L107.5 509.74L108 509.62L108.5 509.56L109 509.39L109.5 508.67L110 508.25L110.5 509.74L111 508.58L111.5 508.7L112 509.63L112.5 509.6L113 509.48L113.5 509.06L114 509.78L114.5 509.63L115 509.28L115.5 509.64L116 509.2L116.5 509.79L117 509.52L117.5 508.43L118 507.91L118.5 509.77L119 509L119.5 508.37L120 507.75L120.5 509.17L121 508.71L121.5 508.19L122 507.19L122.5 506.81L123 506.49L123.5 507.12L124 508.35L124.5 507.71L125 507.94L125.5 507.33L126 506.23L126.5 504.96L127 505.35L127.5 506.63L128 506.37L128.5 507.8L129 508.92L129.5 508.32L130 507.92L130.5 509.41L131 509.03L131.5 509.59L132 508.32L132.5 508.35L133 509.37L133.5 509.64L134 509.79L134.5 508.2L135 509.78L135.5 509.44L136 509.77L136.5 509.62L137 509.36L137.5 508.8L138 509.72L138.5 509.59L139 509.8L139.5 509.43L140 507.92L140.5 509.8L141 509.51L141.5 508.77L142 509.78L142.5 508.33L143 509.05L143.5 509.47L144 508.75L144.5 507.99L145 508.72L145.5 509L146 508.67L146.5 509.43L147 509.8L147.5 509.17L148 508.39L148.5 509.51L149 508.86L149.5 508.38L150 509.8L150.5 508.65L151 509.73L151.5 509.27L152 508.22L152.5 508.84L153 509.7L153.5 508.49L154 509.61L154.5 507.93L155 509.58L155.5 508.65L156 507.64L156.5 508.83L157 508.34L157.5 508.31L158 507.32L158.5 507.28L159 505.58L159.5 504.84L160 506.69L160.5 507.19L161 506.83L161.5 506.24L162 507.13L162.5 507.84L163 507.69L163.5 507.11L164 508.13L164.5 508.44L165 506.88L165.5 506.63L166 507.25L166.5 506.79L167 507.15L167.5 507.9L168 507.89L168.5 509.09L169 508.91L169.5 508.15L170 509.34L170.5 509.56L171 508.78L171.5 508.97L172 509.2L172.5 508.63L173 509.64L173.5 509.36L174 509.73L174.5 509.8L175 509.5L175.5 509.45L176 508.02L176.5 508.46L177 509.69L177.5 508.74L178 507.99L178.5 509.44L179 508.49L179.5 509.72L180 509.1L180.5 509.79L181 508.89L181.5 507.91L182 509.11L182.5 509.17L183 508.62L183.5 508.88L184 509.54L184.5 509.45L185 509.32L185.5 509.51L186 508.02L186.5 509.45L187 507.92L187.5 509.64L188 508.05L188.5 508.41L189 509.2L189.5 509.57L190 509.33L190.5 508.56L191 509.55L191.5 508.12L192 508.66L192.5 508.4L193 509.58L193.5 508.25L194 509.54L194.5 509.37L195 507.94L195.5 508.43L196 507.62L196.5 508.21L197 507.12L197.5 508.11L198 508.16L198.5 508.21L199 507.26L199.5 507.87L200 507.3L200.5 507.18L201 506.68L201.5 508.43L202 506.94L202.5 507.91L203 508.79L203.5 507.58L204 509.1L204.5 507.63L205 509.44L205.5 509.33L206 509.31L206.5 509.68L207 509.67L207.5 509.74L208 508.43L208.5 509.31L209 509.69L209.5 508.32L210 509.46L210.5 509.6L211 509.16L211.5 508.53L212 509.34L212.5 509.02L213 509.54L213.5 509.3L214 509.38L214.5 509.8L215 508.69L215.5 509.74L216 508.55L216.5 508.99L217 509.71L217.5 509.2L218 509.69L218.5 509.43L219 509.55L219.5 509.2L220 509.79L220.5 508.83L221 508.48L221.5 509.31L222 508.89L222.5 509.04L223 508.93L223.5 508.5L224 508.09L224.5 509.51L225 509.62L225.5 508.67L226 508.87L226.5 509.69L227 509.69L227.5 509.69L228 508.84L228.5 508.79L229 509.21L229.5 509.32L230 509.48L230.5 508.06L231 508.92L231.5 508.27L232 508.32L232.5 508.74L233 507.11L233.5 508.31L234 507.08L234.5 507.2L235 507.73L235.5 507.21L236 507.23L236.5 508.02L237 507.12L237.5 507.79L238 508.15L238.5 507.25L239 508.67L239.5 509L240 508.99L240.5 508.79L241 508.84L241.5 509.12L242 509.44L242.5 509.57L243 508.96L243.5 509.09L244 509.1L244.5 509.48L245 509.76L245.5 508.89L246 509.48L246.5 508.21L247 509.79L247.5 508.48L248 509.8L248.5 509.13L249 509.69L249.5 509.8L250 509.79L250.5 509.49L251 509.03L251.5 507.93L252 509.21L252.5 508.04L253 509.58L253.5 509.58L254 508.99L254.5 509.64L255 509.1L255.5 509.64L256 509.21L256.5 507.88L257 508.88L257.5 507.51L258 506.87L258.5 507.89L259 506.73L259.5 507.83L260 507.43L260.5 507.07L261 506.81L261.5 507.1L262 504.99L262.5 505.69L263 506.62L263.5 506.65L264 506.99L264.5 506.15L265 508.44L265.5 508.51L266 507.76L266.5 507.97L267 508.18L267.5 508.02L268 508.29L268.5 509.22L269 509.64L269.5 509.56L270 509.03L270.5 509.52L271 509.68L271.5 509.12L272 508.28L272.5 509.8L273 509.79L273.5 508.59L274 509.7L274.5 509.46L275 509.74L275.5 509.79L276 509.35L276.5 508.71L277 509.73L277.5 508.65L278 509.74L278.5 509.69L279 509.29L279.5 509.78L280 509.47L280.5 509.58L281 509.52L281.5 508.44L282 509.65L282.5 509.12L283 508.19L283.5 508.4L284 508.11L284.5 509.71L285 508.66L285.5 508.7L286 509.53L286.5 508.04L287 509.68L287.5 508.63L288 509.37L288.5 508.62L289 509.34L289.5 509.54L290 508.6L290 509.8Z" fill="#1d1d2b" stroke="none" stroke-width="0"/>
<path d="M93 531.5L93 530.76L93.5 531.35L94 531.42L94.5 531.31L95 529.86L95.5 530.94L96 531.49L96.5 529.69L97 531.25L97.5 531.38L98 531.45L98.5 531.13L99 531.39L99.5 530.24L100 531.23L100.5 531.47L101 530.7L101.5 529.98L102 530.54L102.5 531.44L103 530.69L103.5 531.35L104 531.28L104.5 529.45L105 530.48L105.5 530.83L106 530.5L106.5 529.43L107 530.2L107.5 529.91L108 529.88L108.5 528.75L109 529.26L109.5 528.41L110 529.2L110.5 529.18L111 528.95L111.5 529.56L112 528.97L112.5 528.8L113 529.86L113.5 528.6L114 528.96L114.5 529.5L115 528.8L115.5 528.96L116 528.92L116.5 528.79L117 527.6L117.5 526.91L118 527.17L118.5 527.76L119 527.98L119.5 527.84L120 528.16L120.5 526.57L121 525.96L121.5 524L122 525L122.5 524.55L123 527.71L123.5 527.85L124 527.74L124.5 527.53L125 526.28L125.5 524.49L126 521.73L126.5 520.3L127 521.88L127.5 523.34L128 527.02L128.5 527.68L129 530.64L129.5 531.21L130 531.32L130.5 530.98L131 531.27L131.5 530.14L132 531.48L132.5 531.44L133 531.44L133.5 530.35L134 531.43L134.5 531.5L135 529.76L135.5 531.4L136 531.09L136.5 531.12L137 531.4L137.5 531.29L138 530.51L138.5 530.78L139 531.04L139.5 531.07L140 531.46L140.5 531.5L141 531.39L141.5 531.4L142 530.17L142.5 529.67L143 531.36L143.5 531.48L144 531.33L144.5 530.6L145 530.79L145.5 530.86L146 530.87L146.5 530.31L147 530.62L147.5 530.03L148 531.03L148.5 531.46L149 530.21L149.5 531.09L150 529.9L150.5 531.34L151 530.94L151.5 530.79L152 530.15L152.5 531L153 530.97L153.5 529.23L154 529.79L154.5 527.22L155 526.9L155.5 524.21L156 519.53L156.5 519.27L157 521.6L157.5 518.29L158 521.88L158.5 521.81L159 522.91L159.5 525.09L160 524.67L160.5 522.77L161 523.34L161.5 522.84L162 521.5L162.5 519L163 522.7L163.5 523.53L164 522.5L164.5 523.71L165 523.34L165.5 522.67L166 525.29L166.5 523.01L167 521.15L167.5 519.86L168 522.12L168.5 524.09L169 525.79L169.5 525.46L170 525.61L170.5 524.25L171 526.06L171.5 527.8L172 526.31L172.5 526.34L173 525.15L173.5 527.63L174 527.31L174.5 528.27L175 529.21L175.5 527.77L176 527.96L176.5 529.88L177 530.1L177.5 528.43L178 529.54L178.5 528.69L179 529.9L179.5 529.59L180 528.36L180.5 528.9L181 528.13L181.5 527.83L182 528.74L182.5 529.03L183 528.4L183.5 529.02L184 528.57L184.5 529.23L185 529.71L185.5 529.78L186 530.46L186.5 530.6L187 531.02L187.5 530.5L188 530.75L188.5 529.56L189 531.21L189.5 530.94L190 531.28L190.5 529.98L191 530.38L191.5 530.14L192 530.2L192.5 527.87L193 527.72L193.5 527.89L194 526.55L194.5 525.86L195 522.35L195.5 524.33L196 521.44L196.5 522.2L197 523.6L197.5 525.54L198 525.58L198.5 526.06L199 526.7L199.5 525.61L200 527.36L200.5 524.8L201 521.15L201.5 523.53L202 521.68L202.5 525.41L203 528.2L203.5 529.7L204 529.28L204.5 528.98L205 530.11L205.5 531.27L206 530.04L206.5 530.54L207 531.03L207.5 530.74L208 531.45L208.5 531.2L209 530.82L209.5 530.66L210 530.51L210.5 531.38L211 531.35L211.5 530.68L212 530.82L212.5 531.27L213 531.5L213.5 531.19L214 531.27L214.5 531.38L215 529.97L215.5 530.54L216 531.05L216.5 530.99L217 530.65L217.5 530.76L218 531.07L218.5 529.19L219 529.8L219.5 528.73L220 528.31L220.5 528.64L221 528.76L221.5 526.11L222 526.57L222.5 524.24L223 527.33L223.5 525.51L224 525.86L224.5 525.88L225 528.41L225.5 529.11L226 530.04L226.5 530.44L227 530.15L227.5 530.41L228 530.94L228.5 530.77L229 531.09L229.5 530.07L230 529.98L230.5 528.96L231 530.16L231.5 527.06L232 528.38L232.5 523.57L233 522.76L233.5 517.11L234 517.7L234.5 522.03L235 523.46L235.5 519.54L236 524.71L236.5 522.35L237 525.92L237.5 524.44L238 521.1L238.5 524.16L239 525.88L239.5 526.2L240 528.86L240.5 529L241 530.08L241.5 529.88L242 529.7L242.5 528.8L243 528.35L243.5 528.89L244 529.43L244.5 528.79L245 528.41L245.5 529.27L246 529.15L246.5 528.63L247 529.27L247.5 528.45L248 530.15L248.5 528.98L249 530.85L249.5 530.6L250 530.77L250.5 531.02L251 529.98L251.5 530.39L252 531.39L252.5 531.39L253 530.91L253.5 531.43L254 530.92L254.5 530.89L255 530.6L255.5 530.67L256 530.79L256.5 530L257 530.56L257.5 528.64L258 529.46L258.5 528.19L259 529.66L259.5 529.14L260 527.43L260.5 526.11L261 526.74L261.5 526.82L262 526.25L262.5 526.07L263 527.61L263.5 527.76L264 528.2L264.5 527.66L265 527.9L265.5 527.08L266 526.34L266.5 524.3L267 523.71L267.5 523.95L268 525.39L268.5 526.31L269 528.77L269.5 529.24L270 530.65L270.5 531.03L271 531.14L271.5 531.42L272 531.42L272.5 529.61L273 530.25L273.5 530.18L274 530.86L274.5 530.08L275 531.19L275.5 531.5L276 530.62L276.5 530.12L277 531.41L277.5 531.1L278 530.47L278.5 531.29L279 531.5L279.5 530.38L280 530.47L280.5 530.29L281 531.48L281.5 530.36L282 531.49L282.5 529.76L283 531.46L283.5 529.86L284 531.4L284.5 529.85L285 531.29L285.5 531.4L286 531.07L286.5 530.52L287 530.57L287.5 531.18L288 530.17L288.5 531.26L289 531.48L289.5 530.5L290 531.5L290 531.5Z" fill="#8e1218" stroke="none" stroke-width="0"/>
<path d="M93 554.6L93 553.67L93.5 553.91L94 553.65L94.5 554.6L95 553.67L95.5 554.05L96 554.3L96.5 554.02L97 554.57L97.5 553.62L98 554.6L98.5 554.31L99 554.59L99.5 554.43L100 554.31L100.5 552.75L101 551.29L101.5 551.23L102 551.68L102.5 552.52L103 553.98L103.5 554.38L104 553.82L104.5 554.05L105 554.22L105.5 554.6L106 554.44L106.5 554.36L107 553.44L107.5 554.59L108 553.65L108.5 554.49L109 554.12L109.5 554.24L110 554.36L110.5 554.38L111 554.6L111.5 554.58L112 554.34L112.5 553.87L113 554.59L113.5 554.19L114 553.85L114.5 553.7L115 553.31L115.5 553.92L116 552.65L116.5 551.92L117 549.4L117.5 546.75L118 545.74L118.5 544.46L119 546.86L119.5 546L120 547.42L120.5 548.55L121 548.37L121.5 550.33L122 548.75L122.5 547.95L123 545.9L123.5 546.6L124 544.6L124.5 549.22L125 550.34L125.5 550.74L126 546.5L126.5 540.34L127 534.67L127.5 536.27L128 542.12L128.5 543.68L129 547L129.5 549.84L130 546.96L130.5 548.58L131 549.53L131.5 548.91L132 552.29L132.5 552.88L133 553.16L133.5 554.21L134 553.23L134.5 554.47L135 553.4L135.5 554.6L136 554.6L136.5 554.53L137 554.57L137.5 554.6L138 554.31L138.5 554.57L139 554.11L139.5 554.58L140 554.05L140.5 554.58L141 554.28L141.5 553.71L142 554.38L142.5 554.18L143 554.55L143.5 554.37L144 553.38L144.5 553.38L145 554.05L145.5 553.58L146 554.59L146.5 554.6L147 554.33L147.5 554.11L148 554.22L148.5 554.42L149 554.53L149.5 554.42L150 554.37L150.5 553.33L151 553.06L151.5 553.46L152 552.37L152.5 551.32L153 548.77L153.5 546.45L154 545.28L154.5 540.46L155 539.79L155.5 539.12L156 543.1L156.5 542.68L157 545.44L157.5 545.18L158 541.58L158.5 536.02L159 537.66L159.5 536.92L160 538.8L160.5 541.86L161 544.59L161.5 544.56L162 541.57L162.5 540.89L163 540.5L163.5 541.24L164 538.54L164.5 544.02L165 541.83L165.5 544.67L166 546.11L166.5 542.88L167 546.9L167.5 541.02L168 545.58L168.5 544.74L169 541.68L169.5 543.91L170 545.49L170.5 545.52L171 546.18L171.5 549.4L172 547.27L172.5 548.83L173 548.25L173.5 550.61L174 551.7L174.5 552.38L175 552.33L175.5 552.52L176 554.13L176.5 554.41L177 553.86L177.5 554L178 553.48L178.5 553.95L179 554L179.5 554.6L180 553.44L180.5 553.62L181 554.19L181.5 553.71L182 554.26L182.5 554.57L183 554.47L183.5 554.22L184 554L184.5 554.55L185 553.83L185.5 553.72L186 554.28L186.5 554.47L187 554.59L187.5 554.29L188 554.55L188.5 553.3L189 553.77L189.5 553.84L190 553.94L190.5 553.84L191 554.33L191.5 554.12L192 554.18L192.5 554.54L193 553.86L193.5 554.22L194 554.32L194.5 553.35L195 553.43L195.5 552.36L196 552.81L196.5 550.22L197 549.55L197.5 550.61L198 550.53L198.5 549.15L199 550.89L199.5 551.2L200 552.57L200.5 552.48L201 553.22L201.5 552L202 548.56L202.5 542.03L203 540.6L203.5 543.87L204 550.2L204.5 552.84L205 553.97L205.5 554.53L206 553.85L206.5 554.6L207 554.03L207.5 554.21L208 554.37L208.5 554.59L209 554.45L209.5 553.85L210 553.64L210.5 553.78L211 553.6L211.5 553.25L212 554.15L212.5 554.59L213 554.59L213.5 554.54L214 553.64L214.5 554.18L215 554.23L215.5 553.92L216 552.44L216.5 553.31L217 553.1L217.5 551.9L218 551.99L218.5 552.11L219 552.7L219.5 552.96L220 553.38L220.5 552.86L221 554.17L221.5 553.49L222 554.04L222.5 553.98L223 554.04L223.5 554.56L224 554.29L224.5 554.48L225 553.92L225.5 554.4L226 553.6L226.5 554.05L227 554.2L227.5 553.43L228 553.89L228.5 552.8L229 552.08L229.5 551.52L230 549.5L230.5 548.42L231 547.69L231.5 546.63L232 547.5L232.5 546.04L233 546.29L233.5 548.01L234 546.79L234.5 544.33L235 545.2L235.5 544.91L236 543.4L236.5 547.1L237 547.02L237.5 547.33L238 547.45L238.5 549.27L239 549.11L239.5 547.5L240 550.89L240.5 550.18L241 552.3L241.5 551.05L242 552.79L242.5 553.04L243 552.56L243.5 553.74L244 552.59L244.5 553.49L245 551.89L245.5 553.26L246 553.07L246.5 552.39L247 553.44L247.5 553.32L248 552.94L248.5 553.64L249 552.91L249.5 553.06L250 553.4L250.5 553.83L251 554.42L251.5 554.38L252 554.47L252.5 553.29L253 553.18L253.5 554.55L254 554.17L254.5 554.23L255 554.22L255.5 553.83L256 552.69L256.5 552.38L257 551.49L257.5 550.48L258 548.71L258.5 550.39L259 548.24L259.5 548.15L260 550.81L260.5 550.55L261 550.62L261.5 550.37L262 549.34L262.5 546.18L263 545.77L263.5 546L264 547.11L264.5 549.12L265 549.08L265.5 549.69L266 548.21L266.5 545.16L267 533.6L267.5 537.32L268 541.94L268.5 549.86L269 551.57L269.5 553.92L270 553.72L270.5 554.53L271 553.82L271.5 554.6L272 554.06L272.5 554.6L273 554.15L273.5 553.75L274 554.14L274.5 554.25L275 554.6L275.5 554.58L276 553.91L276.5 554.59L277 554.59L277.5 553.62L278 554.45L278.5 554.39L279 554.47L279.5 554.32L280 554.44L280.5 553.72L281 553.69L281.5 554.22L282 554.47L282.5 554.6L283 554.31L283.5 554.22L284 554.14L284.5 554.11L285 554.58L285.5 554.59L286 553.51L286.5 554.58L287 554.5L287.5 553.68L288 554.27L288.5 553.43L289 553.65L289.5 553.78L290 554.6L290 554.6Z" fill="#8e1218" stroke="none" stroke-width="0"/>
<line x1="89.3" y1="487.6" x2="293.2" y2="487.6" stroke="#1d1d2b" stroke-width="0.6" stroke-dasharray="2.2 1"/>
<line x1="89.3" y1="510" x2="293.2" y2="510" stroke="#1d1d2b" stroke-width="0.6" stroke-dasharray="2.2 1"/>
<line x1="89.3" y1="531.7" x2="293.2" y2="531.7" stroke="#8e1218" stroke-width="0.6" stroke-dasharray="2.2 1"/>
<line x1="89.3" y1="554.8" x2="293.2" y2="554.8" stroke="#8e1218" stroke-width="0.6" stroke-dasharray="2.2 1"/>
<text x="85.2" y="473.8" font-size="7" text-anchor="end" fill="#1a1a1a" stroke="#1a1a1a">100</text>
<text x="85.2" y="487.4" font-size="7" text-anchor="end" fill="#1a1a1a" stroke="#1a1a1a">0</text>
<text x="85.2" y="495.4" font-size="7" text-anchor="end" fill="#1a1a1a" stroke="#1a1a1a">100</text>
<text x="85.2" y="518.2" font-size="7" text-anchor="end" fill="#8e1218" stroke="#8e1218">100</text>
<text x="85.2" y="532.6" font-size="7" text-anchor="end" fill="#8e1218" stroke="#8e1218">0</text>
<text x="85.2" y="539.8" font-size="7" text-anchor="end" fill="#8e1218" stroke="#8e1218">100</text>
<text x="85.2" y="555.1" font-size="7" text-anchor="end" fill="#8e1218" stroke="#8e1218">0</text>
<line x1="87.3" y1="471.2" x2="89.3" y2="471.2" stroke="#444" stroke-width="0.6"/>
<line x1="87.3" y1="487.6" x2="89.3" y2="487.6" stroke="#444" stroke-width="0.6"/>
<line x1="87.3" y1="492.8" x2="89.3" y2="492.8" stroke="#444" stroke-width="0.6"/>
<line x1="87.3" y1="515.6" x2="89.3" y2="515.6" stroke="#444" stroke-width="0.6"/>
<line x1="87.3" y1="531.7" x2="89.3" y2="531.7" stroke="#444" stroke-width="0.6"/>
<line x1="87.3" y1="537.2" x2="89.3" y2="537.2" stroke="#444" stroke-width="0.6"/>
<line x1="87.3" y1="554.8" x2="89.3" y2="554.8" stroke="#444" stroke-width="0.6"/>
<text x="71.5" y="479.5" font-size="7.25" text-anchor="end" fill="#1a1a1a" stroke="#1a1a1a">PCS-400</text>
<text x="71.5" y="502.5" font-size="7.25" text-anchor="end" fill="#1a1a1a" stroke="#1a1a1a">HK2</text>
<text x="71.5" y="524.7" font-size="7.25" text-anchor="end" fill="#1a1a1a" stroke="#1a1a1a">786-O</text>
<text x="71.5" y="546.3" font-size="7.25" text-anchor="end" fill="#1a1a1a" stroke="#1a1a1a">A498</text>
<text font-size="7.35" text-anchor="middle" transform="translate(37.2 513.6) rotate(-90)" fill="#1a1a1a" stroke="#1a1a1a">H3K27ac ChIP-seq</text>
<text x="184" y="562.8" font-size="7" text-anchor="middle" fill="#1a1a1a" stroke="#1a1a1a">SE</text>
</g>
<g id="panelF">
<text x="314.7" y="451.2" font-size="10.7" font-weight="bold" fill="#000">F</text>
<rect x="374.9" y="459.4" width="131.8" height="71.7" fill="none" stroke="#333" stroke-width="0.7"/>
<line x1="372.7" y1="527.7" x2="374.9" y2="527.7" stroke="#333" stroke-width="0.6"/>
<text x="370.9" y="530.3" font-size="7.4" text-anchor="end" fill="#1a1a1a" stroke="#1a1a1a">0</text>
<line x1="372.7" y1="504.8" x2="374.9" y2="504.8" stroke="#333" stroke-width="0.6"/>
<text x="370.9" y="507.4" font-size="7.4" text-anchor="end" fill="#1a1a1a" stroke="#1a1a1a">10,000</text>
<line x1="372.7" y1="481.9" x2="374.9" y2="481.9" stroke="#333" stroke-width="0.6"/>
<text x="370.9" y="484.5" font-size="7.4" text-anchor="end" fill="#1a1a1a" stroke="#1a1a1a">20,000</text>
<line x1="372.7" y1="459" x2="374.9" y2="459" stroke="#333" stroke-width="0.6"/>
<text x="370.9" y="461.6" font-size="7.4" text-anchor="end" fill="#1a1a1a" stroke="#1a1a1a">30,000</text>
<text font-size="7.35" text-anchor="middle" transform="translate(342.2 496.5) rotate(-90)" fill="#1a1a1a" stroke="#1a1a1a"><tspan font-style="italic">ZNF395</tspan> expression (RSEM)</text>
<line x1="385.1" y1="531.1" x2="385.1" y2="533.3" stroke="#333" stroke-width="0.6"/>
<text font-size="7.2" text-anchor="end" transform="translate(387.7 536.1) rotate(-90)" fill="#1a1a1a" stroke="#1a1a1a">BLCA</text>
<line x1="385.1" y1="519.91" x2="385.1" y2="527.24" stroke="#555" stroke-width="0.5" stroke-dasharray="1 0.8"/>
<line x1="383.3" y1="519.91" x2="386.9" y2="519.91" stroke="#444" stroke-width="0.5"/>
<line x1="383.3" y1="527.24" x2="386.9" y2="527.24" stroke="#444" stroke-width="0.5"/>
<rect x="381.3" y="523.12" width="7.6" height="2.52" fill="#d6d6d6" stroke="#444" stroke-width="0.5"/>
<line x1="381.3" y1="524.49" x2="388.9" y2="524.49" stroke="#222" stroke-width="0.7"/>
<circle cx="385.1" cy="519.57" r="0.65" fill="#111"/>
<circle cx="385.1" cy="518.8" r="0.65" fill="#111"/>
<circle cx="385.1" cy="517.97" r="0.65" fill="#111"/>
<circle cx="385.1" cy="517.11" r="0.65" fill="#111"/>
<circle cx="385.1" cy="516.71" r="0.65" fill="#111"/>
<line x1="395.15" y1="531.1" x2="395.15" y2="533.3" stroke="#333" stroke-width="0.6"/>
<text font-size="7.2" text-anchor="end" transform="translate(397.75 536.1) rotate(-90)" fill="#1a1a1a" stroke="#1a1a1a">BRCA</text>
<line x1="395.15" y1="519.46" x2="395.15" y2="527.24" stroke="#555" stroke-width="0.5" stroke-dasharray="1 0.8"/>
<line x1="393.35" y1="519.46" x2="396.95" y2="519.46" stroke="#444" stroke-width="0.5"/>
<line x1="393.35" y1="527.24" x2="396.95" y2="527.24" stroke="#444" stroke-width="0.5"/>
<rect x="391.35" y="522.89" width="7.6" height="2.75" fill="#d6d6d6" stroke="#444" stroke-width="0.5"/>
<line x1="391.35" y1="524.49" x2="398.95" y2="524.49" stroke="#222" stroke-width="0.7"/>
<circle cx="395.15" cy="519.11" r="0.65" fill="#111"/>
<circle cx="395.15" cy="518.28" r="0.65" fill="#111"/>
<circle cx="395.15" cy="517.36" r="0.65" fill="#111"/>
<circle cx="395.15" cy="516.89" r="0.65" fill="#111"/>
<circle cx="395.15" cy="516.19" r="0.65" fill="#111"/>
<circle cx="395.15" cy="515.26" r="0.65" fill="#111"/>
<circle cx="395.15" cy="514.48" r="0.65" fill="#111"/>
<circle cx="395.15" cy="513.56" r="0.65" fill="#111"/>
<circle cx="395.15" cy="513.5" r="0.65" fill="#111"/>
<line x1="405.2" y1="531.1" x2="405.2" y2="533.3" stroke="#333" stroke-width="0.6"/>
<text font-size="7.2" text-anchor="end" transform="translate(407.8 536.1) rotate(-90)" fill="#1a1a1a" stroke="#1a1a1a">COAD</text>
<line x1="405.2" y1="521.29" x2="405.2" y2="527.01" stroke="#555" stroke-width="0.5" stroke-dasharray="1 0.8"/>
<line x1="403.4" y1="521.29" x2="407" y2="521.29" stroke="#444" stroke-width="0.5"/>
<line x1="403.4" y1="527.01" x2="407" y2="527.01" stroke="#444" stroke-width="0.5"/>
<rect x="401.4" y="523.81" width="7.6" height="2.06" fill="#d6d6d6" stroke="#444" stroke-width="0.5"/>
<line x1="401.4" y1="524.95" x2="409" y2="524.95" stroke="#222" stroke-width="0.7"/>
<circle cx="405.2" cy="520.94" r="0.65" fill="#111"/>
<circle cx="405.2" cy="520.25" r="0.65" fill="#111"/>
<circle cx="405.2" cy="519.67" r="0.65" fill="#111"/>
<circle cx="405.2" cy="518.94" r="0.65" fill="#111"/>
<circle cx="405.2" cy="518.77" r="0.65" fill="#111"/>
<line x1="415.25" y1="531.1" x2="415.25" y2="533.3" stroke="#333" stroke-width="0.6"/>
<text font-size="7.2" text-anchor="end" transform="translate(417.85 536.1) rotate(-90)" fill="#1a1a1a" stroke="#1a1a1a">GBM</text>
<line x1="415.25" y1="520.37" x2="415.25" y2="527.01" stroke="#555" stroke-width="0.5" stroke-dasharray="1 0.8"/>
<line x1="413.45" y1="520.37" x2="417.05" y2="520.37" stroke="#444" stroke-width="0.5"/>
<line x1="413.45" y1="527.01" x2="417.05" y2="527.01" stroke="#444" stroke-width="0.5"/>
<rect x="411.45" y="523.35" width="7.6" height="2.29" fill="#d6d6d6" stroke="#444" stroke-width="0.5"/>
<line x1="411.45" y1="524.72" x2="419.05" y2="524.72" stroke="#222" stroke-width="0.7"/>
<circle cx="415.25" cy="520.03" r="0.65" fill="#111"/>
<circle cx="415.25" cy="519.56" r="0.65" fill="#111"/>
<circle cx="415.25" cy="519" r="0.65" fill="#111"/>
<circle cx="415.25" cy="518.4" r="0.65" fill="#111"/>
<circle cx="415.25" cy="517.62" r="0.65" fill="#111"/>
<line x1="425.3" y1="531.1" x2="425.3" y2="533.3" stroke="#333" stroke-width="0.6"/>
<text font-size="7.2" text-anchor="end" transform="translate(427.9 536.1) rotate(-90)" fill="#1a1a1a" stroke="#1a1a1a">HNSC</text>
<line x1="425.3" y1="517.4" x2="425.3" y2="527.24" stroke="#555" stroke-width="0.5" stroke-dasharray="1 0.8"/>
<line x1="423.5" y1="517.4" x2="427.1" y2="517.4" stroke="#444" stroke-width="0.5"/>
<line x1="423.5" y1="527.24" x2="427.1" y2="527.24" stroke="#444" stroke-width="0.5"/>
<rect x="421.5" y="521.52" width="7.6" height="3.89" fill="#d6d6d6" stroke="#444" stroke-width="0.5"/>
<line x1="421.5" y1="523.81" x2="429.1" y2="523.81" stroke="#222" stroke-width="0.7"/>
<circle cx="425.3" cy="517.05" r="0.65" fill="#111"/>
<circle cx="425.3" cy="516.21" r="0.65" fill="#111"/>
<circle cx="425.3" cy="515.67" r="0.65" fill="#111"/>
<circle cx="425.3" cy="514.81" r="0.65" fill="#111"/>
<circle cx="425.3" cy="514.28" r="0.65" fill="#111"/>
<circle cx="425.3" cy="513.51" r="0.65" fill="#111"/>
<circle cx="425.3" cy="512.99" r="0.65" fill="#111"/>
<circle cx="425.3" cy="512.82" r="0.65" fill="#111"/>
<line x1="435.35" y1="531.1" x2="435.35" y2="533.3" stroke="#333" stroke-width="0.6"/>
<text font-size="7.2" text-anchor="end" transform="translate(437.95 536.1) rotate(-90)" fill="#1a1a1a" stroke="#1a1a1a">KIRC</text>
<line x1="435.35" y1="471.37" x2="435.35" y2="525.75" stroke="#b01818" stroke-width="0.6" stroke-dasharray="1.6 1.2"/>
<line x1="433.15" y1="471.37" x2="437.55" y2="471.37" stroke="#b01818" stroke-width="0.6"/>
<line x1="433.15" y1="525.75" x2="437.55" y2="525.75" stroke="#b01818" stroke-width="0.6"/>
<rect x="431.15" y="495.18" width="8.4" height="17.4" fill="#e8252a" stroke="#b01818" stroke-width="0.5"/>
<line x1="431.15" y1="504.11" x2="439.55" y2="504.11" stroke="#7a1010" stroke-width="0.8"/>
<circle cx="435.65" cy="469.76" r="0.7" fill="#111"/>
<circle cx="435.12" cy="468.39" r="0.7" fill="#111"/>
<circle cx="435.12" cy="467.24" r="0.7" fill="#111"/>
<line x1="445.4" y1="531.1" x2="445.4" y2="533.3" stroke="#333" stroke-width="0.6"/>
<text font-size="7.2" text-anchor="end" transform="translate(448 536.1) rotate(-90)" fill="#1a1a1a" stroke="#1a1a1a">LAML</text>
<line x1="445.4" y1="521.06" x2="445.4" y2="526.56" stroke="#555" stroke-width="0.5" stroke-dasharray="1 0.8"/>
<line x1="443.6" y1="521.06" x2="447.2" y2="521.06" stroke="#444" stroke-width="0.5"/>
<line x1="443.6" y1="526.56" x2="447.2" y2="526.56" stroke="#444" stroke-width="0.5"/>
<rect x="441.6" y="523.12" width="7.6" height="1.83" fill="#d6d6d6" stroke="#444" stroke-width="0.5"/>
<line x1="441.6" y1="524.04" x2="449.2" y2="524.04" stroke="#222" stroke-width="0.7"/>
<circle cx="445.4" cy="520.72" r="0.65" fill="#111"/>
<circle cx="445.4" cy="519.76" r="0.65" fill="#111"/>
<circle cx="445.4" cy="518.87" r="0.65" fill="#111"/>
<circle cx="445.4" cy="518.26" r="0.65" fill="#111"/>
<circle cx="445.4" cy="518.08" r="0.65" fill="#111"/>
<line x1="455.45" y1="531.1" x2="455.45" y2="533.3" stroke="#333" stroke-width="0.6"/>
<text font-size="7.2" text-anchor="end" transform="translate(458.05 536.1) rotate(-90)" fill="#1a1a1a" stroke="#1a1a1a">LUAD</text>
<line x1="455.45" y1="521.52" x2="455.45" y2="527.01" stroke="#555" stroke-width="0.5" stroke-dasharray="1 0.8"/>
<line x1="453.65" y1="521.52" x2="457.25" y2="521.52" stroke="#444" stroke-width="0.5"/>
<line x1="453.65" y1="527.01" x2="457.25" y2="527.01" stroke="#444" stroke-width="0.5"/>
<rect x="451.65" y="523.81" width="7.6" height="2.06" fill="#d6d6d6" stroke="#444" stroke-width="0.5"/>
<line x1="451.65" y1="524.95" x2="459.25" y2="524.95" stroke="#222" stroke-width="0.7"/>
<circle cx="455.45" cy="521.17" r="0.65" fill="#111"/>
<circle cx="455.45" cy="520.44" r="0.65" fill="#111"/>
<circle cx="455.45" cy="519.64" r="0.65" fill="#111"/>
<circle cx="455.45" cy="519.08" r="0.65" fill="#111"/>
<circle cx="455.45" cy="519" r="0.65" fill="#111"/>
<line x1="465.5" y1="531.1" x2="465.5" y2="533.3" stroke="#333" stroke-width="0.6"/>
<text font-size="7.2" text-anchor="end" transform="translate(468.1 536.1) rotate(-90)" fill="#1a1a1a" stroke="#1a1a1a">LUSC</text>
<line x1="465.5" y1="519.46" x2="465.5" y2="527.01" stroke="#555" stroke-width="0.5" stroke-dasharray="1 0.8"/>
<line x1="463.7" y1="519.46" x2="467.3" y2="519.46" stroke="#444" stroke-width="0.5"/>
<line x1="463.7" y1="527.01" x2="467.3" y2="527.01" stroke="#444" stroke-width="0.5"/>
<rect x="461.7" y="522.66" width="7.6" height="2.75" fill="#d6d6d6" stroke="#444" stroke-width="0.5"/>
<line x1="461.7" y1="524.27" x2="469.3" y2="524.27" stroke="#222" stroke-width="0.7"/>
<circle cx="465.5" cy="519.11" r="0.65" fill="#111"/>
<circle cx="465.5" cy="518.31" r="0.65" fill="#111"/>
<circle cx="465.5" cy="517.36" r="0.65" fill="#111"/>
<circle cx="465.5" cy="516.45" r="0.65" fill="#111"/>
<circle cx="465.5" cy="515.84" r="0.65" fill="#111"/>
<circle cx="465.5" cy="515.2" r="0.65" fill="#111"/>
<circle cx="465.5" cy="514.66" r="0.65" fill="#111"/>
<circle cx="465.5" cy="514.13" r="0.65" fill="#111"/>
<circle cx="465.5" cy="513.64" r="0.65" fill="#111"/>
<circle cx="465.5" cy="513.27" r="0.65" fill="#111"/>
<line x1="475.55" y1="531.1" x2="475.55" y2="533.3" stroke="#333" stroke-width="0.6"/>
<text font-size="7.2" text-anchor="end" transform="translate(478.15 536.1) rotate(-90)" fill="#1a1a1a" stroke="#1a1a1a">OV</text>
<line x1="475.55" y1="519.69" x2="475.55" y2="526.78" stroke="#555" stroke-width="0.5" stroke-dasharray="1 0.8"/>
<line x1="473.75" y1="519.69" x2="477.35" y2="519.69" stroke="#444" stroke-width="0.5"/>
<line x1="473.75" y1="526.78" x2="477.35" y2="526.78" stroke="#444" stroke-width="0.5"/>
<rect x="471.75" y="522.66" width="7.6" height="2.52" fill="#d6d6d6" stroke="#444" stroke-width="0.5"/>
<line x1="471.75" y1="524.04" x2="479.35" y2="524.04" stroke="#222" stroke-width="0.7"/>
<circle cx="475.55" cy="519.34" r="0.65" fill="#111"/>
<circle cx="475.55" cy="518.58" r="0.65" fill="#111"/>
<circle cx="475.55" cy="518.12" r="0.65" fill="#111"/>
<circle cx="475.55" cy="517.32" r="0.65" fill="#111"/>
<circle cx="475.55" cy="517.17" r="0.65" fill="#111"/>
<line x1="485.6" y1="531.1" x2="485.6" y2="533.3" stroke="#333" stroke-width="0.6"/>
<text font-size="7.2" text-anchor="end" transform="translate(488.2 536.1) rotate(-90)" fill="#1a1a1a" stroke="#1a1a1a">READ</text>
<line x1="485.6" y1="522.66" x2="485.6" y2="526.78" stroke="#555" stroke-width="0.5" stroke-dasharray="1 0.8"/>
<line x1="483.8" y1="522.66" x2="487.4" y2="522.66" stroke="#444" stroke-width="0.5"/>
<line x1="483.8" y1="526.78" x2="487.4" y2="526.78" stroke="#444" stroke-width="0.5"/>
<rect x="481.8" y="524.27" width="7.6" height="1.83" fill="#d6d6d6" stroke="#444" stroke-width="0.5"/>
<line x1="481.8" y1="525.18" x2="489.4" y2="525.18" stroke="#222" stroke-width="0.7"/>
<circle cx="485.6" cy="522.32" r="0.65" fill="#111"/>
<circle cx="485.6" cy="521.7" r="0.65" fill="#111"/>
<circle cx="485.6" cy="521.52" r="0.65" fill="#111"/>
<line x1="495.65" y1="531.1" x2="495.65" y2="533.3" stroke="#333" stroke-width="0.6"/>
<text font-size="7.2" text-anchor="end" transform="translate(498.25 536.1) rotate(-90)" fill="#1a1a1a" stroke="#1a1a1a">UCEC</text>
<line x1="495.65" y1="520.37" x2="495.65" y2="527.24" stroke="#555" stroke-width="0.5" stroke-dasharray="1 0.8"/>
<line x1="493.85" y1="520.37" x2="497.45" y2="520.37" stroke="#444" stroke-width="0.5"/>
<line x1="493.85" y1="527.24" x2="497.45" y2="527.24" stroke="#444" stroke-width="0.5"/>
<rect x="491.85" y="523.35" width="7.6" height="2.29" fill="#d6d6d6" stroke="#444" stroke-width="0.5"/>
<line x1="491.85" y1="524.72" x2="499.45" y2="524.72" stroke="#222" stroke-width="0.7"/>
<circle cx="495.65" cy="520.03" r="0.65" fill="#111"/>
<circle cx="495.65" cy="519.33" r="0.65" fill="#111"/>
<circle cx="495.65" cy="518.71" r="0.65" fill="#111"/>
<circle cx="495.65" cy="518.01" r="0.65" fill="#111"/>
<circle cx="495.65" cy="517.2" r="0.65" fill="#111"/>
<circle cx="495.65" cy="516.71" r="0.65" fill="#111"/>
<circle cx="495.65" cy="515.76" r="0.65" fill="#111"/>
<circle cx="495.65" cy="515.29" r="0.65" fill="#111"/>
<circle cx="495.65" cy="514.46" r="0.65" fill="#111"/>
<circle cx="495.65" cy="513.57" r="0.65" fill="#111"/>
<circle cx="495.65" cy="513.5" r="0.65" fill="#111"/>
</g>
<g id="panelG">
<text x="15.8" y="599.4" font-size="10.7" font-weight="bold" fill="#000">G</text>
<text x="53.8" y="611.2" font-size="7.3" text-anchor="middle" fill="#1a1a1a" stroke="#1a1a1a">NC</text>
<text x="101.2" y="611.3" font-size="7.3" text-anchor="middle" fill="#1a1a1a" stroke="#1a1a1a">sh<tspan font-style="italic">ZNF395</tspan>-1</text>
<text x="146.4" y="611.3" font-size="7.3" text-anchor="middle" fill="#1a1a1a" stroke="#1a1a1a">sh<tspan font-style="italic">ZNF395</tspan>-2</text>
<text x="32.7" y="637.4" font-size="7.3" text-anchor="end" fill="#1a1a1a" stroke="#1a1a1a">A498</text>
<text x="32.7" y="680.9" font-size="7.3" text-anchor="end" fill="#1a1a1a" stroke="#1a1a1a">786-O</text>
<clipPath id="gc0"><rect x="38.7" y="617.2" width="38.9" height="39"/></clipPath><g clip-path="url(#gc0)">
<rect x="38.7" y="617.2" width="38.9" height="39" fill="#b8b8b8"/>
<radialGradient id="gg0" cx="58.15" cy="636.7" r="19.15" gradientUnits="userSpaceOnUse"><stop offset="0" stop-color="#646464"/><stop offset="0.72" stop-color="#646464"/><stop offset="0.93" stop-color="#303030"/><stop offset="0.97" stop-color="#1c1c1c"/><stop offset="1" stop-color="#303030"/></radialGradient>
<circle cx="58.15" cy="636.7" r="19.65" fill="none" stroke="#efefef" stroke-width="0.8" stroke-dasharray="9 3"/>
<circle cx="58.15" cy="636.7" r="19.15" fill="url(#gg0)"/>
<circle cx="58.15" cy="636.7" r="18.65" fill="#fff" filter="url(#speck)" opacity="0.3"/>
</g>
<clipPath id="gc1"><rect x="81.9" y="617.2" width="39" height="39"/></clipPath><g clip-path="url(#gc1)">
<rect x="81.9" y="617.2" width="39" height="39" fill="#c2c2c2"/>
<radialGradient id="gg1" cx="101.4" cy="636.7" r="19.2" gradientUnits="userSpaceOnUse"><stop offset="0" stop-color="#949494"/><stop offset="0.72" stop-color="#949494"/><stop offset="0.93" stop-color="#707070"/><stop offset="0.97" stop-color="#4a4a4a"/><stop offset="1" stop-color="#707070"/></radialGradient>
<circle cx="101.4" cy="636.7" r="19.7" fill="none" stroke="#efefef" stroke-width="0.8" stroke-dasharray="9 3"/>
<circle cx="101.4" cy="636.7" r="19.2" fill="url(#gg1)"/>
<circle cx="101.4" cy="636.7" r="18.7" fill="#fff" filter="url(#speck)" opacity="0.15"/>
</g>
<clipPath id="gc2"><rect x="125.2" y="617.2" width="40.4" height="39"/></clipPath><g clip-path="url(#gc2)">
<rect x="125.2" y="617.2" width="40.4" height="39" fill="#cacaca"/>
<radialGradient id="gg2" cx="145.4" cy="636.7" r="19.2" gradientUnits="userSpaceOnUse"><stop offset="0" stop-color="#c0c0c0"/><stop offset="0.72" stop-color="#c0c0c0"/><stop offset="0.93" stop-color="#a4a4a4"/><stop offset="0.97" stop-color="#6a6a6a"/><stop offset="1" stop-color="#a4a4a4"/></radialGradient>
<circle cx="145.4" cy="636.7" r="19.7" fill="none" stroke="#efefef" stroke-width="0.8" stroke-dasharray="9 3"/>
<circle cx="145.4" cy="636.7" r="19.2" fill="url(#gg2)"/>
<circle cx="145.4" cy="636.7" r="18.7" fill="#fff" filter="url(#speck)" opacity="0.06"/>
</g>
<clipPath id="gc3"><rect x="38.7" y="659.1" width="38.9" height="38.9"/></clipPath><g clip-path="url(#gc3)">
<rect x="38.7" y="659.1" width="38.9" height="38.9" fill="#b6b6b6"/>
<radialGradient id="gg3" cx="58.15" cy="678.55" r="19.15" gradientUnits="userSpaceOnUse"><stop offset="0" stop-color="#565656"/><stop offset="0.72" stop-color="#565656"/><stop offset="0.93" stop-color="#2a2a2a"/><stop offset="0.97" stop-color="#1a1a1a"/><stop offset="1" stop-color="#2a2a2a"/></radialGradient>
<circle cx="58.15" cy="678.55" r="19.65" fill="none" stroke="#efefef" stroke-width="0.8" stroke-dasharray="9 3"/>
<circle cx="58.15" cy="678.55" r="19.15" fill="url(#gg3)"/>
<circle cx="58.15" cy="678.55" r="18.65" fill="#fff" filter="url(#speck)" opacity="0.3"/>
</g>
<clipPath id="gc4"><rect x="81.9" y="659.1" width="39" height="38.9"/></clipPath><g clip-path="url(#gc4)">
<rect x="81.9" y="659.1" width="39" height="38.9" fill="#c4c4c4"/>
<radialGradient id="gg4" cx="101.4" cy="678.55" r="19.15" gradientUnits="userSpaceOnUse"><stop offset="0" stop-color="#b4b4b4"/><stop offset="0.72" stop-color="#b4b4b4"/><stop offset="0.93" stop-color="#959595"/><stop offset="0.97" stop-color="#666"/><stop offset="1" stop-color="#959595"/></radialGradient>
<circle cx="101.4" cy="678.55" r="19.65" fill="none" stroke="#efefef" stroke-width="0.8" stroke-dasharray="9 3"/>
<circle cx="101.4" cy="678.55" r="19.15" fill="url(#gg4)"/>
<circle cx="101.4" cy="678.55" r="18.65" fill="#fff" filter="url(#speck)" opacity="0.08"/>
</g>
<clipPath id="gc5"><rect x="125.2" y="659.1" width="40.4" height="38.9"/></clipPath><g clip-path="url(#gc5)">
<rect x="125.2" y="659.1" width="40.4" height="38.9" fill="#cccccc"/>
<radialGradient id="gg5" cx="145.4" cy="678.55" r="19.15" gradientUnits="userSpaceOnUse"><stop offset="0" stop-color="#c3c3c3"/><stop offset="0.72" stop-color="#c3c3c3"/><stop offset="0.93" stop-color="#a8a8a8"/><stop offset="0.97" stop-color="#707070"/><stop offset="1" stop-color="#a8a8a8"/></radialGradient>
<circle cx="145.4" cy="678.55" r="19.65" fill="none" stroke="#efefef" stroke-width="0.8" stroke-dasharray="9 3"/>
<circle cx="145.4" cy="678.55" r="19.15" fill="url(#gg5)"/>
<circle cx="145.4" cy="678.55" r="18.65" fill="#fff" filter="url(#speck)" opacity="0.06"/>
</g>
</g>
<g id="panelH">
<text x="183.7" y="599.5" font-size="10.7" font-weight="bold" fill="#000">H</text>
<line x1="199.6" y1="605.7" x2="214.6" y2="605.7" stroke="#111" stroke-width="1.1"/>
<circle cx="207.2" cy="605.7" r="1.2" fill="#111"/>
<text x="218" y="608.3" font-size="7.4" fill="#1a1a1a" stroke="#1a1a1a">NC</text>
<line x1="236.6" y1="605.7" x2="252.7" y2="605.7" stroke="#e0202a" stroke-width="1.1"/>
<rect x="243.6" y="604.6" width="2.2" height="2.2" fill="#e0202a"/>
<text x="255" y="608.2" font-size="7.4" fill="#1a1a1a" stroke="#1a1a1a">sh<tspan font-style="italic">ZNF395</tspan>-1</text>
<line x1="302" y1="605.7" x2="318" y2="605.7" stroke="#6a2c91" stroke-width="1.1"/>
<path d="M310 604.2L308.7 606.7L311.3 606.7Z" fill="#6a2c91" stroke="none" stroke-width="0"/>
<text x="321" y="608.2" font-size="7.4" fill="#1a1a1a" stroke="#1a1a1a">sh<tspan font-style="italic">ZNF395</tspan>-2</text>
<line x1="209.6" y1="625.1" x2="209.6" y2="681.7" stroke="#1a1a1a" stroke-width="0.8"/>
<line x1="209.6" y1="681.7" x2="266.6" y2="681.7" stroke="#1a1a1a" stroke-width="0.8"/>
<line x1="207.4" y1="681.7" x2="209.6" y2="681.7" stroke="#1a1a1a" stroke-width="0.7"/>
<text x="206.2" y="684.2" font-size="7.2" text-anchor="end" fill="#1a1a1a" stroke="#1a1a1a">0</text>
<line x1="207.4" y1="670.4" x2="209.6" y2="670.4" stroke="#1a1a1a" stroke-width="0.7"/>
<text x="206.2" y="672.9" font-size="7.2" text-anchor="end" fill="#1a1a1a" stroke="#1a1a1a">1</text>
<line x1="207.4" y1="659.1" x2="209.6" y2="659.1" stroke="#1a1a1a" stroke-width="0.7"/>
<text x="206.2" y="661.6" font-size="7.2" text-anchor="end" fill="#1a1a1a" stroke="#1a1a1a">2</text>
<line x1="207.4" y1="647.8" x2="209.6" y2="647.8" stroke="#1a1a1a" stroke-width="0.7"/>
<text x="206.2" y="650.3" font-size="7.2" text-anchor="end" fill="#1a1a1a" stroke="#1a1a1a">3</text>
<line x1="207.4" y1="636.5" x2="209.6" y2="636.5" stroke="#1a1a1a" stroke-width="0.7"/>
<text x="206.2" y="639" font-size="7.2" text-anchor="end" fill="#1a1a1a" stroke="#1a1a1a">4</text>
<line x1="207.4" y1="625.2" x2="209.6" y2="625.2" stroke="#1a1a1a" stroke-width="0.7"/>
<text x="206.2" y="627.7" font-size="7.2" text-anchor="end" fill="#1a1a1a" stroke="#1a1a1a">5</text>
<line x1="212.3" y1="681.7" x2="212.3" y2="683.9" stroke="#1a1a1a" stroke-width="0.7"/>
<text x="212.3" y="691.7" font-size="7.2" text-anchor="middle" fill="#1a1a1a" stroke="#1a1a1a">0</text>
<line x1="225.75" y1="681.7" x2="225.75" y2="683.9" stroke="#1a1a1a" stroke-width="0.7"/>
<text x="225.75" y="691.7" font-size="7.2" text-anchor="middle" fill="#1a1a1a" stroke="#1a1a1a">1</text>
<line x1="239.2" y1="681.7" x2="239.2" y2="683.9" stroke="#1a1a1a" stroke-width="0.7"/>
<text x="239.2" y="691.7" font-size="7.2" text-anchor="middle" fill="#1a1a1a" stroke="#1a1a1a">2</text>
<line x1="252.65" y1="681.7" x2="252.65" y2="683.9" stroke="#1a1a1a" stroke-width="0.7"/>
<text x="252.65" y="691.7" font-size="7.2" text-anchor="middle" fill="#1a1a1a" stroke="#1a1a1a">3</text>
<line x1="266.1" y1="681.7" x2="266.1" y2="683.9" stroke="#1a1a1a" stroke-width="0.7"/>
<text x="266.1" y="691.7" font-size="7.2" text-anchor="middle" fill="#1a1a1a" stroke="#1a1a1a">4</text>
<text x="239.6" y="699.9" font-size="7.2" text-anchor="middle" fill="#1a1a1a" stroke="#1a1a1a">Days</text>
<text font-size="7.1" text-anchor="middle" transform="translate(198.2 655) rotate(-90)" fill="#1a1a1a" stroke="#1a1a1a">Relative growth rate</text>
<text x="242" y="621.4" font-size="7.2" text-anchor="middle" fill="#1a1a1a" stroke="#1a1a1a">A498</text>
<path d="M212.3 670.4 L225.75 672.1 L239.2 671.53 L252.65 672.66 L266.1 674.36" fill="none" stroke="#6a2c91" stroke-width="1.25" stroke-linejoin="round"/>
<path d="M212.3 669.1L211.1 671.3L213.5 671.3Z" fill="#6a2c91" stroke="none" stroke-width="0"/>
<line x1="225.75" y1="671.7" x2="225.75" y2="672.5" stroke="#6a2c91" stroke-width="0.6"/>
<line x1="224.75" y1="671.7" x2="226.75" y2="671.7" stroke="#6a2c91" stroke-width="0.6"/>
<line x1="224.75" y1="672.5" x2="226.75" y2="672.5" stroke="#6a2c91" stroke-width="0.6"/>
<path d="M225.75 670.8L224.55 673L226.95 673Z" fill="#6a2c91" stroke="none" stroke-width="0"/>
<line x1="239.2" y1="671.13" x2="239.2" y2="671.93" stroke="#6a2c91" stroke-width="0.6"/>
<line x1="238.2" y1="671.13" x2="240.2" y2="671.13" stroke="#6a2c91" stroke-width="0.6"/>
<line x1="238.2" y1="671.93" x2="240.2" y2="671.93" stroke="#6a2c91" stroke-width="0.6"/>
<path d="M239.2 670.23L238 672.43L240.4 672.43Z" fill="#6a2c91" stroke="none" stroke-width="0"/>
<line x1="252.65" y1="672.26" x2="252.65" y2="673.06" stroke="#6a2c91" stroke-width="0.6"/>
<line x1="251.65" y1="672.26" x2="253.65" y2="672.26" stroke="#6a2c91" stroke-width="0.6"/>
<line x1="251.65" y1="673.06" x2="253.65" y2="673.06" stroke="#6a2c91" stroke-width="0.6"/>
<path d="M252.65 671.36L251.45 673.56L253.85 673.56Z" fill="#6a2c91" stroke="none" stroke-width="0"/>
<line x1="266.1" y1="673.86" x2="266.1" y2="674.86" stroke="#6a2c91" stroke-width="0.6"/>
<line x1="265.1" y1="673.86" x2="267.1" y2="673.86" stroke="#6a2c91" stroke-width="0.6"/>
<line x1="265.1" y1="674.86" x2="267.1" y2="674.86" stroke="#6a2c91" stroke-width="0.6"/>
<path d="M266.1 673.06L264.9 675.25L267.3 675.25Z" fill="#6a2c91" stroke="none" stroke-width="0"/>
<path d="M212.3 670.4 L225.75 672.1 L239.2 671.3 L252.65 672.43 L266.1 671.53" fill="none" stroke="#e0202a" stroke-width="1.25" stroke-linejoin="round"/>
<rect x="211.35" y="669.45" width="1.9" height="1.9" fill="#e0202a"/>
<line x1="225.75" y1="671.6" x2="225.75" y2="672.6" stroke="#e0202a" stroke-width="0.6"/>
<line x1="224.75" y1="671.6" x2="226.75" y2="671.6" stroke="#e0202a" stroke-width="0.6"/>
<line x1="224.75" y1="672.6" x2="226.75" y2="672.6" stroke="#e0202a" stroke-width="0.6"/>
<rect x="224.8" y="671.14" width="1.9" height="1.9" fill="#e0202a"/>
<line x1="239.2" y1="670.8" x2="239.2" y2="671.8" stroke="#e0202a" stroke-width="0.6"/>
<line x1="238.2" y1="670.8" x2="240.2" y2="670.8" stroke="#e0202a" stroke-width="0.6"/>
<line x1="238.2" y1="671.8" x2="240.2" y2="671.8" stroke="#e0202a" stroke-width="0.6"/>
<rect x="238.25" y="670.35" width="1.9" height="1.9" fill="#e0202a"/>
<line x1="252.65" y1="671.93" x2="252.65" y2="672.93" stroke="#e0202a" stroke-width="0.6"/>
<line x1="251.65" y1="671.93" x2="253.65" y2="671.93" stroke="#e0202a" stroke-width="0.6"/>
<line x1="251.65" y1="672.93" x2="253.65" y2="672.93" stroke="#e0202a" stroke-width="0.6"/>
<rect x="251.7" y="671.48" width="1.9" height="1.9" fill="#e0202a"/>
<line x1="266.1" y1="668.33" x2="266.1" y2="674.73" stroke="#e0202a" stroke-width="0.6"/>
<line x1="265.1" y1="668.33" x2="267.1" y2="668.33" stroke="#e0202a" stroke-width="0.6"/>
<line x1="265.1" y1="674.73" x2="267.1" y2="674.73" stroke="#e0202a" stroke-width="0.6"/>
<rect x="265.15" y="670.58" width="1.9" height="1.9" fill="#e0202a"/>
<path d="M212.3 670.4 L225.75 667.01 L239.2 661.36 L252.65 652.32 L266.1 641.02" fill="none" stroke="#111" stroke-width="1.25" stroke-linejoin="round"/>
<circle cx="212.3" cy="670.4" r="1.25" fill="#111"/>
<line x1="225.75" y1="665.81" x2="225.75" y2="668.21" stroke="#555" stroke-width="0.6"/>
<line x1="224.75" y1="665.81" x2="226.75" y2="665.81" stroke="#555" stroke-width="0.6"/>
<line x1="224.75" y1="668.21" x2="226.75" y2="668.21" stroke="#555" stroke-width="0.6"/>
<circle cx="225.75" cy="667.01" r="1.25" fill="#111"/>
<line x1="239.2" y1="660.76" x2="239.2" y2="661.96" stroke="#555" stroke-width="0.6"/>
<line x1="238.2" y1="660.76" x2="240.2" y2="660.76" stroke="#555" stroke-width="0.6"/>
<line x1="238.2" y1="661.96" x2="240.2" y2="661.96" stroke="#555" stroke-width="0.6"/>
<circle cx="239.2" cy="661.36" r="1.25" fill="#111"/>
<line x1="252.65" y1="651.72" x2="252.65" y2="652.92" stroke="#555" stroke-width="0.6"/>
<line x1="251.65" y1="651.72" x2="253.65" y2="651.72" stroke="#555" stroke-width="0.6"/>
<line x1="251.65" y1="652.92" x2="253.65" y2="652.92" stroke="#555" stroke-width="0.6"/>
<circle cx="252.65" cy="652.32" r="1.25" fill="#111"/>
<line x1="266.1" y1="638.82" x2="266.1" y2="643.22" stroke="#555" stroke-width="0.6"/>
<line x1="265.1" y1="638.82" x2="267.1" y2="638.82" stroke="#555" stroke-width="0.6"/>
<line x1="265.1" y1="643.22" x2="267.1" y2="643.22" stroke="#555" stroke-width="0.6"/>
<circle cx="266.1" cy="641.02" r="1.25" fill="#111"/>
<line x1="305" y1="625.8" x2="305" y2="683" stroke="#1a1a1a" stroke-width="0.8"/>
<line x1="305" y1="683" x2="361.3" y2="683" stroke="#1a1a1a" stroke-width="0.8"/>
<line x1="302.8" y1="683" x2="305" y2="683" stroke="#1a1a1a" stroke-width="0.7"/>
<text x="301.6" y="685.5" font-size="7.2" text-anchor="end" fill="#1a1a1a" stroke="#1a1a1a">0</text>
<line x1="302.8" y1="668.7" x2="305" y2="668.7" stroke="#1a1a1a" stroke-width="0.7"/>
<text x="301.6" y="671.2" font-size="7.2" text-anchor="end" fill="#1a1a1a" stroke="#1a1a1a">2</text>
<line x1="302.8" y1="654.4" x2="305" y2="654.4" stroke="#1a1a1a" stroke-width="0.7"/>
<text x="301.6" y="656.9" font-size="7.2" text-anchor="end" fill="#1a1a1a" stroke="#1a1a1a">4</text>
<line x1="302.8" y1="640.1" x2="305" y2="640.1" stroke="#1a1a1a" stroke-width="0.7"/>
<text x="301.6" y="642.6" font-size="7.2" text-anchor="end" fill="#1a1a1a" stroke="#1a1a1a">6</text>
<line x1="302.8" y1="625.8" x2="305" y2="625.8" stroke="#1a1a1a" stroke-width="0.7"/>
<text x="301.6" y="628.3" font-size="7.2" text-anchor="end" fill="#1a1a1a" stroke="#1a1a1a">8</text>
<line x1="306" y1="683" x2="306" y2="685.2" stroke="#1a1a1a" stroke-width="0.7"/>
<text x="306" y="693" font-size="7.2" text-anchor="middle" fill="#1a1a1a" stroke="#1a1a1a">0</text>
<line x1="319.7" y1="683" x2="319.7" y2="685.2" stroke="#1a1a1a" stroke-width="0.7"/>
<text x="319.7" y="693" font-size="7.2" text-anchor="middle" fill="#1a1a1a" stroke="#1a1a1a">1</text>
<line x1="333.4" y1="683" x2="333.4" y2="685.2" stroke="#1a1a1a" stroke-width="0.7"/>
<text x="333.4" y="693" font-size="7.2" text-anchor="middle" fill="#1a1a1a" stroke="#1a1a1a">2</text>
<line x1="347.1" y1="683" x2="347.1" y2="685.2" stroke="#1a1a1a" stroke-width="0.7"/>
<text x="347.1" y="693" font-size="7.2" text-anchor="middle" fill="#1a1a1a" stroke="#1a1a1a">3</text>
<line x1="360.8" y1="683" x2="360.8" y2="685.2" stroke="#1a1a1a" stroke-width="0.7"/>
<text x="360.8" y="693" font-size="7.2" text-anchor="middle" fill="#1a1a1a" stroke="#1a1a1a">4</text>
<text x="333.6" y="700.5" font-size="7.2" text-anchor="middle" fill="#1a1a1a" stroke="#1a1a1a">Days</text>
<text font-size="7.1" text-anchor="middle" transform="translate(293 655) rotate(-90)" fill="#1a1a1a" stroke="#1a1a1a">Relative growth rate</text>
<text x="332.7" y="621.4" font-size="7.2" text-anchor="middle" fill="#1a1a1a" stroke="#1a1a1a">786-O</text>
<path d="M306 675.85 L319.7 675.13 L333.4 672.99 L347.1 668.7 L360.8 660.12" fill="none" stroke="#6a2c91" stroke-width="1.25" stroke-linejoin="round"/>
<path d="M306 674.55L304.8 676.75L307.2 676.75Z" fill="#6a2c91" stroke="none" stroke-width="0"/>
<path d="M319.7 673.84L318.5 676.03L320.9 676.03Z" fill="#6a2c91" stroke="none" stroke-width="0"/>
<path d="M333.4 671.69L332.2 673.89L334.6 673.89Z" fill="#6a2c91" stroke="none" stroke-width="0"/>
<path d="M347.1 667.4L345.9 669.6L348.3 669.6Z" fill="#6a2c91" stroke="none" stroke-width="0"/>
<line x1="360.8" y1="658.62" x2="360.8" y2="661.62" stroke="#6a2c91" stroke-width="0.6"/>
<line x1="359.8" y1="658.62" x2="361.8" y2="658.62" stroke="#6a2c91" stroke-width="0.6"/>
<line x1="359.8" y1="661.62" x2="361.8" y2="661.62" stroke="#6a2c91" stroke-width="0.6"/>
<path d="M360.8 658.82L359.6 661.02L362 661.02Z" fill="#6a2c91" stroke="none" stroke-width="0"/>
<path d="M306 675.85 L319.7 672.99 L333.4 666.55 L347.1 661.55 L360.8 659.4" fill="none" stroke="#e0202a" stroke-width="1.25" stroke-linejoin="round"/>
<rect x="305.05" y="674.9" width="1.9" height="1.9" fill="#e0202a"/>
<line x1="319.7" y1="672.49" x2="319.7" y2="673.49" stroke="#e0202a" stroke-width="0.6"/>
<line x1="318.7" y1="672.49" x2="320.7" y2="672.49" stroke="#e0202a" stroke-width="0.6"/>
<line x1="318.7" y1="673.49" x2="320.7" y2="673.49" stroke="#e0202a" stroke-width="0.6"/>
<rect x="318.75" y="672.04" width="1.9" height="1.9" fill="#e0202a"/>
<line x1="333.4" y1="665.55" x2="333.4" y2="667.55" stroke="#e0202a" stroke-width="0.6"/>
<line x1="332.4" y1="665.55" x2="334.4" y2="665.55" stroke="#e0202a" stroke-width="0.6"/>
<line x1="332.4" y1="667.55" x2="334.4" y2="667.55" stroke="#e0202a" stroke-width="0.6"/>
<rect x="332.45" y="665.6" width="1.9" height="1.9" fill="#e0202a"/>
<line x1="347.1" y1="660.55" x2="347.1" y2="662.55" stroke="#e0202a" stroke-width="0.6"/>
<line x1="346.1" y1="660.55" x2="348.1" y2="660.55" stroke="#e0202a" stroke-width="0.6"/>
<line x1="346.1" y1="662.55" x2="348.1" y2="662.55" stroke="#e0202a" stroke-width="0.6"/>
<rect x="346.15" y="660.6" width="1.9" height="1.9" fill="#e0202a"/>
<line x1="360.8" y1="656.9" x2="360.8" y2="661.9" stroke="#e0202a" stroke-width="0.6"/>
<line x1="359.8" y1="656.9" x2="361.8" y2="656.9" stroke="#e0202a" stroke-width="0.6"/>
<line x1="359.8" y1="661.9" x2="361.8" y2="661.9" stroke="#e0202a" stroke-width="0.6"/>
<rect x="359.85" y="658.45" width="1.9" height="1.9" fill="#e0202a"/>
<path d="M306 675.85 L319.7 672.27 L333.4 663.7 L347.1 655.12 L360.8 631.52" fill="none" stroke="#111" stroke-width="1.25" stroke-linejoin="round"/>
<circle cx="306" cy="675.85" r="1.25" fill="#111"/>
<line x1="319.7" y1="671.77" x2="319.7" y2="672.77" stroke="#555" stroke-width="0.6"/>
<line x1="318.7" y1="671.77" x2="320.7" y2="671.77" stroke="#555" stroke-width="0.6"/>
<line x1="318.7" y1="672.77" x2="320.7" y2="672.77" stroke="#555" stroke-width="0.6"/>
<circle cx="319.7" cy="672.27" r="1.25" fill="#111"/>
<line x1="333.4" y1="662.5" x2="333.4" y2="664.9" stroke="#555" stroke-width="0.6"/>
<line x1="332.4" y1="662.5" x2="334.4" y2="662.5" stroke="#555" stroke-width="0.6"/>
<line x1="332.4" y1="664.9" x2="334.4" y2="664.9" stroke="#555" stroke-width="0.6"/>
<circle cx="333.4" cy="663.7" r="1.25" fill="#111"/>
<line x1="347.1" y1="653.32" x2="347.1" y2="656.91" stroke="#555" stroke-width="0.6"/>
<line x1="346.1" y1="653.32" x2="348.1" y2="653.32" stroke="#555" stroke-width="0.6"/>
<line x1="346.1" y1="656.91" x2="348.1" y2="656.91" stroke="#555" stroke-width="0.6"/>
<circle cx="347.1" cy="655.12" r="1.25" fill="#111"/>
<line x1="360.8" y1="629.52" x2="360.8" y2="633.52" stroke="#555" stroke-width="0.6"/>
<line x1="359.8" y1="629.52" x2="361.8" y2="629.52" stroke="#555" stroke-width="0.6"/>
<line x1="359.8" y1="633.52" x2="361.8" y2="633.52" stroke="#555" stroke-width="0.6"/>
<circle cx="360.8" cy="631.52" r="1.25" fill="#111"/>
</g>
<g id="panelI">
<text x="395.3" y="597.2" font-size="10.7" font-weight="bold" fill="#000">I</text>
<text x="453.7" y="603.8" font-size="7.3" text-anchor="middle" fill="#1a1a1a" stroke="#1a1a1a">A498</text>
<text x="490.7" y="603.8" font-size="7.3" text-anchor="middle" fill="#1a1a1a" stroke="#1a1a1a">786-O</text>
<line x1="435.1" y1="610.5" x2="435.1" y2="675" stroke="#6a6a6a" stroke-width="0.7"/>
<line x1="432.3" y1="675" x2="434.5" y2="675" stroke="#6a6a6a" stroke-width="0.7"/>
<text x="431.9" y="676.8" font-size="5" text-anchor="end" fill="#555" stroke="#555">0</text>
<line x1="432.3" y1="653.5" x2="434.5" y2="653.5" stroke="#6a6a6a" stroke-width="0.7"/>
<text x="431.9" y="655.3" font-size="5" text-anchor="end" fill="#555" stroke="#555">1</text>
<line x1="432.3" y1="632" x2="434.5" y2="632" stroke="#6a6a6a" stroke-width="0.7"/>
<text x="431.9" y="633.8" font-size="5" text-anchor="end" fill="#555" stroke="#555">2</text>
<line x1="432.3" y1="610.5" x2="434.5" y2="610.5" stroke="#6a6a6a" stroke-width="0.7"/>
<text x="431.9" y="612.3" font-size="5" text-anchor="end" fill="#555" stroke="#555">3</text>
<line x1="434.5" y1="675" x2="467.5" y2="675" stroke="#333" stroke-width="0.8"/>
<line x1="472" y1="675" x2="503.5" y2="675" stroke="#333" stroke-width="0.8"/>
<line x1="441.5" y1="649.63" x2="441.5" y2="655.82" stroke="#555" stroke-width="0.6"/>
<line x1="440.4" y1="649.63" x2="442.6" y2="649.63" stroke="#555" stroke-width="0.6"/>
<rect x="438" y="653.5" width="7" height="21.5" fill="#141414"/>
<text font-size="7.2" text-anchor="end" transform="translate(444 678.2) rotate(-90)" fill="#1a1a1a" stroke="#1a1a1a">NC</text>
<line x1="451.5" y1="619.53" x2="451.5" y2="632.6" stroke="#555" stroke-width="0.6"/>
<line x1="450.4" y1="619.53" x2="452.6" y2="619.53" stroke="#555" stroke-width="0.6"/>
<rect x="448" y="627.7" width="7" height="47.3" fill="#e0202a"/>
<text x="451.5" y="618.93" font-size="5" text-anchor="middle" fill="#777" stroke="#777">**</text>
<text font-size="7.2" text-anchor="end" transform="translate(454 678.2) rotate(-90)" fill="#1a1a1a" stroke="#1a1a1a">sh<tspan font-style="italic">ZNF395</tspan>-1</text>
<line x1="461.5" y1="615.66" x2="461.5" y2="628.73" stroke="#555" stroke-width="0.6"/>
<line x1="460.4" y1="615.66" x2="462.6" y2="615.66" stroke="#555" stroke-width="0.6"/>
<rect x="458" y="623.83" width="7" height="51.17" fill="#6a2c91"/>
<text x="461.5" y="615.06" font-size="5" text-anchor="middle" fill="#777" stroke="#777">**</text>
<text font-size="7.2" text-anchor="end" transform="translate(464 678.2) rotate(-90)" fill="#1a1a1a" stroke="#1a1a1a">sh<tspan font-style="italic">ZNF395</tspan>-2</text>
<line x1="477.85" y1="650.92" x2="477.85" y2="655.05" stroke="#555" stroke-width="0.6"/>
<line x1="476.75" y1="650.92" x2="478.95" y2="650.92" stroke="#555" stroke-width="0.6"/>
<rect x="474.5" y="653.5" width="6.7" height="21.5" fill="#141414"/>
<text font-size="7.2" text-anchor="end" transform="translate(480.35 678.2) rotate(-90)" fill="#1a1a1a" stroke="#1a1a1a">NC</text>
<line x1="487.85" y1="641.25" x2="487.85" y2="648.12" stroke="#555" stroke-width="0.6"/>
<line x1="486.75" y1="641.25" x2="488.95" y2="641.25" stroke="#555" stroke-width="0.6"/>
<rect x="484.5" y="645.54" width="6.7" height="29.46" fill="#e0202a"/>
<text x="487.85" y="640.64" font-size="5" text-anchor="middle" fill="#777" stroke="#777">*</text>
<text font-size="7.2" text-anchor="end" transform="translate(490.35 678.2) rotate(-90)" fill="#1a1a1a" stroke="#1a1a1a">sh<tspan font-style="italic">ZNF395</tspan>-1</text>
<line x1="497.85" y1="629.21" x2="497.85" y2="635.4" stroke="#555" stroke-width="0.6"/>
<line x1="496.75" y1="629.21" x2="498.95" y2="629.21" stroke="#555" stroke-width="0.6"/>
<rect x="494.5" y="633.08" width="6.7" height="41.92" fill="#6a2c91"/>
<text x="497.85" y="628.61" font-size="5" text-anchor="middle" fill="#777" stroke="#777">**</text>
<text font-size="7.2" text-anchor="end" transform="translate(500.35 678.2) rotate(-90)" fill="#1a1a1a" stroke="#1a1a1a">sh<tspan font-style="italic">ZNF395</tspan>-2</text>
<text font-size="7.8" text-anchor="middle" transform="translate(412.8 644.6) rotate(-90)" fill="#1a1a1a" stroke="#1a1a1a">Cleaved caspase-3/7</text>
<text font-size="7.8" text-anchor="middle" transform="translate(421.5 644.6) rotate(-90)" fill="#1a1a1a" stroke="#1a1a1a">substrates</text>
</g>
<g id="panelJ">
<text x="16" y="743.2" font-size="10.7" font-weight="bold" fill="#000">J</text>
<line x1="125.2" y1="740.4" x2="139" y2="740.4" stroke="#111" stroke-width="1.2"/>
<circle cx="132.1" cy="740.4" r="1.4" fill="#111"/>
<text x="145" y="743" font-size="7.4" fill="#1a1a1a" stroke="#1a1a1a">NC</text>
<line x1="165" y1="740.4" x2="178.8" y2="740.4" stroke="#e0202a" stroke-width="1.2"/>
<rect x="170.7" y="739.2" width="2.4" height="2.4" fill="#e0202a"/>
<text x="182.3" y="743" font-size="7.4" fill="#1a1a1a" stroke="#1a1a1a">sh<tspan font-style="italic">ZNF395</tspan>-1</text>
<line x1="230" y1="740.4" x2="243.9" y2="740.4" stroke="#6a2c91" stroke-width="1.2"/>
<path d="M237 738.7L235.5 741.6L238.5 741.6Z" fill="#6a2c91" stroke="none" stroke-width="0"/>
<text x="247.3" y="743" font-size="7.4" fill="#1a1a1a" stroke="#1a1a1a">sh<tspan font-style="italic">ZNF395</tspan>-2</text>
<line x1="67.4" y1="760.1" x2="67.4" y2="837.5" stroke="#1a1a1a" stroke-width="0.8"/>
<line x1="67.4" y1="837.5" x2="184.9" y2="837.5" stroke="#1a1a1a" stroke-width="0.8"/>
<line x1="65.2" y1="837.5" x2="67.4" y2="837.5" stroke="#1a1a1a" stroke-width="0.7"/>
<text x="63.8" y="840" font-size="7.05" text-anchor="end" fill="#1a1a1a" stroke="#1a1a1a">0</text>
<line x1="65.2" y1="822.02" x2="67.4" y2="822.02" stroke="#1a1a1a" stroke-width="0.7"/>
<text x="63.8" y="824.52" font-size="7.05" text-anchor="end" fill="#1a1a1a" stroke="#1a1a1a">200</text>
<line x1="65.2" y1="806.54" x2="67.4" y2="806.54" stroke="#1a1a1a" stroke-width="0.7"/>
<text x="63.8" y="809.04" font-size="7.05" text-anchor="end" fill="#1a1a1a" stroke="#1a1a1a">400</text>
<line x1="65.2" y1="791.06" x2="67.4" y2="791.06" stroke="#1a1a1a" stroke-width="0.7"/>
<text x="63.8" y="793.56" font-size="7.05" text-anchor="end" fill="#1a1a1a" stroke="#1a1a1a">600</text>
<line x1="65.2" y1="775.58" x2="67.4" y2="775.58" stroke="#1a1a1a" stroke-width="0.7"/>
<text x="63.8" y="778.08" font-size="7.05" text-anchor="end" fill="#1a1a1a" stroke="#1a1a1a">800</text>
<line x1="65.2" y1="760.1" x2="67.4" y2="760.1" stroke="#1a1a1a" stroke-width="0.7"/>
<text x="63.8" y="762.6" font-size="7.05" text-anchor="end" fill="#1a1a1a" stroke="#1a1a1a">1,000</text>
<line x1="67.5" y1="837.5" x2="67.5" y2="839.7" stroke="#1a1a1a" stroke-width="0.7"/>
<text x="67.5" y="850.1" font-size="7.2" text-anchor="middle" fill="#1a1a1a" stroke="#1a1a1a">45</text>
<line x1="87" y1="837.5" x2="87" y2="839.7" stroke="#1a1a1a" stroke-width="0.7"/>
<text x="87" y="850.1" font-size="7.2" text-anchor="middle" fill="#1a1a1a" stroke="#1a1a1a">50</text>
<line x1="106.5" y1="837.5" x2="106.5" y2="839.7" stroke="#1a1a1a" stroke-width="0.7"/>
<text x="106.5" y="850.1" font-size="7.2" text-anchor="middle" fill="#1a1a1a" stroke="#1a1a1a">55</text>
<line x1="126" y1="837.5" x2="126" y2="839.7" stroke="#1a1a1a" stroke-width="0.7"/>
<text x="126" y="850.1" font-size="7.2" text-anchor="middle" fill="#1a1a1a" stroke="#1a1a1a">60</text>
<line x1="145.5" y1="837.5" x2="145.5" y2="839.7" stroke="#1a1a1a" stroke-width="0.7"/>
<text x="145.5" y="850.1" font-size="7.2" text-anchor="middle" fill="#1a1a1a" stroke="#1a1a1a">65</text>
<line x1="165" y1="837.5" x2="165" y2="839.7" stroke="#1a1a1a" stroke-width="0.7"/>
<text x="165" y="850.1" font-size="7.2" text-anchor="middle" fill="#1a1a1a" stroke="#1a1a1a">70</text>
<line x1="184.5" y1="837.5" x2="184.5" y2="839.7" stroke="#1a1a1a" stroke-width="0.7"/>
<text x="184.5" y="850.1" font-size="7.2" text-anchor="middle" fill="#1a1a1a" stroke="#1a1a1a">75</text>
<text x="126" y="859.3" font-size="7.2" text-anchor="middle" fill="#1a1a1a" stroke="#1a1a1a">Days</text>
<text x="119.5" y="758.4" font-size="7.1" text-anchor="middle" fill="#1a1a1a" stroke="#1a1a1a">A498</text>
<text font-size="7.5" text-anchor="middle" transform="translate(40 802) rotate(-90)" fill="#1a1a1a" stroke="#1a1a1a">Tumor volume (mm<tspan dy="-2.2" font-size="4.4">3</tspan><tspan dy="2.2">)</tspan></text>
<rect x="67.5" y="836.6" width="105.3" height="2.4" fill="#cfa6d8"/>
<path d="M67.5 837.7 L83.1 837.7 L94.8 837.7 L110.4 837.7 L122.1 837.7 L137.7 837.7 L149.4 837.7 L161.1 837.7 L172.8 837.7" fill="none" stroke="#6a2c91" stroke-width="0.7" stroke-linejoin="round"/>
<path d="M67.5 836.4L66.3 838.6L68.7 838.6Z" fill="#6a2c91" stroke="none" stroke-width="0"/>
<path d="M83.1 836.4L81.9 838.6L84.3 838.6Z" fill="#6a2c91" stroke="none" stroke-width="0"/>
<path d="M94.8 836.4L93.6 838.6L96 838.6Z" fill="#6a2c91" stroke="none" stroke-width="0"/>
<path d="M110.4 836.4L109.2 838.6L111.6 838.6Z" fill="#6a2c91" stroke="none" stroke-width="0"/>
<path d="M122.1 836.4L120.9 838.6L123.3 838.6Z" fill="#6a2c91" stroke="none" stroke-width="0"/>
<path d="M137.7 836.4L136.5 838.6L138.9 838.6Z" fill="#6a2c91" stroke="none" stroke-width="0"/>
<path d="M149.4 836.4L148.2 838.6L150.6 838.6Z" fill="#6a2c91" stroke="none" stroke-width="0"/>
<path d="M161.1 836.4L159.9 838.6L162.3 838.6Z" fill="#6a2c91" stroke="none" stroke-width="0"/>
<path d="M172.8 836.4L171.6 838.6L174 838.6Z" fill="#6a2c91" stroke="none" stroke-width="0"/>
<path d="M67.5 834.4 L83.1 832.86 L94.8 830.92 L110.4 827.44 L122.1 820.47 L137.7 818.54 L149.4 811.96 L161.1 807.31 L172.8 787.19" fill="none" stroke="#111" stroke-width="1.25" stroke-linejoin="round"/>
<line x1="67.5" y1="833.63" x2="67.5" y2="835.18" stroke="#555" stroke-width="0.6"/>
<line x1="66.5" y1="833.63" x2="68.5" y2="833.63" stroke="#555" stroke-width="0.6"/>
<line x1="66.5" y1="835.18" x2="68.5" y2="835.18" stroke="#555" stroke-width="0.6"/>
<circle cx="67.5" cy="834.4" r="1.25" fill="#111"/>
<line x1="83.1" y1="831.46" x2="83.1" y2="834.25" stroke="#555" stroke-width="0.6"/>
<line x1="82.1" y1="831.46" x2="84.1" y2="831.46" stroke="#555" stroke-width="0.6"/>
<line x1="82.1" y1="834.25" x2="84.1" y2="834.25" stroke="#555" stroke-width="0.6"/>
<circle cx="83.1" cy="832.86" r="1.25" fill="#111"/>
<line x1="94.8" y1="828.99" x2="94.8" y2="832.86" stroke="#555" stroke-width="0.6"/>
<line x1="93.8" y1="828.99" x2="95.8" y2="828.99" stroke="#555" stroke-width="0.6"/>
<line x1="93.8" y1="832.86" x2="95.8" y2="832.86" stroke="#555" stroke-width="0.6"/>
<circle cx="94.8" cy="830.92" r="1.25" fill="#111"/>
<line x1="110.4" y1="824.34" x2="110.4" y2="830.53" stroke="#555" stroke-width="0.6"/>
<line x1="109.4" y1="824.34" x2="111.4" y2="824.34" stroke="#555" stroke-width="0.6"/>
<line x1="109.4" y1="830.53" x2="111.4" y2="830.53" stroke="#555" stroke-width="0.6"/>
<circle cx="110.4" cy="827.44" r="1.25" fill="#111"/>
<line x1="122.1" y1="813.89" x2="122.1" y2="827.05" stroke="#555" stroke-width="0.6"/>
<line x1="121.1" y1="813.89" x2="123.1" y2="813.89" stroke="#555" stroke-width="0.6"/>
<line x1="121.1" y1="827.05" x2="123.1" y2="827.05" stroke="#555" stroke-width="0.6"/>
<circle cx="122.1" cy="820.47" r="1.25" fill="#111"/>
<line x1="137.7" y1="813.12" x2="137.7" y2="823.96" stroke="#555" stroke-width="0.6"/>
<line x1="136.7" y1="813.12" x2="138.7" y2="813.12" stroke="#555" stroke-width="0.6"/>
<line x1="136.7" y1="823.96" x2="138.7" y2="823.96" stroke="#555" stroke-width="0.6"/>
<circle cx="137.7" cy="818.54" r="1.25" fill="#111"/>
<line x1="149.4" y1="802.67" x2="149.4" y2="821.25" stroke="#555" stroke-width="0.6"/>
<line x1="148.4" y1="802.67" x2="150.4" y2="802.67" stroke="#555" stroke-width="0.6"/>
<line x1="148.4" y1="821.25" x2="150.4" y2="821.25" stroke="#555" stroke-width="0.6"/>
<circle cx="149.4" cy="811.96" r="1.25" fill="#111"/>
<line x1="161.1" y1="797.25" x2="161.1" y2="817.38" stroke="#555" stroke-width="0.6"/>
<line x1="160.1" y1="797.25" x2="162.1" y2="797.25" stroke="#555" stroke-width="0.6"/>
<line x1="160.1" y1="817.38" x2="162.1" y2="817.38" stroke="#555" stroke-width="0.6"/>
<circle cx="161.1" cy="807.31" r="1.25" fill="#111"/>
<line x1="172.8" y1="771.71" x2="172.8" y2="802.67" stroke="#555" stroke-width="0.6"/>
<line x1="171.8" y1="771.71" x2="173.8" y2="771.71" stroke="#555" stroke-width="0.6"/>
<line x1="171.8" y1="802.67" x2="173.8" y2="802.67" stroke="#555" stroke-width="0.6"/>
<circle cx="172.8" cy="787.19" r="1.25" fill="#111"/>
<line x1="228.2" y1="763" x2="228.2" y2="839.8" stroke="#1a1a1a" stroke-width="0.8"/>
<line x1="228.2" y1="839.8" x2="349.95" y2="839.8" stroke="#1a1a1a" stroke-width="0.8"/>
<line x1="226" y1="839.8" x2="228.2" y2="839.8" stroke="#1a1a1a" stroke-width="0.7"/>
<text x="224.6" y="842.3" font-size="7.05" text-anchor="end" fill="#1a1a1a" stroke="#1a1a1a">0</text>
<line x1="226" y1="824.44" x2="228.2" y2="824.44" stroke="#1a1a1a" stroke-width="0.7"/>
<text x="224.6" y="826.94" font-size="7.05" text-anchor="end" fill="#1a1a1a" stroke="#1a1a1a">200</text>
<line x1="226" y1="809.08" x2="228.2" y2="809.08" stroke="#1a1a1a" stroke-width="0.7"/>
<text x="224.6" y="811.58" font-size="7.05" text-anchor="end" fill="#1a1a1a" stroke="#1a1a1a">400</text>
<line x1="226" y1="793.72" x2="228.2" y2="793.72" stroke="#1a1a1a" stroke-width="0.7"/>
<text x="224.6" y="796.22" font-size="7.05" text-anchor="end" fill="#1a1a1a" stroke="#1a1a1a">600</text>
<line x1="226" y1="778.36" x2="228.2" y2="778.36" stroke="#1a1a1a" stroke-width="0.7"/>
<text x="224.6" y="780.86" font-size="7.05" text-anchor="end" fill="#1a1a1a" stroke="#1a1a1a">800</text>
<line x1="226" y1="763" x2="228.2" y2="763" stroke="#1a1a1a" stroke-width="0.7"/>
<text x="224.6" y="765.5" font-size="7.05" text-anchor="end" fill="#1a1a1a" stroke="#1a1a1a">1,000</text>
<line x1="232.8" y1="839.8" x2="232.8" y2="842" stroke="#1a1a1a" stroke-width="0.7"/>
<text x="232.8" y="851.4" font-size="7.2" text-anchor="middle" fill="#1a1a1a" stroke="#1a1a1a">50</text>
<line x1="244.48" y1="839.8" x2="244.48" y2="842" stroke="#1a1a1a" stroke-width="0.7"/>
<text x="244.48" y="851.4" font-size="7.2" text-anchor="middle" fill="#1a1a1a" stroke="#1a1a1a">55</text>
<line x1="256.15" y1="839.8" x2="256.15" y2="842" stroke="#1a1a1a" stroke-width="0.7"/>
<text x="256.15" y="851.4" font-size="7.2" text-anchor="middle" fill="#1a1a1a" stroke="#1a1a1a">60</text>
<line x1="267.82" y1="839.8" x2="267.82" y2="842" stroke="#1a1a1a" stroke-width="0.7"/>
<text x="267.82" y="851.4" font-size="7.2" text-anchor="middle" fill="#1a1a1a" stroke="#1a1a1a">65</text>
<line x1="279.5" y1="839.8" x2="279.5" y2="842" stroke="#1a1a1a" stroke-width="0.7"/>
<text x="279.5" y="851.4" font-size="7.2" text-anchor="middle" fill="#1a1a1a" stroke="#1a1a1a">70</text>
<line x1="291.18" y1="839.8" x2="291.18" y2="842" stroke="#1a1a1a" stroke-width="0.7"/>
<text x="291.18" y="851.4" font-size="7.2" text-anchor="middle" fill="#1a1a1a" stroke="#1a1a1a">75</text>
<line x1="302.85" y1="839.8" x2="302.85" y2="842" stroke="#1a1a1a" stroke-width="0.7"/>
<text x="302.85" y="851.4" font-size="7.2" text-anchor="middle" fill="#1a1a1a" stroke="#1a1a1a">80</text>
<line x1="314.52" y1="839.8" x2="314.52" y2="842" stroke="#1a1a1a" stroke-width="0.7"/>
<text x="314.52" y="851.4" font-size="7.2" text-anchor="middle" fill="#1a1a1a" stroke="#1a1a1a">85</text>
<line x1="326.2" y1="839.8" x2="326.2" y2="842" stroke="#1a1a1a" stroke-width="0.7"/>
<text x="326.2" y="851.4" font-size="7.2" text-anchor="middle" fill="#1a1a1a" stroke="#1a1a1a">90</text>
<line x1="337.88" y1="839.8" x2="337.88" y2="842" stroke="#1a1a1a" stroke-width="0.7"/>
<text x="337.88" y="851.4" font-size="7.2" text-anchor="middle" fill="#1a1a1a" stroke="#1a1a1a">95</text>
<line x1="349.55" y1="839.8" x2="349.55" y2="842" stroke="#1a1a1a" stroke-width="0.7"/>
<text x="349.55" y="851.4" font-size="7.2" text-anchor="middle" fill="#1a1a1a" stroke="#1a1a1a">100</text>
<text x="294.5" y="860.3" font-size="7.2" text-anchor="middle" fill="#1a1a1a" stroke="#1a1a1a">Days</text>
<text x="287.4" y="757.3" font-size="7.1" text-anchor="middle" fill="#1a1a1a" stroke="#1a1a1a">786O</text>
<text font-size="7.5" text-anchor="middle" transform="translate(205.6 803) rotate(-90)" fill="#1a1a1a" stroke="#1a1a1a">Tumor volume (mm<tspan dy="-2.2" font-size="4.4">3</tspan><tspan dy="2.2">)</tspan></text>
<path d="M231 839.65 L237.5 839.49 L244 839.34 L251 839.11 L260 838.88 L267.5 838.42 L275 838.11 L285 837.65 L294 836.88 L301.5 835.96 L309 834.81 L317.5 833.66 L325 832.5 L332.5 831.35 L341 830.58" fill="none" stroke="#6a2c91" stroke-width="0.9" stroke-linejoin="round"/>
<line x1="231" y1="839.57" x2="231" y2="839.72" stroke="#6a2c91" stroke-width="0.6"/>
<line x1="230" y1="839.57" x2="232" y2="839.57" stroke="#6a2c91" stroke-width="0.6"/>
<line x1="230" y1="839.72" x2="232" y2="839.72" stroke="#6a2c91" stroke-width="0.6"/>
<path d="M231 838.35L229.8 840.55L232.2 840.55Z" fill="#6a2c91" stroke="none" stroke-width="0"/>
<line x1="237.5" y1="839.34" x2="237.5" y2="839.65" stroke="#6a2c91" stroke-width="0.6"/>
<line x1="236.5" y1="839.34" x2="238.5" y2="839.34" stroke="#6a2c91" stroke-width="0.6"/>
<line x1="236.5" y1="839.65" x2="238.5" y2="839.65" stroke="#6a2c91" stroke-width="0.6"/>
<path d="M237.5 838.19L236.3 840.39L238.7 840.39Z" fill="#6a2c91" stroke="none" stroke-width="0"/>
<line x1="244" y1="839.11" x2="244" y2="839.57" stroke="#6a2c91" stroke-width="0.6"/>
<line x1="243" y1="839.11" x2="245" y2="839.11" stroke="#6a2c91" stroke-width="0.6"/>
<line x1="243" y1="839.57" x2="245" y2="839.57" stroke="#6a2c91" stroke-width="0.6"/>
<path d="M244 838.04L242.8 840.24L245.2 840.24Z" fill="#6a2c91" stroke="none" stroke-width="0"/>
<line x1="251" y1="838.76" x2="251" y2="839.45" stroke="#6a2c91" stroke-width="0.6"/>
<line x1="250" y1="838.76" x2="252" y2="838.76" stroke="#6a2c91" stroke-width="0.6"/>
<line x1="250" y1="839.45" x2="252" y2="839.45" stroke="#6a2c91" stroke-width="0.6"/>
<path d="M251 837.81L249.8 840.01L252.2 840.01Z" fill="#6a2c91" stroke="none" stroke-width="0"/>
<line x1="260" y1="838.42" x2="260" y2="839.34" stroke="#6a2c91" stroke-width="0.6"/>
<line x1="259" y1="838.42" x2="261" y2="838.42" stroke="#6a2c91" stroke-width="0.6"/>
<line x1="259" y1="839.34" x2="261" y2="839.34" stroke="#6a2c91" stroke-width="0.6"/>
<path d="M260 837.58L258.8 839.78L261.2 839.78Z" fill="#6a2c91" stroke="none" stroke-width="0"/>
<line x1="267.5" y1="837.73" x2="267.5" y2="839.11" stroke="#6a2c91" stroke-width="0.6"/>
<line x1="266.5" y1="837.73" x2="268.5" y2="837.73" stroke="#6a2c91" stroke-width="0.6"/>
<line x1="266.5" y1="839.11" x2="268.5" y2="839.11" stroke="#6a2c91" stroke-width="0.6"/>
<path d="M267.5 837.12L266.3 839.32L268.7 839.32Z" fill="#6a2c91" stroke="none" stroke-width="0"/>
<line x1="275" y1="837.27" x2="275" y2="838.96" stroke="#6a2c91" stroke-width="0.6"/>
<line x1="274" y1="837.27" x2="276" y2="837.27" stroke="#6a2c91" stroke-width="0.6"/>
<line x1="274" y1="838.96" x2="276" y2="838.96" stroke="#6a2c91" stroke-width="0.6"/>
<path d="M275 836.81L273.8 839.01L276.2 839.01Z" fill="#6a2c91" stroke="none" stroke-width="0"/>
<line x1="285" y1="836.57" x2="285" y2="838.72" stroke="#6a2c91" stroke-width="0.6"/>
<line x1="284" y1="836.57" x2="286" y2="836.57" stroke="#6a2c91" stroke-width="0.6"/>
<line x1="284" y1="838.72" x2="286" y2="838.72" stroke="#6a2c91" stroke-width="0.6"/>
<path d="M285 836.35L283.8 838.55L286.2 838.55Z" fill="#6a2c91" stroke="none" stroke-width="0"/>
<line x1="294" y1="835.42" x2="294" y2="838.34" stroke="#6a2c91" stroke-width="0.6"/>
<line x1="293" y1="835.42" x2="295" y2="835.42" stroke="#6a2c91" stroke-width="0.6"/>
<line x1="293" y1="838.34" x2="295" y2="838.34" stroke="#6a2c91" stroke-width="0.6"/>
<path d="M294 835.58L292.8 837.78L295.2 837.78Z" fill="#6a2c91" stroke="none" stroke-width="0"/>
<line x1="301.5" y1="834.04" x2="301.5" y2="837.88" stroke="#6a2c91" stroke-width="0.6"/>
<line x1="300.5" y1="834.04" x2="302.5" y2="834.04" stroke="#6a2c91" stroke-width="0.6"/>
<line x1="300.5" y1="837.88" x2="302.5" y2="837.88" stroke="#6a2c91" stroke-width="0.6"/>
<path d="M301.5 834.66L300.3 836.86L302.7 836.86Z" fill="#6a2c91" stroke="none" stroke-width="0"/>
<line x1="309" y1="832.31" x2="309" y2="837.3" stroke="#6a2c91" stroke-width="0.6"/>
<line x1="308" y1="832.31" x2="310" y2="832.31" stroke="#6a2c91" stroke-width="0.6"/>
<line x1="308" y1="837.3" x2="310" y2="837.3" stroke="#6a2c91" stroke-width="0.6"/>
<path d="M309 833.51L307.8 835.71L310.2 835.71Z" fill="#6a2c91" stroke="none" stroke-width="0"/>
<line x1="317.5" y1="830.58" x2="317.5" y2="836.73" stroke="#6a2c91" stroke-width="0.6"/>
<line x1="316.5" y1="830.58" x2="318.5" y2="830.58" stroke="#6a2c91" stroke-width="0.6"/>
<line x1="316.5" y1="836.73" x2="318.5" y2="836.73" stroke="#6a2c91" stroke-width="0.6"/>
<path d="M317.5 832.36L316.3 834.56L318.7 834.56Z" fill="#6a2c91" stroke="none" stroke-width="0"/>
<line x1="325" y1="828.86" x2="325" y2="836.15" stroke="#6a2c91" stroke-width="0.6"/>
<line x1="324" y1="828.86" x2="326" y2="828.86" stroke="#6a2c91" stroke-width="0.6"/>
<line x1="324" y1="836.15" x2="326" y2="836.15" stroke="#6a2c91" stroke-width="0.6"/>
<path d="M325 831.2L323.8 833.4L326.2 833.4Z" fill="#6a2c91" stroke="none" stroke-width="0"/>
<line x1="332.5" y1="827.13" x2="332.5" y2="835.58" stroke="#6a2c91" stroke-width="0.6"/>
<line x1="331.5" y1="827.13" x2="333.5" y2="827.13" stroke="#6a2c91" stroke-width="0.6"/>
<line x1="331.5" y1="835.58" x2="333.5" y2="835.58" stroke="#6a2c91" stroke-width="0.6"/>
<path d="M332.5 830.05L331.3 832.25L333.7 832.25Z" fill="#6a2c91" stroke="none" stroke-width="0"/>
<line x1="341" y1="825.98" x2="341" y2="835.19" stroke="#6a2c91" stroke-width="0.6"/>
<line x1="340" y1="825.98" x2="342" y2="825.98" stroke="#6a2c91" stroke-width="0.6"/>
<line x1="340" y1="835.19" x2="342" y2="835.19" stroke="#6a2c91" stroke-width="0.6"/>
<path d="M341 829.28L339.8 831.48L342.2 831.48Z" fill="#6a2c91" stroke="none" stroke-width="0"/>
<path d="M231 839.57 L237.5 839.42 L244 839.19 L251 838.88 L260 838.42 L267.5 837.88 L275 837.11 L285 836.34 L294 835.19 L301.5 833.27 L309 830.58 L317.5 829.43 L325 825.98 L332.5 822.14 L341 817.91" fill="none" stroke="#e0202a" stroke-width="1" stroke-linejoin="round"/>
<line x1="231" y1="839.44" x2="231" y2="839.7" stroke="#e0202a" stroke-width="0.6"/>
<line x1="230" y1="839.44" x2="232" y2="839.44" stroke="#e0202a" stroke-width="0.6"/>
<line x1="230" y1="839.7" x2="232" y2="839.7" stroke="#e0202a" stroke-width="0.6"/>
<rect x="230.05" y="838.62" width="1.9" height="1.9" fill="#e0202a"/>
<line x1="237.5" y1="839.2" x2="237.5" y2="839.63" stroke="#e0202a" stroke-width="0.6"/>
<line x1="236.5" y1="839.2" x2="238.5" y2="839.2" stroke="#e0202a" stroke-width="0.6"/>
<line x1="236.5" y1="839.63" x2="238.5" y2="839.63" stroke="#e0202a" stroke-width="0.6"/>
<rect x="236.55" y="838.47" width="1.9" height="1.9" fill="#e0202a"/>
<line x1="244" y1="838.85" x2="244" y2="839.52" stroke="#e0202a" stroke-width="0.6"/>
<line x1="243" y1="838.85" x2="245" y2="838.85" stroke="#e0202a" stroke-width="0.6"/>
<line x1="243" y1="839.52" x2="245" y2="839.52" stroke="#e0202a" stroke-width="0.6"/>
<rect x="243.05" y="838.24" width="1.9" height="1.9" fill="#e0202a"/>
<line x1="251" y1="838.37" x2="251" y2="839.39" stroke="#e0202a" stroke-width="0.6"/>
<line x1="250" y1="838.37" x2="252" y2="838.37" stroke="#e0202a" stroke-width="0.6"/>
<line x1="250" y1="839.39" x2="252" y2="839.39" stroke="#e0202a" stroke-width="0.6"/>
<rect x="250.05" y="837.93" width="1.9" height="1.9" fill="#e0202a"/>
<line x1="260" y1="837.66" x2="260" y2="839.18" stroke="#e0202a" stroke-width="0.6"/>
<line x1="259" y1="837.66" x2="261" y2="837.66" stroke="#e0202a" stroke-width="0.6"/>
<line x1="259" y1="839.18" x2="261" y2="839.18" stroke="#e0202a" stroke-width="0.6"/>
<rect x="259.05" y="837.47" width="1.9" height="1.9" fill="#e0202a"/>
<line x1="267.5" y1="836.82" x2="267.5" y2="838.94" stroke="#e0202a" stroke-width="0.6"/>
<line x1="266.5" y1="836.82" x2="268.5" y2="836.82" stroke="#e0202a" stroke-width="0.6"/>
<line x1="266.5" y1="838.94" x2="268.5" y2="838.94" stroke="#e0202a" stroke-width="0.6"/>
<rect x="266.55" y="836.93" width="1.9" height="1.9" fill="#e0202a"/>
<line x1="275" y1="835.63" x2="275" y2="838.59" stroke="#e0202a" stroke-width="0.6"/>
<line x1="274" y1="835.63" x2="276" y2="835.63" stroke="#e0202a" stroke-width="0.6"/>
<line x1="274" y1="838.59" x2="276" y2="838.59" stroke="#e0202a" stroke-width="0.6"/>
<rect x="274.05" y="836.16" width="1.9" height="1.9" fill="#e0202a"/>
<line x1="285" y1="834.44" x2="285" y2="838.24" stroke="#e0202a" stroke-width="0.6"/>
<line x1="284" y1="834.44" x2="286" y2="834.44" stroke="#e0202a" stroke-width="0.6"/>
<line x1="284" y1="838.24" x2="286" y2="838.24" stroke="#e0202a" stroke-width="0.6"/>
<rect x="284.05" y="835.39" width="1.9" height="1.9" fill="#e0202a"/>
<line x1="294" y1="832.66" x2="294" y2="837.73" stroke="#e0202a" stroke-width="0.6"/>
<line x1="293" y1="832.66" x2="295" y2="832.66" stroke="#e0202a" stroke-width="0.6"/>
<line x1="293" y1="837.73" x2="295" y2="837.73" stroke="#e0202a" stroke-width="0.6"/>
<rect x="293.05" y="834.24" width="1.9" height="1.9" fill="#e0202a"/>
<line x1="301.5" y1="829.68" x2="301.5" y2="836.86" stroke="#e0202a" stroke-width="0.6"/>
<line x1="300.5" y1="829.68" x2="302.5" y2="829.68" stroke="#e0202a" stroke-width="0.6"/>
<line x1="300.5" y1="836.86" x2="302.5" y2="836.86" stroke="#e0202a" stroke-width="0.6"/>
<rect x="300.55" y="832.32" width="1.9" height="1.9" fill="#e0202a"/>
<line x1="309" y1="825.52" x2="309" y2="835.65" stroke="#e0202a" stroke-width="0.6"/>
<line x1="308" y1="825.52" x2="310" y2="825.52" stroke="#e0202a" stroke-width="0.6"/>
<line x1="308" y1="835.65" x2="310" y2="835.65" stroke="#e0202a" stroke-width="0.6"/>
<rect x="308.05" y="829.63" width="1.9" height="1.9" fill="#e0202a"/>
<line x1="317.5" y1="823.73" x2="317.5" y2="835.13" stroke="#e0202a" stroke-width="0.6"/>
<line x1="316.5" y1="823.73" x2="318.5" y2="823.73" stroke="#e0202a" stroke-width="0.6"/>
<line x1="316.5" y1="835.13" x2="318.5" y2="835.13" stroke="#e0202a" stroke-width="0.6"/>
<rect x="316.55" y="828.48" width="1.9" height="1.9" fill="#e0202a"/>
<line x1="325" y1="818.37" x2="325" y2="833.58" stroke="#e0202a" stroke-width="0.6"/>
<line x1="324" y1="818.37" x2="326" y2="818.37" stroke="#e0202a" stroke-width="0.6"/>
<line x1="324" y1="833.58" x2="326" y2="833.58" stroke="#e0202a" stroke-width="0.6"/>
<rect x="324.05" y="825.03" width="1.9" height="1.9" fill="#e0202a"/>
<line x1="332.5" y1="812.42" x2="332.5" y2="831.85" stroke="#e0202a" stroke-width="0.6"/>
<line x1="331.5" y1="812.42" x2="333.5" y2="812.42" stroke="#e0202a" stroke-width="0.6"/>
<line x1="331.5" y1="831.85" x2="333.5" y2="831.85" stroke="#e0202a" stroke-width="0.6"/>
<rect x="331.55" y="821.19" width="1.9" height="1.9" fill="#e0202a"/>
<line x1="341" y1="805.87" x2="341" y2="829.95" stroke="#e0202a" stroke-width="0.6"/>
<line x1="340" y1="805.87" x2="342" y2="805.87" stroke="#e0202a" stroke-width="0.6"/>
<line x1="340" y1="829.95" x2="342" y2="829.95" stroke="#e0202a" stroke-width="0.6"/>
<rect x="340.05" y="816.96" width="1.9" height="1.9" fill="#e0202a"/>
<path d="M231 838.8 L237.5 838.29 L244 836.29 L251 834.28 L260 832.27 L267.5 828.76 L275 826.75 L285 824.74 L294 818.72 L301.5 813.7 L309 807.17 L317.5 802.15 L325 793.12 L332.5 785.59 L341 779.56" fill="none" stroke="#111" stroke-width="1.25" stroke-linejoin="round"/>
<line x1="231" y1="838.3" x2="231" y2="839.3" stroke="#555" stroke-width="0.6"/>
<line x1="230" y1="838.3" x2="232" y2="838.3" stroke="#555" stroke-width="0.6"/>
<line x1="230" y1="839.3" x2="232" y2="839.3" stroke="#555" stroke-width="0.6"/>
<circle cx="231" cy="838.8" r="1.25" fill="#111"/>
<line x1="237.5" y1="837.79" x2="237.5" y2="838.79" stroke="#555" stroke-width="0.6"/>
<line x1="236.5" y1="837.79" x2="238.5" y2="837.79" stroke="#555" stroke-width="0.6"/>
<line x1="236.5" y1="838.79" x2="238.5" y2="838.79" stroke="#555" stroke-width="0.6"/>
<circle cx="237.5" cy="838.29" r="1.25" fill="#111"/>
<line x1="244" y1="835.46" x2="244" y2="837.11" stroke="#555" stroke-width="0.6"/>
<line x1="243" y1="835.46" x2="245" y2="835.46" stroke="#555" stroke-width="0.6"/>
<line x1="243" y1="837.11" x2="245" y2="837.11" stroke="#555" stroke-width="0.6"/>
<circle cx="244" cy="836.29" r="1.25" fill="#111"/>
<line x1="251" y1="832.98" x2="251" y2="835.58" stroke="#555" stroke-width="0.6"/>
<line x1="250" y1="832.98" x2="252" y2="832.98" stroke="#555" stroke-width="0.6"/>
<line x1="250" y1="835.58" x2="252" y2="835.58" stroke="#555" stroke-width="0.6"/>
<circle cx="251" cy="834.28" r="1.25" fill="#111"/>
<line x1="260" y1="830.5" x2="260" y2="834.04" stroke="#555" stroke-width="0.6"/>
<line x1="259" y1="830.5" x2="261" y2="830.5" stroke="#555" stroke-width="0.6"/>
<line x1="259" y1="834.04" x2="261" y2="834.04" stroke="#555" stroke-width="0.6"/>
<circle cx="260" cy="832.27" r="1.25" fill="#111"/>
<line x1="267.5" y1="826.16" x2="267.5" y2="831.35" stroke="#555" stroke-width="0.6"/>
<line x1="266.5" y1="826.16" x2="268.5" y2="826.16" stroke="#555" stroke-width="0.6"/>
<line x1="266.5" y1="831.35" x2="268.5" y2="831.35" stroke="#555" stroke-width="0.6"/>
<circle cx="267.5" cy="828.76" r="1.25" fill="#111"/>
<line x1="275" y1="823.68" x2="275" y2="829.82" stroke="#555" stroke-width="0.6"/>
<line x1="274" y1="823.68" x2="276" y2="823.68" stroke="#555" stroke-width="0.6"/>
<line x1="274" y1="829.82" x2="276" y2="829.82" stroke="#555" stroke-width="0.6"/>
<circle cx="275" cy="826.75" r="1.25" fill="#111"/>
<line x1="285" y1="821.2" x2="285" y2="828.28" stroke="#555" stroke-width="0.6"/>
<line x1="284" y1="821.2" x2="286" y2="821.2" stroke="#555" stroke-width="0.6"/>
<line x1="284" y1="828.28" x2="286" y2="828.28" stroke="#555" stroke-width="0.6"/>
<circle cx="285" cy="824.74" r="1.25" fill="#111"/>
<line x1="294" y1="813.76" x2="294" y2="823.67" stroke="#555" stroke-width="0.6"/>
<line x1="293" y1="813.76" x2="295" y2="813.76" stroke="#555" stroke-width="0.6"/>
<line x1="293" y1="823.67" x2="295" y2="823.67" stroke="#555" stroke-width="0.6"/>
<circle cx="294" cy="818.72" r="1.25" fill="#111"/>
<line x1="301.5" y1="807.56" x2="301.5" y2="819.83" stroke="#555" stroke-width="0.6"/>
<line x1="300.5" y1="807.56" x2="302.5" y2="807.56" stroke="#555" stroke-width="0.6"/>
<line x1="300.5" y1="819.83" x2="302.5" y2="819.83" stroke="#555" stroke-width="0.6"/>
<circle cx="301.5" cy="813.7" r="1.25" fill="#111"/>
<line x1="309" y1="799.51" x2="309" y2="814.84" stroke="#555" stroke-width="0.6"/>
<line x1="308" y1="799.51" x2="310" y2="799.51" stroke="#555" stroke-width="0.6"/>
<line x1="308" y1="814.84" x2="310" y2="814.84" stroke="#555" stroke-width="0.6"/>
<circle cx="309" cy="807.17" r="1.25" fill="#111"/>
<line x1="317.5" y1="793.31" x2="317.5" y2="811" stroke="#555" stroke-width="0.6"/>
<line x1="316.5" y1="793.31" x2="318.5" y2="793.31" stroke="#555" stroke-width="0.6"/>
<line x1="316.5" y1="811" x2="318.5" y2="811" stroke="#555" stroke-width="0.6"/>
<circle cx="317.5" cy="802.15" r="1.25" fill="#111"/>
<line x1="325" y1="782.15" x2="325" y2="804.09" stroke="#555" stroke-width="0.6"/>
<line x1="324" y1="782.15" x2="326" y2="782.15" stroke="#555" stroke-width="0.6"/>
<line x1="324" y1="804.09" x2="326" y2="804.09" stroke="#555" stroke-width="0.6"/>
<circle cx="325" cy="793.12" r="1.25" fill="#111"/>
<line x1="332.5" y1="772.85" x2="332.5" y2="798.33" stroke="#555" stroke-width="0.6"/>
<line x1="331.5" y1="772.85" x2="333.5" y2="772.85" stroke="#555" stroke-width="0.6"/>
<line x1="331.5" y1="798.33" x2="333.5" y2="798.33" stroke="#555" stroke-width="0.6"/>
<circle cx="332.5" cy="785.59" r="1.25" fill="#111"/>
<line x1="341" y1="765.41" x2="341" y2="793.72" stroke="#555" stroke-width="0.6"/>
<line x1="340" y1="765.41" x2="342" y2="765.41" stroke="#555" stroke-width="0.6"/>
<line x1="340" y1="793.72" x2="342" y2="793.72" stroke="#555" stroke-width="0.6"/>
<circle cx="341" cy="779.56" r="1.25" fill="#111"/>
</g>
</svg></body></html>
